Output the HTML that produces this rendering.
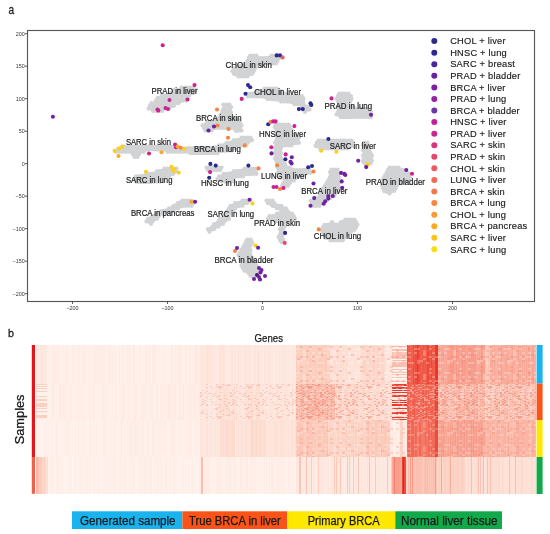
<!DOCTYPE html>
<html><head><meta charset="utf-8"><style>
html,body{margin:0;padding:0;background:#fff;width:550px;height:534px;overflow:hidden;font-family:"Liberation Sans", sans-serif;}
</style></head><body>
<div style="position:relative;width:550px;height:534px;">
<svg width="550" height="534" viewBox="0 0 550 534" style="position:absolute;left:0;top:0;filter:blur(0.3px)"><rect width="550" height="534" fill="#fff"/><text x="8.5" y="13.6" textLength="5.6" lengthAdjust="spacingAndGlyphs" font-family='"Liberation Sans", sans-serif' font-size="12.3" fill="#222" stroke="#222" stroke-width="0.3">a</text><text x="8" y="336.9" textLength="6" lengthAdjust="spacingAndGlyphs" font-family='"Liberation Sans", sans-serif' font-size="11.5" fill="#222" stroke="#222" stroke-width="0.3">b</text><polygon points="248,55 257,54 260,58 268,56 276,54 280,57 279,62 275,65 268,64 258,64 256,70 254,75 245,77 234,76 232,71 236,66 246,63 247,59" fill="#d1d3d5"/><polygon points="246,93 256,91 262,90 267,87 278,87 282,92 290,95 300,94 305,97 305,104 310,106 311,111 305,112 301,106 292,104 283,102 272,101 262,98 248,98" fill="#d1d3d5"/><polygon points="186,86 196,86 197,92 190,96 186,101 178,104 172,108 164,111 156,112 148,110 148,104 155,102 158,96 166,94 172,90 180,88" fill="#d1d3d5"/><polygon points="224,103 230,103 232,108 231,116 238,118 242,122 242,131 236,133 232,128 224,128 216,129 212,131 204,131 202,126 206,121 214,120 220,117 221,110" fill="#d1d3d5"/><polygon points="187,148 205,147 220,145 232,140 242,137 250,136 253,140 248,145 238,148 228,152 212,154 198,155 188,154" fill="#d1d3d5"/><polygon points="116,148 125,146 140,145 160,145 175,146 188,148 195,149 195,153 185,153 170,152 150,151 140,153 138,157 133,157 130,153 120,153 116,152" fill="#d1d3d5"/><polygon points="136,175 150,173 158,170 168,167 176,167 178,172 172,176 165,178 160,182 150,184 138,184 134,180" fill="#d1d3d5"/><polygon points="274,123 290,123 292,128 293,134 299,137 300,144 290,146 282,146 282,158 287,163 287,170 280,169 275,163 274,150 275,140 276,131 273,127" fill="#d1d3d5"/><polygon points="217,176 228,172 240,169 250,167 257,168 258,175 248,176 236,177 234,183 227,183 222,182 217,181" fill="#d1d3d5"/><polygon points="206,167 222,166 222,171 207,171" fill="#d1d3d5"/><polygon points="277,167 290,166 296,170 305,168 311,168 312,173 305,175 297,177 293,182 287,187 281,188 281,183 285,180 279,178 277,173" fill="#d1d3d5"/><polygon points="315,141 330,139 345,139 354,141 354,148 340,149 325,149 315,148" fill="#d1d3d5"/><polygon points="362,141 368,141 369,150 373,155 372,163 366,166 361,162 363,152" fill="#d1d3d5"/><polygon points="337,93 346,92 353,95 352,103 346,106 358,107 366,108 372,112 372,119 362,118 350,119 340,119 336,114 338,106 336,100" fill="#d1d3d5"/><polygon points="331,168 337,168 340,175 340,185 338,192 333,198 326,202 320,206 311,206 310,200 318,196 321,188 326,182 329,175" fill="#d1d3d5"/><polygon points="387,168 395,166 402,168 404,172 410,172 411,180 405,183 398,184 397,190 390,194 383,193 380,186 382,178 386,174" fill="#d1d3d5"/><polygon points="178,201 186,199 193,199 196,203 192,206 184,207 177,210 170,212 163,214 158,219 151,224 146,223 147,218 154,214 160,210 168,208 173,205" fill="#d1d3d5"/><polygon points="239,201 247,199 250,202 245,205 236,209 231,213 230,219 224,224 216,229 209,233 206,230 212,225 219,219 224,214 226,209 232,204" fill="#d1d3d5"/><polygon points="266,200 271,199 278,204 286,208 291,212 296,216 295,221 289,221 285,225 284,232 284,240 281,244 278,240 279,231 280,224 272,221 267,219 268,215 276,214 280,211 272,207 267,204" fill="#d1d3d5"/><polygon points="323,224 332,222 338,223 344,219 352,218 357,221 358,228 352,233 346,236 345,241 336,242 328,240 322,235 321,229" fill="#d1d3d5"/><polygon points="245,239 252,238 254,243 251,248 252,255 255,260 257,266 260,271 259,277 252,278 246,273 242,268 240,262 238,255 240,249 243,245" fill="#d1d3d5"/><g fill="#d1d3d5"><circle cx="250.5" cy="55.6" r="2.1"/><circle cx="253.5" cy="55.6" r="2.1"/><circle cx="256.5" cy="55.6" r="2.1"/><circle cx="271.5" cy="55.6" r="2.1"/><circle cx="274.5" cy="55.6" r="2.1"/><circle cx="277.5" cy="55.6" r="2.1"/><circle cx="249.0" cy="58.2" r="2.1"/><circle cx="252.0" cy="58.2" r="2.1"/><circle cx="255.0" cy="58.2" r="2.1"/><circle cx="258.0" cy="58.2" r="2.1"/><circle cx="261.0" cy="58.2" r="2.1"/><circle cx="264.0" cy="58.2" r="2.1"/><circle cx="267.0" cy="58.2" r="2.1"/><circle cx="270.0" cy="58.2" r="2.1"/><circle cx="273.0" cy="58.2" r="2.1"/><circle cx="276.0" cy="58.2" r="2.1"/><circle cx="279.0" cy="58.2" r="2.1"/><circle cx="247.5" cy="60.8" r="2.1"/><circle cx="250.5" cy="60.8" r="2.1"/><circle cx="253.5" cy="60.8" r="2.1"/><circle cx="256.5" cy="60.8" r="2.1"/><circle cx="259.5" cy="60.8" r="2.1"/><circle cx="262.5" cy="60.8" r="2.1"/><circle cx="265.5" cy="60.8" r="2.1"/><circle cx="268.5" cy="60.8" r="2.1"/><circle cx="271.5" cy="60.8" r="2.1"/><circle cx="274.5" cy="60.8" r="2.1"/><circle cx="277.5" cy="60.8" r="2.1"/><circle cx="246.0" cy="63.4" r="2.1"/><circle cx="249.0" cy="63.4" r="2.1"/><circle cx="252.0" cy="63.4" r="2.1"/><circle cx="255.0" cy="63.4" r="2.1"/><circle cx="258.0" cy="63.4" r="2.1"/><circle cx="261.0" cy="63.4" r="2.1"/><circle cx="264.0" cy="63.4" r="2.1"/><circle cx="267.0" cy="63.4" r="2.1"/><circle cx="270.0" cy="63.4" r="2.1"/><circle cx="273.0" cy="63.4" r="2.1"/><circle cx="276.0" cy="63.4" r="2.1"/><circle cx="238.5" cy="66.0" r="2.1"/><circle cx="241.5" cy="66.0" r="2.1"/><circle cx="244.5" cy="66.0" r="2.1"/><circle cx="247.5" cy="66.0" r="2.1"/><circle cx="250.5" cy="66.0" r="2.1"/><circle cx="253.5" cy="66.0" r="2.1"/><circle cx="256.5" cy="66.0" r="2.1"/><circle cx="234.0" cy="68.6" r="2.1"/><circle cx="237.0" cy="68.6" r="2.1"/><circle cx="240.0" cy="68.6" r="2.1"/><circle cx="243.0" cy="68.6" r="2.1"/><circle cx="246.0" cy="68.6" r="2.1"/><circle cx="249.0" cy="68.6" r="2.1"/><circle cx="252.0" cy="68.6" r="2.1"/><circle cx="255.0" cy="68.6" r="2.1"/><circle cx="232.5" cy="71.2" r="2.1"/><circle cx="235.5" cy="71.2" r="2.1"/><circle cx="238.5" cy="71.2" r="2.1"/><circle cx="241.5" cy="71.2" r="2.1"/><circle cx="244.5" cy="71.2" r="2.1"/><circle cx="247.5" cy="71.2" r="2.1"/><circle cx="250.5" cy="71.2" r="2.1"/><circle cx="253.5" cy="71.2" r="2.1"/><circle cx="234.0" cy="73.8" r="2.1"/><circle cx="237.0" cy="73.8" r="2.1"/><circle cx="240.0" cy="73.8" r="2.1"/><circle cx="243.0" cy="73.8" r="2.1"/><circle cx="246.0" cy="73.8" r="2.1"/><circle cx="249.0" cy="73.8" r="2.1"/><circle cx="252.0" cy="73.8" r="2.1"/><circle cx="238.5" cy="76.4" r="2.1"/><circle cx="241.5" cy="76.4" r="2.1"/><circle cx="244.5" cy="76.4" r="2.1"/><circle cx="247.5" cy="76.4" r="2.1"/><circle cx="264.5" cy="88.6" r="2.1"/><circle cx="267.5" cy="88.6" r="2.1"/><circle cx="270.5" cy="88.6" r="2.1"/><circle cx="273.5" cy="88.6" r="2.1"/><circle cx="276.5" cy="88.6" r="2.1"/><circle cx="257.0" cy="91.2" r="2.1"/><circle cx="260.0" cy="91.2" r="2.1"/><circle cx="263.0" cy="91.2" r="2.1"/><circle cx="266.0" cy="91.2" r="2.1"/><circle cx="269.0" cy="91.2" r="2.1"/><circle cx="272.0" cy="91.2" r="2.1"/><circle cx="275.0" cy="91.2" r="2.1"/><circle cx="278.0" cy="91.2" r="2.1"/><circle cx="281.0" cy="91.2" r="2.1"/><circle cx="246.5" cy="93.8" r="2.1"/><circle cx="249.5" cy="93.8" r="2.1"/><circle cx="252.5" cy="93.8" r="2.1"/><circle cx="255.5" cy="93.8" r="2.1"/><circle cx="258.5" cy="93.8" r="2.1"/><circle cx="261.5" cy="93.8" r="2.1"/><circle cx="264.5" cy="93.8" r="2.1"/><circle cx="267.5" cy="93.8" r="2.1"/><circle cx="270.5" cy="93.8" r="2.1"/><circle cx="273.5" cy="93.8" r="2.1"/><circle cx="276.5" cy="93.8" r="2.1"/><circle cx="279.5" cy="93.8" r="2.1"/><circle cx="282.5" cy="93.8" r="2.1"/><circle cx="285.5" cy="93.8" r="2.1"/><circle cx="248.0" cy="96.4" r="2.1"/><circle cx="251.0" cy="96.4" r="2.1"/><circle cx="254.0" cy="96.4" r="2.1"/><circle cx="257.0" cy="96.4" r="2.1"/><circle cx="260.0" cy="96.4" r="2.1"/><circle cx="263.0" cy="96.4" r="2.1"/><circle cx="266.0" cy="96.4" r="2.1"/><circle cx="269.0" cy="96.4" r="2.1"/><circle cx="272.0" cy="96.4" r="2.1"/><circle cx="275.0" cy="96.4" r="2.1"/><circle cx="278.0" cy="96.4" r="2.1"/><circle cx="281.0" cy="96.4" r="2.1"/><circle cx="284.0" cy="96.4" r="2.1"/><circle cx="287.0" cy="96.4" r="2.1"/><circle cx="290.0" cy="96.4" r="2.1"/><circle cx="293.0" cy="96.4" r="2.1"/><circle cx="296.0" cy="96.4" r="2.1"/><circle cx="299.0" cy="96.4" r="2.1"/><circle cx="302.0" cy="96.4" r="2.1"/><circle cx="267.5" cy="99.0" r="2.1"/><circle cx="270.5" cy="99.0" r="2.1"/><circle cx="273.5" cy="99.0" r="2.1"/><circle cx="276.5" cy="99.0" r="2.1"/><circle cx="279.5" cy="99.0" r="2.1"/><circle cx="282.5" cy="99.0" r="2.1"/><circle cx="285.5" cy="99.0" r="2.1"/><circle cx="288.5" cy="99.0" r="2.1"/><circle cx="291.5" cy="99.0" r="2.1"/><circle cx="294.5" cy="99.0" r="2.1"/><circle cx="297.5" cy="99.0" r="2.1"/><circle cx="300.5" cy="99.0" r="2.1"/><circle cx="303.5" cy="99.0" r="2.1"/><circle cx="281.0" cy="101.6" r="2.1"/><circle cx="284.0" cy="101.6" r="2.1"/><circle cx="287.0" cy="101.6" r="2.1"/><circle cx="290.0" cy="101.6" r="2.1"/><circle cx="293.0" cy="101.6" r="2.1"/><circle cx="296.0" cy="101.6" r="2.1"/><circle cx="299.0" cy="101.6" r="2.1"/><circle cx="302.0" cy="101.6" r="2.1"/><circle cx="294.5" cy="104.2" r="2.1"/><circle cx="297.5" cy="104.2" r="2.1"/><circle cx="300.5" cy="104.2" r="2.1"/><circle cx="303.5" cy="104.2" r="2.1"/><circle cx="302.0" cy="106.8" r="2.1"/><circle cx="305.0" cy="106.8" r="2.1"/><circle cx="308.0" cy="106.8" r="2.1"/><circle cx="303.5" cy="109.4" r="2.1"/><circle cx="306.5" cy="109.4" r="2.1"/><circle cx="309.5" cy="109.4" r="2.1"/><circle cx="305.0" cy="112.0" r="2.1"/><circle cx="181.5" cy="87.6" r="2.1"/><circle cx="184.5" cy="87.6" r="2.1"/><circle cx="187.5" cy="87.6" r="2.1"/><circle cx="190.5" cy="87.6" r="2.1"/><circle cx="193.5" cy="87.6" r="2.1"/><circle cx="174.0" cy="90.2" r="2.1"/><circle cx="177.0" cy="90.2" r="2.1"/><circle cx="180.0" cy="90.2" r="2.1"/><circle cx="183.0" cy="90.2" r="2.1"/><circle cx="186.0" cy="90.2" r="2.1"/><circle cx="189.0" cy="90.2" r="2.1"/><circle cx="192.0" cy="90.2" r="2.1"/><circle cx="195.0" cy="90.2" r="2.1"/><circle cx="169.5" cy="92.8" r="2.1"/><circle cx="172.5" cy="92.8" r="2.1"/><circle cx="175.5" cy="92.8" r="2.1"/><circle cx="178.5" cy="92.8" r="2.1"/><circle cx="181.5" cy="92.8" r="2.1"/><circle cx="184.5" cy="92.8" r="2.1"/><circle cx="187.5" cy="92.8" r="2.1"/><circle cx="190.5" cy="92.8" r="2.1"/><circle cx="193.5" cy="92.8" r="2.1"/><circle cx="162.0" cy="95.4" r="2.1"/><circle cx="165.0" cy="95.4" r="2.1"/><circle cx="168.0" cy="95.4" r="2.1"/><circle cx="171.0" cy="95.4" r="2.1"/><circle cx="174.0" cy="95.4" r="2.1"/><circle cx="177.0" cy="95.4" r="2.1"/><circle cx="180.0" cy="95.4" r="2.1"/><circle cx="183.0" cy="95.4" r="2.1"/><circle cx="186.0" cy="95.4" r="2.1"/><circle cx="189.0" cy="95.4" r="2.1"/><circle cx="157.5" cy="98.0" r="2.1"/><circle cx="160.5" cy="98.0" r="2.1"/><circle cx="163.5" cy="98.0" r="2.1"/><circle cx="166.5" cy="98.0" r="2.1"/><circle cx="169.5" cy="98.0" r="2.1"/><circle cx="172.5" cy="98.0" r="2.1"/><circle cx="175.5" cy="98.0" r="2.1"/><circle cx="178.5" cy="98.0" r="2.1"/><circle cx="181.5" cy="98.0" r="2.1"/><circle cx="184.5" cy="98.0" r="2.1"/><circle cx="187.5" cy="98.0" r="2.1"/><circle cx="156.0" cy="100.6" r="2.1"/><circle cx="159.0" cy="100.6" r="2.1"/><circle cx="162.0" cy="100.6" r="2.1"/><circle cx="165.0" cy="100.6" r="2.1"/><circle cx="168.0" cy="100.6" r="2.1"/><circle cx="171.0" cy="100.6" r="2.1"/><circle cx="174.0" cy="100.6" r="2.1"/><circle cx="177.0" cy="100.6" r="2.1"/><circle cx="180.0" cy="100.6" r="2.1"/><circle cx="183.0" cy="100.6" r="2.1"/><circle cx="186.0" cy="100.6" r="2.1"/><circle cx="151.5" cy="103.2" r="2.1"/><circle cx="154.5" cy="103.2" r="2.1"/><circle cx="157.5" cy="103.2" r="2.1"/><circle cx="160.5" cy="103.2" r="2.1"/><circle cx="163.5" cy="103.2" r="2.1"/><circle cx="166.5" cy="103.2" r="2.1"/><circle cx="169.5" cy="103.2" r="2.1"/><circle cx="172.5" cy="103.2" r="2.1"/><circle cx="175.5" cy="103.2" r="2.1"/><circle cx="178.5" cy="103.2" r="2.1"/><circle cx="150.0" cy="105.8" r="2.1"/><circle cx="153.0" cy="105.8" r="2.1"/><circle cx="156.0" cy="105.8" r="2.1"/><circle cx="159.0" cy="105.8" r="2.1"/><circle cx="162.0" cy="105.8" r="2.1"/><circle cx="165.0" cy="105.8" r="2.1"/><circle cx="168.0" cy="105.8" r="2.1"/><circle cx="171.0" cy="105.8" r="2.1"/><circle cx="174.0" cy="105.8" r="2.1"/><circle cx="148.5" cy="108.4" r="2.1"/><circle cx="151.5" cy="108.4" r="2.1"/><circle cx="154.5" cy="108.4" r="2.1"/><circle cx="157.5" cy="108.4" r="2.1"/><circle cx="160.5" cy="108.4" r="2.1"/><circle cx="163.5" cy="108.4" r="2.1"/><circle cx="166.5" cy="108.4" r="2.1"/><circle cx="169.5" cy="108.4" r="2.1"/><circle cx="153.0" cy="111.0" r="2.1"/><circle cx="156.0" cy="111.0" r="2.1"/><circle cx="159.0" cy="111.0" r="2.1"/><circle cx="162.0" cy="111.0" r="2.1"/><circle cx="223.5" cy="104.6" r="2.1"/><circle cx="226.5" cy="104.6" r="2.1"/><circle cx="229.5" cy="104.6" r="2.1"/><circle cx="225.0" cy="107.2" r="2.1"/><circle cx="228.0" cy="107.2" r="2.1"/><circle cx="231.0" cy="107.2" r="2.1"/><circle cx="223.5" cy="109.8" r="2.1"/><circle cx="226.5" cy="109.8" r="2.1"/><circle cx="229.5" cy="109.8" r="2.1"/><circle cx="222.0" cy="112.4" r="2.1"/><circle cx="225.0" cy="112.4" r="2.1"/><circle cx="228.0" cy="112.4" r="2.1"/><circle cx="231.0" cy="112.4" r="2.1"/><circle cx="220.5" cy="115.0" r="2.1"/><circle cx="223.5" cy="115.0" r="2.1"/><circle cx="226.5" cy="115.0" r="2.1"/><circle cx="229.5" cy="115.0" r="2.1"/><circle cx="219.0" cy="117.6" r="2.1"/><circle cx="222.0" cy="117.6" r="2.1"/><circle cx="225.0" cy="117.6" r="2.1"/><circle cx="228.0" cy="117.6" r="2.1"/><circle cx="231.0" cy="117.6" r="2.1"/><circle cx="234.0" cy="117.6" r="2.1"/><circle cx="214.5" cy="120.2" r="2.1"/><circle cx="217.5" cy="120.2" r="2.1"/><circle cx="220.5" cy="120.2" r="2.1"/><circle cx="223.5" cy="120.2" r="2.1"/><circle cx="226.5" cy="120.2" r="2.1"/><circle cx="229.5" cy="120.2" r="2.1"/><circle cx="232.5" cy="120.2" r="2.1"/><circle cx="235.5" cy="120.2" r="2.1"/><circle cx="238.5" cy="120.2" r="2.1"/><circle cx="207.0" cy="122.8" r="2.1"/><circle cx="210.0" cy="122.8" r="2.1"/><circle cx="213.0" cy="122.8" r="2.1"/><circle cx="216.0" cy="122.8" r="2.1"/><circle cx="219.0" cy="122.8" r="2.1"/><circle cx="222.0" cy="122.8" r="2.1"/><circle cx="225.0" cy="122.8" r="2.1"/><circle cx="228.0" cy="122.8" r="2.1"/><circle cx="231.0" cy="122.8" r="2.1"/><circle cx="234.0" cy="122.8" r="2.1"/><circle cx="237.0" cy="122.8" r="2.1"/><circle cx="240.0" cy="122.8" r="2.1"/><circle cx="202.5" cy="125.4" r="2.1"/><circle cx="205.5" cy="125.4" r="2.1"/><circle cx="208.5" cy="125.4" r="2.1"/><circle cx="211.5" cy="125.4" r="2.1"/><circle cx="214.5" cy="125.4" r="2.1"/><circle cx="217.5" cy="125.4" r="2.1"/><circle cx="220.5" cy="125.4" r="2.1"/><circle cx="223.5" cy="125.4" r="2.1"/><circle cx="226.5" cy="125.4" r="2.1"/><circle cx="229.5" cy="125.4" r="2.1"/><circle cx="232.5" cy="125.4" r="2.1"/><circle cx="235.5" cy="125.4" r="2.1"/><circle cx="238.5" cy="125.4" r="2.1"/><circle cx="241.5" cy="125.4" r="2.1"/><circle cx="204.0" cy="128.0" r="2.1"/><circle cx="207.0" cy="128.0" r="2.1"/><circle cx="210.0" cy="128.0" r="2.1"/><circle cx="213.0" cy="128.0" r="2.1"/><circle cx="216.0" cy="128.0" r="2.1"/><circle cx="219.0" cy="128.0" r="2.1"/><circle cx="222.0" cy="128.0" r="2.1"/><circle cx="225.0" cy="128.0" r="2.1"/><circle cx="228.0" cy="128.0" r="2.1"/><circle cx="231.0" cy="128.0" r="2.1"/><circle cx="234.0" cy="128.0" r="2.1"/><circle cx="237.0" cy="128.0" r="2.1"/><circle cx="240.0" cy="128.0" r="2.1"/><circle cx="205.5" cy="130.6" r="2.1"/><circle cx="208.5" cy="130.6" r="2.1"/><circle cx="211.5" cy="130.6" r="2.1"/><circle cx="235.5" cy="130.6" r="2.1"/><circle cx="238.5" cy="130.6" r="2.1"/><circle cx="241.5" cy="130.6" r="2.1"/><circle cx="241.5" cy="137.6" r="2.1"/><circle cx="244.5" cy="137.6" r="2.1"/><circle cx="247.5" cy="137.6" r="2.1"/><circle cx="250.5" cy="137.6" r="2.1"/><circle cx="234.0" cy="140.2" r="2.1"/><circle cx="237.0" cy="140.2" r="2.1"/><circle cx="240.0" cy="140.2" r="2.1"/><circle cx="243.0" cy="140.2" r="2.1"/><circle cx="246.0" cy="140.2" r="2.1"/><circle cx="249.0" cy="140.2" r="2.1"/><circle cx="252.0" cy="140.2" r="2.1"/><circle cx="226.5" cy="142.8" r="2.1"/><circle cx="229.5" cy="142.8" r="2.1"/><circle cx="232.5" cy="142.8" r="2.1"/><circle cx="235.5" cy="142.8" r="2.1"/><circle cx="238.5" cy="142.8" r="2.1"/><circle cx="241.5" cy="142.8" r="2.1"/><circle cx="244.5" cy="142.8" r="2.1"/><circle cx="247.5" cy="142.8" r="2.1"/><circle cx="219.0" cy="145.4" r="2.1"/><circle cx="222.0" cy="145.4" r="2.1"/><circle cx="225.0" cy="145.4" r="2.1"/><circle cx="228.0" cy="145.4" r="2.1"/><circle cx="231.0" cy="145.4" r="2.1"/><circle cx="234.0" cy="145.4" r="2.1"/><circle cx="237.0" cy="145.4" r="2.1"/><circle cx="240.0" cy="145.4" r="2.1"/><circle cx="243.0" cy="145.4" r="2.1"/><circle cx="246.0" cy="145.4" r="2.1"/><circle cx="187.5" cy="148.0" r="2.1"/><circle cx="190.5" cy="148.0" r="2.1"/><circle cx="193.5" cy="148.0" r="2.1"/><circle cx="196.5" cy="148.0" r="2.1"/><circle cx="199.5" cy="148.0" r="2.1"/><circle cx="202.5" cy="148.0" r="2.1"/><circle cx="205.5" cy="148.0" r="2.1"/><circle cx="208.5" cy="148.0" r="2.1"/><circle cx="211.5" cy="148.0" r="2.1"/><circle cx="214.5" cy="148.0" r="2.1"/><circle cx="217.5" cy="148.0" r="2.1"/><circle cx="220.5" cy="148.0" r="2.1"/><circle cx="223.5" cy="148.0" r="2.1"/><circle cx="226.5" cy="148.0" r="2.1"/><circle cx="229.5" cy="148.0" r="2.1"/><circle cx="232.5" cy="148.0" r="2.1"/><circle cx="235.5" cy="148.0" r="2.1"/><circle cx="189.0" cy="150.6" r="2.1"/><circle cx="192.0" cy="150.6" r="2.1"/><circle cx="195.0" cy="150.6" r="2.1"/><circle cx="198.0" cy="150.6" r="2.1"/><circle cx="201.0" cy="150.6" r="2.1"/><circle cx="204.0" cy="150.6" r="2.1"/><circle cx="207.0" cy="150.6" r="2.1"/><circle cx="210.0" cy="150.6" r="2.1"/><circle cx="213.0" cy="150.6" r="2.1"/><circle cx="216.0" cy="150.6" r="2.1"/><circle cx="219.0" cy="150.6" r="2.1"/><circle cx="222.0" cy="150.6" r="2.1"/><circle cx="225.0" cy="150.6" r="2.1"/><circle cx="228.0" cy="150.6" r="2.1"/><circle cx="231.0" cy="150.6" r="2.1"/><circle cx="190.5" cy="153.2" r="2.1"/><circle cx="193.5" cy="153.2" r="2.1"/><circle cx="196.5" cy="153.2" r="2.1"/><circle cx="199.5" cy="153.2" r="2.1"/><circle cx="202.5" cy="153.2" r="2.1"/><circle cx="205.5" cy="153.2" r="2.1"/><circle cx="208.5" cy="153.2" r="2.1"/><circle cx="211.5" cy="153.2" r="2.1"/><circle cx="214.5" cy="153.2" r="2.1"/><circle cx="217.5" cy="153.2" r="2.1"/><circle cx="122.5" cy="146.6" r="2.1"/><circle cx="125.5" cy="146.6" r="2.1"/><circle cx="128.5" cy="146.6" r="2.1"/><circle cx="131.5" cy="146.6" r="2.1"/><circle cx="134.5" cy="146.6" r="2.1"/><circle cx="137.5" cy="146.6" r="2.1"/><circle cx="140.5" cy="146.6" r="2.1"/><circle cx="143.5" cy="146.6" r="2.1"/><circle cx="146.5" cy="146.6" r="2.1"/><circle cx="149.5" cy="146.6" r="2.1"/><circle cx="152.5" cy="146.6" r="2.1"/><circle cx="155.5" cy="146.6" r="2.1"/><circle cx="158.5" cy="146.6" r="2.1"/><circle cx="161.5" cy="146.6" r="2.1"/><circle cx="164.5" cy="146.6" r="2.1"/><circle cx="167.5" cy="146.6" r="2.1"/><circle cx="170.5" cy="146.6" r="2.1"/><circle cx="173.5" cy="146.6" r="2.1"/><circle cx="176.5" cy="146.6" r="2.1"/><circle cx="118.0" cy="149.2" r="2.1"/><circle cx="121.0" cy="149.2" r="2.1"/><circle cx="124.0" cy="149.2" r="2.1"/><circle cx="127.0" cy="149.2" r="2.1"/><circle cx="130.0" cy="149.2" r="2.1"/><circle cx="133.0" cy="149.2" r="2.1"/><circle cx="136.0" cy="149.2" r="2.1"/><circle cx="139.0" cy="149.2" r="2.1"/><circle cx="142.0" cy="149.2" r="2.1"/><circle cx="145.0" cy="149.2" r="2.1"/><circle cx="148.0" cy="149.2" r="2.1"/><circle cx="151.0" cy="149.2" r="2.1"/><circle cx="154.0" cy="149.2" r="2.1"/><circle cx="157.0" cy="149.2" r="2.1"/><circle cx="160.0" cy="149.2" r="2.1"/><circle cx="163.0" cy="149.2" r="2.1"/><circle cx="166.0" cy="149.2" r="2.1"/><circle cx="169.0" cy="149.2" r="2.1"/><circle cx="172.0" cy="149.2" r="2.1"/><circle cx="175.0" cy="149.2" r="2.1"/><circle cx="178.0" cy="149.2" r="2.1"/><circle cx="181.0" cy="149.2" r="2.1"/><circle cx="184.0" cy="149.2" r="2.1"/><circle cx="187.0" cy="149.2" r="2.1"/><circle cx="190.0" cy="149.2" r="2.1"/><circle cx="193.0" cy="149.2" r="2.1"/><circle cx="116.5" cy="151.8" r="2.1"/><circle cx="119.5" cy="151.8" r="2.1"/><circle cx="122.5" cy="151.8" r="2.1"/><circle cx="125.5" cy="151.8" r="2.1"/><circle cx="128.5" cy="151.8" r="2.1"/><circle cx="131.5" cy="151.8" r="2.1"/><circle cx="134.5" cy="151.8" r="2.1"/><circle cx="137.5" cy="151.8" r="2.1"/><circle cx="140.5" cy="151.8" r="2.1"/><circle cx="143.5" cy="151.8" r="2.1"/><circle cx="167.5" cy="151.8" r="2.1"/><circle cx="170.5" cy="151.8" r="2.1"/><circle cx="173.5" cy="151.8" r="2.1"/><circle cx="176.5" cy="151.8" r="2.1"/><circle cx="179.5" cy="151.8" r="2.1"/><circle cx="182.5" cy="151.8" r="2.1"/><circle cx="185.5" cy="151.8" r="2.1"/><circle cx="188.5" cy="151.8" r="2.1"/><circle cx="191.5" cy="151.8" r="2.1"/><circle cx="194.5" cy="151.8" r="2.1"/><circle cx="133.0" cy="154.4" r="2.1"/><circle cx="136.0" cy="154.4" r="2.1"/><circle cx="139.0" cy="154.4" r="2.1"/><circle cx="134.5" cy="157.0" r="2.1"/><circle cx="137.5" cy="157.0" r="2.1"/><circle cx="164.5" cy="168.6" r="2.1"/><circle cx="167.5" cy="168.6" r="2.1"/><circle cx="170.5" cy="168.6" r="2.1"/><circle cx="173.5" cy="168.6" r="2.1"/><circle cx="176.5" cy="168.6" r="2.1"/><circle cx="157.0" cy="171.2" r="2.1"/><circle cx="160.0" cy="171.2" r="2.1"/><circle cx="163.0" cy="171.2" r="2.1"/><circle cx="166.0" cy="171.2" r="2.1"/><circle cx="169.0" cy="171.2" r="2.1"/><circle cx="172.0" cy="171.2" r="2.1"/><circle cx="175.0" cy="171.2" r="2.1"/><circle cx="146.5" cy="173.8" r="2.1"/><circle cx="149.5" cy="173.8" r="2.1"/><circle cx="152.5" cy="173.8" r="2.1"/><circle cx="155.5" cy="173.8" r="2.1"/><circle cx="158.5" cy="173.8" r="2.1"/><circle cx="161.5" cy="173.8" r="2.1"/><circle cx="164.5" cy="173.8" r="2.1"/><circle cx="167.5" cy="173.8" r="2.1"/><circle cx="170.5" cy="173.8" r="2.1"/><circle cx="173.5" cy="173.8" r="2.1"/><circle cx="136.0" cy="176.4" r="2.1"/><circle cx="139.0" cy="176.4" r="2.1"/><circle cx="142.0" cy="176.4" r="2.1"/><circle cx="145.0" cy="176.4" r="2.1"/><circle cx="148.0" cy="176.4" r="2.1"/><circle cx="151.0" cy="176.4" r="2.1"/><circle cx="154.0" cy="176.4" r="2.1"/><circle cx="157.0" cy="176.4" r="2.1"/><circle cx="160.0" cy="176.4" r="2.1"/><circle cx="163.0" cy="176.4" r="2.1"/><circle cx="166.0" cy="176.4" r="2.1"/><circle cx="169.0" cy="176.4" r="2.1"/><circle cx="134.5" cy="179.0" r="2.1"/><circle cx="137.5" cy="179.0" r="2.1"/><circle cx="140.5" cy="179.0" r="2.1"/><circle cx="143.5" cy="179.0" r="2.1"/><circle cx="146.5" cy="179.0" r="2.1"/><circle cx="149.5" cy="179.0" r="2.1"/><circle cx="152.5" cy="179.0" r="2.1"/><circle cx="155.5" cy="179.0" r="2.1"/><circle cx="158.5" cy="179.0" r="2.1"/><circle cx="161.5" cy="179.0" r="2.1"/><circle cx="136.0" cy="181.6" r="2.1"/><circle cx="139.0" cy="181.6" r="2.1"/><circle cx="142.0" cy="181.6" r="2.1"/><circle cx="145.0" cy="181.6" r="2.1"/><circle cx="148.0" cy="181.6" r="2.1"/><circle cx="151.0" cy="181.6" r="2.1"/><circle cx="154.0" cy="181.6" r="2.1"/><circle cx="157.0" cy="181.6" r="2.1"/><circle cx="160.0" cy="181.6" r="2.1"/><circle cx="276.5" cy="124.6" r="2.1"/><circle cx="279.5" cy="124.6" r="2.1"/><circle cx="282.5" cy="124.6" r="2.1"/><circle cx="285.5" cy="124.6" r="2.1"/><circle cx="288.5" cy="124.6" r="2.1"/><circle cx="275.0" cy="127.2" r="2.1"/><circle cx="278.0" cy="127.2" r="2.1"/><circle cx="281.0" cy="127.2" r="2.1"/><circle cx="284.0" cy="127.2" r="2.1"/><circle cx="287.0" cy="127.2" r="2.1"/><circle cx="290.0" cy="127.2" r="2.1"/><circle cx="276.5" cy="129.8" r="2.1"/><circle cx="279.5" cy="129.8" r="2.1"/><circle cx="282.5" cy="129.8" r="2.1"/><circle cx="285.5" cy="129.8" r="2.1"/><circle cx="288.5" cy="129.8" r="2.1"/><circle cx="291.5" cy="129.8" r="2.1"/><circle cx="278.0" cy="132.4" r="2.1"/><circle cx="281.0" cy="132.4" r="2.1"/><circle cx="284.0" cy="132.4" r="2.1"/><circle cx="287.0" cy="132.4" r="2.1"/><circle cx="290.0" cy="132.4" r="2.1"/><circle cx="276.5" cy="135.0" r="2.1"/><circle cx="279.5" cy="135.0" r="2.1"/><circle cx="282.5" cy="135.0" r="2.1"/><circle cx="285.5" cy="135.0" r="2.1"/><circle cx="288.5" cy="135.0" r="2.1"/><circle cx="291.5" cy="135.0" r="2.1"/><circle cx="294.5" cy="135.0" r="2.1"/><circle cx="278.0" cy="137.6" r="2.1"/><circle cx="281.0" cy="137.6" r="2.1"/><circle cx="284.0" cy="137.6" r="2.1"/><circle cx="287.0" cy="137.6" r="2.1"/><circle cx="290.0" cy="137.6" r="2.1"/><circle cx="293.0" cy="137.6" r="2.1"/><circle cx="296.0" cy="137.6" r="2.1"/><circle cx="299.0" cy="137.6" r="2.1"/><circle cx="276.5" cy="140.2" r="2.1"/><circle cx="279.5" cy="140.2" r="2.1"/><circle cx="282.5" cy="140.2" r="2.1"/><circle cx="285.5" cy="140.2" r="2.1"/><circle cx="288.5" cy="140.2" r="2.1"/><circle cx="291.5" cy="140.2" r="2.1"/><circle cx="294.5" cy="140.2" r="2.1"/><circle cx="297.5" cy="140.2" r="2.1"/><circle cx="275.0" cy="142.8" r="2.1"/><circle cx="278.0" cy="142.8" r="2.1"/><circle cx="281.0" cy="142.8" r="2.1"/><circle cx="284.0" cy="142.8" r="2.1"/><circle cx="287.0" cy="142.8" r="2.1"/><circle cx="290.0" cy="142.8" r="2.1"/><circle cx="293.0" cy="142.8" r="2.1"/><circle cx="296.0" cy="142.8" r="2.1"/><circle cx="299.0" cy="142.8" r="2.1"/><circle cx="276.5" cy="145.4" r="2.1"/><circle cx="279.5" cy="145.4" r="2.1"/><circle cx="282.5" cy="145.4" r="2.1"/><circle cx="285.5" cy="145.4" r="2.1"/><circle cx="288.5" cy="145.4" r="2.1"/><circle cx="291.5" cy="145.4" r="2.1"/><circle cx="275.0" cy="148.0" r="2.1"/><circle cx="278.0" cy="148.0" r="2.1"/><circle cx="281.0" cy="148.0" r="2.1"/><circle cx="276.5" cy="150.6" r="2.1"/><circle cx="279.5" cy="150.6" r="2.1"/><circle cx="275.0" cy="153.2" r="2.1"/><circle cx="278.0" cy="153.2" r="2.1"/><circle cx="281.0" cy="153.2" r="2.1"/><circle cx="276.5" cy="155.8" r="2.1"/><circle cx="279.5" cy="155.8" r="2.1"/><circle cx="275.0" cy="158.4" r="2.1"/><circle cx="278.0" cy="158.4" r="2.1"/><circle cx="281.0" cy="158.4" r="2.1"/><circle cx="276.5" cy="161.0" r="2.1"/><circle cx="279.5" cy="161.0" r="2.1"/><circle cx="282.5" cy="161.0" r="2.1"/><circle cx="278.0" cy="163.6" r="2.1"/><circle cx="281.0" cy="163.6" r="2.1"/><circle cx="284.0" cy="163.6" r="2.1"/><circle cx="279.5" cy="166.2" r="2.1"/><circle cx="282.5" cy="166.2" r="2.1"/><circle cx="285.5" cy="166.2" r="2.1"/><circle cx="281.0" cy="168.8" r="2.1"/><circle cx="284.0" cy="168.8" r="2.1"/><circle cx="244.5" cy="168.6" r="2.1"/><circle cx="247.5" cy="168.6" r="2.1"/><circle cx="250.5" cy="168.6" r="2.1"/><circle cx="253.5" cy="168.6" r="2.1"/><circle cx="256.5" cy="168.6" r="2.1"/><circle cx="234.0" cy="171.2" r="2.1"/><circle cx="237.0" cy="171.2" r="2.1"/><circle cx="240.0" cy="171.2" r="2.1"/><circle cx="243.0" cy="171.2" r="2.1"/><circle cx="246.0" cy="171.2" r="2.1"/><circle cx="249.0" cy="171.2" r="2.1"/><circle cx="252.0" cy="171.2" r="2.1"/><circle cx="255.0" cy="171.2" r="2.1"/><circle cx="223.5" cy="173.8" r="2.1"/><circle cx="226.5" cy="173.8" r="2.1"/><circle cx="229.5" cy="173.8" r="2.1"/><circle cx="232.5" cy="173.8" r="2.1"/><circle cx="235.5" cy="173.8" r="2.1"/><circle cx="238.5" cy="173.8" r="2.1"/><circle cx="241.5" cy="173.8" r="2.1"/><circle cx="244.5" cy="173.8" r="2.1"/><circle cx="247.5" cy="173.8" r="2.1"/><circle cx="250.5" cy="173.8" r="2.1"/><circle cx="253.5" cy="173.8" r="2.1"/><circle cx="256.5" cy="173.8" r="2.1"/><circle cx="219.0" cy="176.4" r="2.1"/><circle cx="222.0" cy="176.4" r="2.1"/><circle cx="225.0" cy="176.4" r="2.1"/><circle cx="228.0" cy="176.4" r="2.1"/><circle cx="231.0" cy="176.4" r="2.1"/><circle cx="234.0" cy="176.4" r="2.1"/><circle cx="237.0" cy="176.4" r="2.1"/><circle cx="240.0" cy="176.4" r="2.1"/><circle cx="243.0" cy="176.4" r="2.1"/><circle cx="217.5" cy="179.0" r="2.1"/><circle cx="220.5" cy="179.0" r="2.1"/><circle cx="223.5" cy="179.0" r="2.1"/><circle cx="226.5" cy="179.0" r="2.1"/><circle cx="229.5" cy="179.0" r="2.1"/><circle cx="232.5" cy="179.0" r="2.1"/><circle cx="222.0" cy="181.6" r="2.1"/><circle cx="225.0" cy="181.6" r="2.1"/><circle cx="228.0" cy="181.6" r="2.1"/><circle cx="231.0" cy="181.6" r="2.1"/><circle cx="234.0" cy="181.6" r="2.1"/><circle cx="206.5" cy="167.6" r="2.1"/><circle cx="209.5" cy="167.6" r="2.1"/><circle cx="212.5" cy="167.6" r="2.1"/><circle cx="215.5" cy="167.6" r="2.1"/><circle cx="218.5" cy="167.6" r="2.1"/><circle cx="221.5" cy="167.6" r="2.1"/><circle cx="208.0" cy="170.2" r="2.1"/><circle cx="211.0" cy="170.2" r="2.1"/><circle cx="214.0" cy="170.2" r="2.1"/><circle cx="217.0" cy="170.2" r="2.1"/><circle cx="220.0" cy="170.2" r="2.1"/><circle cx="277.5" cy="167.6" r="2.1"/><circle cx="280.5" cy="167.6" r="2.1"/><circle cx="283.5" cy="167.6" r="2.1"/><circle cx="286.5" cy="167.6" r="2.1"/><circle cx="289.5" cy="167.6" r="2.1"/><circle cx="279.0" cy="170.2" r="2.1"/><circle cx="282.0" cy="170.2" r="2.1"/><circle cx="285.0" cy="170.2" r="2.1"/><circle cx="288.0" cy="170.2" r="2.1"/><circle cx="291.0" cy="170.2" r="2.1"/><circle cx="294.0" cy="170.2" r="2.1"/><circle cx="297.0" cy="170.2" r="2.1"/><circle cx="300.0" cy="170.2" r="2.1"/><circle cx="303.0" cy="170.2" r="2.1"/><circle cx="306.0" cy="170.2" r="2.1"/><circle cx="309.0" cy="170.2" r="2.1"/><circle cx="277.5" cy="172.8" r="2.1"/><circle cx="280.5" cy="172.8" r="2.1"/><circle cx="283.5" cy="172.8" r="2.1"/><circle cx="286.5" cy="172.8" r="2.1"/><circle cx="289.5" cy="172.8" r="2.1"/><circle cx="292.5" cy="172.8" r="2.1"/><circle cx="295.5" cy="172.8" r="2.1"/><circle cx="298.5" cy="172.8" r="2.1"/><circle cx="301.5" cy="172.8" r="2.1"/><circle cx="304.5" cy="172.8" r="2.1"/><circle cx="307.5" cy="172.8" r="2.1"/><circle cx="310.5" cy="172.8" r="2.1"/><circle cx="279.0" cy="175.4" r="2.1"/><circle cx="282.0" cy="175.4" r="2.1"/><circle cx="285.0" cy="175.4" r="2.1"/><circle cx="288.0" cy="175.4" r="2.1"/><circle cx="291.0" cy="175.4" r="2.1"/><circle cx="294.0" cy="175.4" r="2.1"/><circle cx="297.0" cy="175.4" r="2.1"/><circle cx="300.0" cy="175.4" r="2.1"/><circle cx="303.0" cy="175.4" r="2.1"/><circle cx="280.5" cy="178.0" r="2.1"/><circle cx="283.5" cy="178.0" r="2.1"/><circle cx="286.5" cy="178.0" r="2.1"/><circle cx="289.5" cy="178.0" r="2.1"/><circle cx="292.5" cy="178.0" r="2.1"/><circle cx="295.5" cy="178.0" r="2.1"/><circle cx="285.0" cy="180.6" r="2.1"/><circle cx="288.0" cy="180.6" r="2.1"/><circle cx="291.0" cy="180.6" r="2.1"/><circle cx="294.0" cy="180.6" r="2.1"/><circle cx="283.5" cy="183.2" r="2.1"/><circle cx="286.5" cy="183.2" r="2.1"/><circle cx="289.5" cy="183.2" r="2.1"/><circle cx="282.0" cy="185.8" r="2.1"/><circle cx="285.0" cy="185.8" r="2.1"/><circle cx="288.0" cy="185.8" r="2.1"/><circle cx="318.5" cy="140.6" r="2.1"/><circle cx="321.5" cy="140.6" r="2.1"/><circle cx="324.5" cy="140.6" r="2.1"/><circle cx="327.5" cy="140.6" r="2.1"/><circle cx="330.5" cy="140.6" r="2.1"/><circle cx="333.5" cy="140.6" r="2.1"/><circle cx="336.5" cy="140.6" r="2.1"/><circle cx="339.5" cy="140.6" r="2.1"/><circle cx="342.5" cy="140.6" r="2.1"/><circle cx="345.5" cy="140.6" r="2.1"/><circle cx="348.5" cy="140.6" r="2.1"/><circle cx="351.5" cy="140.6" r="2.1"/><circle cx="317.0" cy="143.2" r="2.1"/><circle cx="320.0" cy="143.2" r="2.1"/><circle cx="323.0" cy="143.2" r="2.1"/><circle cx="326.0" cy="143.2" r="2.1"/><circle cx="329.0" cy="143.2" r="2.1"/><circle cx="332.0" cy="143.2" r="2.1"/><circle cx="335.0" cy="143.2" r="2.1"/><circle cx="338.0" cy="143.2" r="2.1"/><circle cx="341.0" cy="143.2" r="2.1"/><circle cx="344.0" cy="143.2" r="2.1"/><circle cx="347.0" cy="143.2" r="2.1"/><circle cx="350.0" cy="143.2" r="2.1"/><circle cx="353.0" cy="143.2" r="2.1"/><circle cx="315.5" cy="145.8" r="2.1"/><circle cx="318.5" cy="145.8" r="2.1"/><circle cx="321.5" cy="145.8" r="2.1"/><circle cx="324.5" cy="145.8" r="2.1"/><circle cx="327.5" cy="145.8" r="2.1"/><circle cx="330.5" cy="145.8" r="2.1"/><circle cx="333.5" cy="145.8" r="2.1"/><circle cx="336.5" cy="145.8" r="2.1"/><circle cx="339.5" cy="145.8" r="2.1"/><circle cx="342.5" cy="145.8" r="2.1"/><circle cx="345.5" cy="145.8" r="2.1"/><circle cx="348.5" cy="145.8" r="2.1"/><circle cx="351.5" cy="145.8" r="2.1"/><circle cx="320.0" cy="148.4" r="2.1"/><circle cx="323.0" cy="148.4" r="2.1"/><circle cx="326.0" cy="148.4" r="2.1"/><circle cx="329.0" cy="148.4" r="2.1"/><circle cx="332.0" cy="148.4" r="2.1"/><circle cx="335.0" cy="148.4" r="2.1"/><circle cx="338.0" cy="148.4" r="2.1"/><circle cx="341.0" cy="148.4" r="2.1"/><circle cx="344.0" cy="148.4" r="2.1"/><circle cx="347.0" cy="148.4" r="2.1"/><circle cx="364.5" cy="142.6" r="2.1"/><circle cx="367.5" cy="142.6" r="2.1"/><circle cx="363.0" cy="145.2" r="2.1"/><circle cx="366.0" cy="145.2" r="2.1"/><circle cx="364.5" cy="147.8" r="2.1"/><circle cx="367.5" cy="147.8" r="2.1"/><circle cx="363.0" cy="150.4" r="2.1"/><circle cx="366.0" cy="150.4" r="2.1"/><circle cx="369.0" cy="150.4" r="2.1"/><circle cx="364.5" cy="153.0" r="2.1"/><circle cx="367.5" cy="153.0" r="2.1"/><circle cx="370.5" cy="153.0" r="2.1"/><circle cx="363.0" cy="155.6" r="2.1"/><circle cx="366.0" cy="155.6" r="2.1"/><circle cx="369.0" cy="155.6" r="2.1"/><circle cx="372.0" cy="155.6" r="2.1"/><circle cx="364.5" cy="158.2" r="2.1"/><circle cx="367.5" cy="158.2" r="2.1"/><circle cx="370.5" cy="158.2" r="2.1"/><circle cx="363.0" cy="160.8" r="2.1"/><circle cx="366.0" cy="160.8" r="2.1"/><circle cx="369.0" cy="160.8" r="2.1"/><circle cx="372.0" cy="160.8" r="2.1"/><circle cx="364.5" cy="163.4" r="2.1"/><circle cx="367.5" cy="163.4" r="2.1"/><circle cx="370.5" cy="163.4" r="2.1"/><circle cx="366.0" cy="166.0" r="2.1"/><circle cx="339.5" cy="93.6" r="2.1"/><circle cx="342.5" cy="93.6" r="2.1"/><circle cx="345.5" cy="93.6" r="2.1"/><circle cx="348.5" cy="93.6" r="2.1"/><circle cx="338.0" cy="96.2" r="2.1"/><circle cx="341.0" cy="96.2" r="2.1"/><circle cx="344.0" cy="96.2" r="2.1"/><circle cx="347.0" cy="96.2" r="2.1"/><circle cx="350.0" cy="96.2" r="2.1"/><circle cx="336.5" cy="98.8" r="2.1"/><circle cx="339.5" cy="98.8" r="2.1"/><circle cx="342.5" cy="98.8" r="2.1"/><circle cx="345.5" cy="98.8" r="2.1"/><circle cx="348.5" cy="98.8" r="2.1"/><circle cx="351.5" cy="98.8" r="2.1"/><circle cx="338.0" cy="101.4" r="2.1"/><circle cx="341.0" cy="101.4" r="2.1"/><circle cx="344.0" cy="101.4" r="2.1"/><circle cx="347.0" cy="101.4" r="2.1"/><circle cx="350.0" cy="101.4" r="2.1"/><circle cx="339.5" cy="104.0" r="2.1"/><circle cx="342.5" cy="104.0" r="2.1"/><circle cx="345.5" cy="104.0" r="2.1"/><circle cx="348.5" cy="104.0" r="2.1"/><circle cx="338.0" cy="106.6" r="2.1"/><circle cx="341.0" cy="106.6" r="2.1"/><circle cx="344.0" cy="106.6" r="2.1"/><circle cx="347.0" cy="106.6" r="2.1"/><circle cx="350.0" cy="106.6" r="2.1"/><circle cx="353.0" cy="106.6" r="2.1"/><circle cx="339.5" cy="109.2" r="2.1"/><circle cx="342.5" cy="109.2" r="2.1"/><circle cx="345.5" cy="109.2" r="2.1"/><circle cx="348.5" cy="109.2" r="2.1"/><circle cx="351.5" cy="109.2" r="2.1"/><circle cx="354.5" cy="109.2" r="2.1"/><circle cx="357.5" cy="109.2" r="2.1"/><circle cx="360.5" cy="109.2" r="2.1"/><circle cx="363.5" cy="109.2" r="2.1"/><circle cx="366.5" cy="109.2" r="2.1"/><circle cx="338.0" cy="111.8" r="2.1"/><circle cx="341.0" cy="111.8" r="2.1"/><circle cx="344.0" cy="111.8" r="2.1"/><circle cx="347.0" cy="111.8" r="2.1"/><circle cx="350.0" cy="111.8" r="2.1"/><circle cx="353.0" cy="111.8" r="2.1"/><circle cx="356.0" cy="111.8" r="2.1"/><circle cx="359.0" cy="111.8" r="2.1"/><circle cx="362.0" cy="111.8" r="2.1"/><circle cx="365.0" cy="111.8" r="2.1"/><circle cx="368.0" cy="111.8" r="2.1"/><circle cx="371.0" cy="111.8" r="2.1"/><circle cx="336.5" cy="114.4" r="2.1"/><circle cx="339.5" cy="114.4" r="2.1"/><circle cx="342.5" cy="114.4" r="2.1"/><circle cx="345.5" cy="114.4" r="2.1"/><circle cx="348.5" cy="114.4" r="2.1"/><circle cx="351.5" cy="114.4" r="2.1"/><circle cx="354.5" cy="114.4" r="2.1"/><circle cx="357.5" cy="114.4" r="2.1"/><circle cx="360.5" cy="114.4" r="2.1"/><circle cx="363.5" cy="114.4" r="2.1"/><circle cx="366.5" cy="114.4" r="2.1"/><circle cx="369.5" cy="114.4" r="2.1"/><circle cx="341.0" cy="117.0" r="2.1"/><circle cx="344.0" cy="117.0" r="2.1"/><circle cx="347.0" cy="117.0" r="2.1"/><circle cx="350.0" cy="117.0" r="2.1"/><circle cx="353.0" cy="117.0" r="2.1"/><circle cx="356.0" cy="117.0" r="2.1"/><circle cx="359.0" cy="117.0" r="2.1"/><circle cx="362.0" cy="117.0" r="2.1"/><circle cx="365.0" cy="117.0" r="2.1"/><circle cx="368.0" cy="117.0" r="2.1"/><circle cx="371.0" cy="117.0" r="2.1"/><circle cx="331.5" cy="169.6" r="2.1"/><circle cx="334.5" cy="169.6" r="2.1"/><circle cx="337.5" cy="169.6" r="2.1"/><circle cx="330.0" cy="172.2" r="2.1"/><circle cx="333.0" cy="172.2" r="2.1"/><circle cx="336.0" cy="172.2" r="2.1"/><circle cx="331.5" cy="174.8" r="2.1"/><circle cx="334.5" cy="174.8" r="2.1"/><circle cx="337.5" cy="174.8" r="2.1"/><circle cx="330.0" cy="177.4" r="2.1"/><circle cx="333.0" cy="177.4" r="2.1"/><circle cx="336.0" cy="177.4" r="2.1"/><circle cx="339.0" cy="177.4" r="2.1"/><circle cx="328.5" cy="180.0" r="2.1"/><circle cx="331.5" cy="180.0" r="2.1"/><circle cx="334.5" cy="180.0" r="2.1"/><circle cx="337.5" cy="180.0" r="2.1"/><circle cx="327.0" cy="182.6" r="2.1"/><circle cx="330.0" cy="182.6" r="2.1"/><circle cx="333.0" cy="182.6" r="2.1"/><circle cx="336.0" cy="182.6" r="2.1"/><circle cx="339.0" cy="182.6" r="2.1"/><circle cx="325.5" cy="185.2" r="2.1"/><circle cx="328.5" cy="185.2" r="2.1"/><circle cx="331.5" cy="185.2" r="2.1"/><circle cx="334.5" cy="185.2" r="2.1"/><circle cx="337.5" cy="185.2" r="2.1"/><circle cx="324.0" cy="187.8" r="2.1"/><circle cx="327.0" cy="187.8" r="2.1"/><circle cx="330.0" cy="187.8" r="2.1"/><circle cx="333.0" cy="187.8" r="2.1"/><circle cx="336.0" cy="187.8" r="2.1"/><circle cx="339.0" cy="187.8" r="2.1"/><circle cx="322.5" cy="190.4" r="2.1"/><circle cx="325.5" cy="190.4" r="2.1"/><circle cx="328.5" cy="190.4" r="2.1"/><circle cx="331.5" cy="190.4" r="2.1"/><circle cx="334.5" cy="190.4" r="2.1"/><circle cx="337.5" cy="190.4" r="2.1"/><circle cx="321.0" cy="193.0" r="2.1"/><circle cx="324.0" cy="193.0" r="2.1"/><circle cx="327.0" cy="193.0" r="2.1"/><circle cx="330.0" cy="193.0" r="2.1"/><circle cx="333.0" cy="193.0" r="2.1"/><circle cx="336.0" cy="193.0" r="2.1"/><circle cx="319.5" cy="195.6" r="2.1"/><circle cx="322.5" cy="195.6" r="2.1"/><circle cx="325.5" cy="195.6" r="2.1"/><circle cx="328.5" cy="195.6" r="2.1"/><circle cx="331.5" cy="195.6" r="2.1"/><circle cx="334.5" cy="195.6" r="2.1"/><circle cx="315.0" cy="198.2" r="2.1"/><circle cx="318.0" cy="198.2" r="2.1"/><circle cx="321.0" cy="198.2" r="2.1"/><circle cx="324.0" cy="198.2" r="2.1"/><circle cx="327.0" cy="198.2" r="2.1"/><circle cx="330.0" cy="198.2" r="2.1"/><circle cx="310.5" cy="200.8" r="2.1"/><circle cx="313.5" cy="200.8" r="2.1"/><circle cx="316.5" cy="200.8" r="2.1"/><circle cx="319.5" cy="200.8" r="2.1"/><circle cx="322.5" cy="200.8" r="2.1"/><circle cx="325.5" cy="200.8" r="2.1"/><circle cx="312.0" cy="203.4" r="2.1"/><circle cx="315.0" cy="203.4" r="2.1"/><circle cx="318.0" cy="203.4" r="2.1"/><circle cx="321.0" cy="203.4" r="2.1"/><circle cx="313.5" cy="206.0" r="2.1"/><circle cx="316.5" cy="206.0" r="2.1"/><circle cx="319.5" cy="206.0" r="2.1"/><circle cx="389.5" cy="167.6" r="2.1"/><circle cx="392.5" cy="167.6" r="2.1"/><circle cx="395.5" cy="167.6" r="2.1"/><circle cx="398.5" cy="167.6" r="2.1"/><circle cx="388.0" cy="170.2" r="2.1"/><circle cx="391.0" cy="170.2" r="2.1"/><circle cx="394.0" cy="170.2" r="2.1"/><circle cx="397.0" cy="170.2" r="2.1"/><circle cx="400.0" cy="170.2" r="2.1"/><circle cx="403.0" cy="170.2" r="2.1"/><circle cx="386.5" cy="172.8" r="2.1"/><circle cx="389.5" cy="172.8" r="2.1"/><circle cx="392.5" cy="172.8" r="2.1"/><circle cx="395.5" cy="172.8" r="2.1"/><circle cx="398.5" cy="172.8" r="2.1"/><circle cx="401.5" cy="172.8" r="2.1"/><circle cx="404.5" cy="172.8" r="2.1"/><circle cx="407.5" cy="172.8" r="2.1"/><circle cx="385.0" cy="175.4" r="2.1"/><circle cx="388.0" cy="175.4" r="2.1"/><circle cx="391.0" cy="175.4" r="2.1"/><circle cx="394.0" cy="175.4" r="2.1"/><circle cx="397.0" cy="175.4" r="2.1"/><circle cx="400.0" cy="175.4" r="2.1"/><circle cx="403.0" cy="175.4" r="2.1"/><circle cx="406.0" cy="175.4" r="2.1"/><circle cx="409.0" cy="175.4" r="2.1"/><circle cx="383.5" cy="178.0" r="2.1"/><circle cx="386.5" cy="178.0" r="2.1"/><circle cx="389.5" cy="178.0" r="2.1"/><circle cx="392.5" cy="178.0" r="2.1"/><circle cx="395.5" cy="178.0" r="2.1"/><circle cx="398.5" cy="178.0" r="2.1"/><circle cx="401.5" cy="178.0" r="2.1"/><circle cx="404.5" cy="178.0" r="2.1"/><circle cx="407.5" cy="178.0" r="2.1"/><circle cx="410.5" cy="178.0" r="2.1"/><circle cx="382.0" cy="180.6" r="2.1"/><circle cx="385.0" cy="180.6" r="2.1"/><circle cx="388.0" cy="180.6" r="2.1"/><circle cx="391.0" cy="180.6" r="2.1"/><circle cx="394.0" cy="180.6" r="2.1"/><circle cx="397.0" cy="180.6" r="2.1"/><circle cx="400.0" cy="180.6" r="2.1"/><circle cx="403.0" cy="180.6" r="2.1"/><circle cx="406.0" cy="180.6" r="2.1"/><circle cx="409.0" cy="180.6" r="2.1"/><circle cx="383.5" cy="183.2" r="2.1"/><circle cx="386.5" cy="183.2" r="2.1"/><circle cx="389.5" cy="183.2" r="2.1"/><circle cx="392.5" cy="183.2" r="2.1"/><circle cx="395.5" cy="183.2" r="2.1"/><circle cx="398.5" cy="183.2" r="2.1"/><circle cx="401.5" cy="183.2" r="2.1"/><circle cx="382.0" cy="185.8" r="2.1"/><circle cx="385.0" cy="185.8" r="2.1"/><circle cx="388.0" cy="185.8" r="2.1"/><circle cx="391.0" cy="185.8" r="2.1"/><circle cx="394.0" cy="185.8" r="2.1"/><circle cx="397.0" cy="185.8" r="2.1"/><circle cx="383.5" cy="188.4" r="2.1"/><circle cx="386.5" cy="188.4" r="2.1"/><circle cx="389.5" cy="188.4" r="2.1"/><circle cx="392.5" cy="188.4" r="2.1"/><circle cx="395.5" cy="188.4" r="2.1"/><circle cx="385.0" cy="191.0" r="2.1"/><circle cx="388.0" cy="191.0" r="2.1"/><circle cx="391.0" cy="191.0" r="2.1"/><circle cx="394.0" cy="191.0" r="2.1"/><circle cx="389.5" cy="193.6" r="2.1"/><circle cx="182.5" cy="200.6" r="2.1"/><circle cx="185.5" cy="200.6" r="2.1"/><circle cx="188.5" cy="200.6" r="2.1"/><circle cx="191.5" cy="200.6" r="2.1"/><circle cx="178.0" cy="203.2" r="2.1"/><circle cx="181.0" cy="203.2" r="2.1"/><circle cx="184.0" cy="203.2" r="2.1"/><circle cx="187.0" cy="203.2" r="2.1"/><circle cx="190.0" cy="203.2" r="2.1"/><circle cx="193.0" cy="203.2" r="2.1"/><circle cx="173.5" cy="205.8" r="2.1"/><circle cx="176.5" cy="205.8" r="2.1"/><circle cx="179.5" cy="205.8" r="2.1"/><circle cx="182.5" cy="205.8" r="2.1"/><circle cx="185.5" cy="205.8" r="2.1"/><circle cx="188.5" cy="205.8" r="2.1"/><circle cx="191.5" cy="205.8" r="2.1"/><circle cx="169.0" cy="208.4" r="2.1"/><circle cx="172.0" cy="208.4" r="2.1"/><circle cx="175.0" cy="208.4" r="2.1"/><circle cx="178.0" cy="208.4" r="2.1"/><circle cx="161.5" cy="211.0" r="2.1"/><circle cx="164.5" cy="211.0" r="2.1"/><circle cx="167.5" cy="211.0" r="2.1"/><circle cx="170.5" cy="211.0" r="2.1"/><circle cx="173.5" cy="211.0" r="2.1"/><circle cx="157.0" cy="213.6" r="2.1"/><circle cx="160.0" cy="213.6" r="2.1"/><circle cx="163.0" cy="213.6" r="2.1"/><circle cx="152.5" cy="216.2" r="2.1"/><circle cx="155.5" cy="216.2" r="2.1"/><circle cx="158.5" cy="216.2" r="2.1"/><circle cx="148.0" cy="218.8" r="2.1"/><circle cx="151.0" cy="218.8" r="2.1"/><circle cx="154.0" cy="218.8" r="2.1"/><circle cx="157.0" cy="218.8" r="2.1"/><circle cx="146.5" cy="221.4" r="2.1"/><circle cx="149.5" cy="221.4" r="2.1"/><circle cx="152.5" cy="221.4" r="2.1"/><circle cx="151.0" cy="224.0" r="2.1"/><circle cx="242.5" cy="200.6" r="2.1"/><circle cx="245.5" cy="200.6" r="2.1"/><circle cx="248.5" cy="200.6" r="2.1"/><circle cx="235.0" cy="203.2" r="2.1"/><circle cx="238.0" cy="203.2" r="2.1"/><circle cx="241.0" cy="203.2" r="2.1"/><circle cx="244.0" cy="203.2" r="2.1"/><circle cx="247.0" cy="203.2" r="2.1"/><circle cx="230.5" cy="205.8" r="2.1"/><circle cx="233.5" cy="205.8" r="2.1"/><circle cx="236.5" cy="205.8" r="2.1"/><circle cx="239.5" cy="205.8" r="2.1"/><circle cx="242.5" cy="205.8" r="2.1"/><circle cx="229.0" cy="208.4" r="2.1"/><circle cx="232.0" cy="208.4" r="2.1"/><circle cx="235.0" cy="208.4" r="2.1"/><circle cx="227.5" cy="211.0" r="2.1"/><circle cx="230.5" cy="211.0" r="2.1"/><circle cx="233.5" cy="211.0" r="2.1"/><circle cx="226.0" cy="213.6" r="2.1"/><circle cx="229.0" cy="213.6" r="2.1"/><circle cx="224.5" cy="216.2" r="2.1"/><circle cx="227.5" cy="216.2" r="2.1"/><circle cx="220.0" cy="218.8" r="2.1"/><circle cx="223.0" cy="218.8" r="2.1"/><circle cx="226.0" cy="218.8" r="2.1"/><circle cx="229.0" cy="218.8" r="2.1"/><circle cx="218.5" cy="221.4" r="2.1"/><circle cx="221.5" cy="221.4" r="2.1"/><circle cx="224.5" cy="221.4" r="2.1"/><circle cx="214.0" cy="224.0" r="2.1"/><circle cx="217.0" cy="224.0" r="2.1"/><circle cx="220.0" cy="224.0" r="2.1"/><circle cx="223.0" cy="224.0" r="2.1"/><circle cx="212.5" cy="226.6" r="2.1"/><circle cx="215.5" cy="226.6" r="2.1"/><circle cx="218.5" cy="226.6" r="2.1"/><circle cx="208.0" cy="229.2" r="2.1"/><circle cx="211.0" cy="229.2" r="2.1"/><circle cx="214.0" cy="229.2" r="2.1"/><circle cx="209.5" cy="231.8" r="2.1"/><circle cx="266.5" cy="200.6" r="2.1"/><circle cx="269.5" cy="200.6" r="2.1"/><circle cx="272.5" cy="200.6" r="2.1"/><circle cx="268.0" cy="203.2" r="2.1"/><circle cx="271.0" cy="203.2" r="2.1"/><circle cx="274.0" cy="203.2" r="2.1"/><circle cx="272.5" cy="205.8" r="2.1"/><circle cx="275.5" cy="205.8" r="2.1"/><circle cx="278.5" cy="205.8" r="2.1"/><circle cx="281.5" cy="205.8" r="2.1"/><circle cx="277.0" cy="208.4" r="2.1"/><circle cx="280.0" cy="208.4" r="2.1"/><circle cx="283.0" cy="208.4" r="2.1"/><circle cx="286.0" cy="208.4" r="2.1"/><circle cx="281.5" cy="211.0" r="2.1"/><circle cx="284.5" cy="211.0" r="2.1"/><circle cx="287.5" cy="211.0" r="2.1"/><circle cx="277.0" cy="213.6" r="2.1"/><circle cx="280.0" cy="213.6" r="2.1"/><circle cx="283.0" cy="213.6" r="2.1"/><circle cx="286.0" cy="213.6" r="2.1"/><circle cx="289.0" cy="213.6" r="2.1"/><circle cx="292.0" cy="213.6" r="2.1"/><circle cx="269.5" cy="216.2" r="2.1"/><circle cx="272.5" cy="216.2" r="2.1"/><circle cx="275.5" cy="216.2" r="2.1"/><circle cx="278.5" cy="216.2" r="2.1"/><circle cx="281.5" cy="216.2" r="2.1"/><circle cx="284.5" cy="216.2" r="2.1"/><circle cx="287.5" cy="216.2" r="2.1"/><circle cx="290.5" cy="216.2" r="2.1"/><circle cx="293.5" cy="216.2" r="2.1"/><circle cx="268.0" cy="218.8" r="2.1"/><circle cx="271.0" cy="218.8" r="2.1"/><circle cx="274.0" cy="218.8" r="2.1"/><circle cx="277.0" cy="218.8" r="2.1"/><circle cx="280.0" cy="218.8" r="2.1"/><circle cx="283.0" cy="218.8" r="2.1"/><circle cx="286.0" cy="218.8" r="2.1"/><circle cx="289.0" cy="218.8" r="2.1"/><circle cx="292.0" cy="218.8" r="2.1"/><circle cx="295.0" cy="218.8" r="2.1"/><circle cx="275.5" cy="221.4" r="2.1"/><circle cx="278.5" cy="221.4" r="2.1"/><circle cx="281.5" cy="221.4" r="2.1"/><circle cx="284.5" cy="221.4" r="2.1"/><circle cx="287.5" cy="221.4" r="2.1"/><circle cx="280.0" cy="224.0" r="2.1"/><circle cx="283.0" cy="224.0" r="2.1"/><circle cx="286.0" cy="224.0" r="2.1"/><circle cx="281.5" cy="226.6" r="2.1"/><circle cx="284.5" cy="226.6" r="2.1"/><circle cx="280.0" cy="229.2" r="2.1"/><circle cx="283.0" cy="229.2" r="2.1"/><circle cx="281.5" cy="231.8" r="2.1"/><circle cx="280.0" cy="234.4" r="2.1"/><circle cx="283.0" cy="234.4" r="2.1"/><circle cx="278.5" cy="237.0" r="2.1"/><circle cx="281.5" cy="237.0" r="2.1"/><circle cx="280.0" cy="239.6" r="2.1"/><circle cx="283.0" cy="239.6" r="2.1"/><circle cx="281.5" cy="242.2" r="2.1"/><circle cx="345.5" cy="219.6" r="2.1"/><circle cx="348.5" cy="219.6" r="2.1"/><circle cx="351.5" cy="219.6" r="2.1"/><circle cx="354.5" cy="219.6" r="2.1"/><circle cx="332.0" cy="222.2" r="2.1"/><circle cx="341.0" cy="222.2" r="2.1"/><circle cx="344.0" cy="222.2" r="2.1"/><circle cx="347.0" cy="222.2" r="2.1"/><circle cx="350.0" cy="222.2" r="2.1"/><circle cx="353.0" cy="222.2" r="2.1"/><circle cx="356.0" cy="222.2" r="2.1"/><circle cx="324.5" cy="224.8" r="2.1"/><circle cx="327.5" cy="224.8" r="2.1"/><circle cx="330.5" cy="224.8" r="2.1"/><circle cx="333.5" cy="224.8" r="2.1"/><circle cx="336.5" cy="224.8" r="2.1"/><circle cx="339.5" cy="224.8" r="2.1"/><circle cx="342.5" cy="224.8" r="2.1"/><circle cx="345.5" cy="224.8" r="2.1"/><circle cx="348.5" cy="224.8" r="2.1"/><circle cx="351.5" cy="224.8" r="2.1"/><circle cx="354.5" cy="224.8" r="2.1"/><circle cx="357.5" cy="224.8" r="2.1"/><circle cx="323.0" cy="227.4" r="2.1"/><circle cx="326.0" cy="227.4" r="2.1"/><circle cx="329.0" cy="227.4" r="2.1"/><circle cx="332.0" cy="227.4" r="2.1"/><circle cx="335.0" cy="227.4" r="2.1"/><circle cx="338.0" cy="227.4" r="2.1"/><circle cx="341.0" cy="227.4" r="2.1"/><circle cx="344.0" cy="227.4" r="2.1"/><circle cx="347.0" cy="227.4" r="2.1"/><circle cx="350.0" cy="227.4" r="2.1"/><circle cx="353.0" cy="227.4" r="2.1"/><circle cx="356.0" cy="227.4" r="2.1"/><circle cx="321.5" cy="230.0" r="2.1"/><circle cx="324.5" cy="230.0" r="2.1"/><circle cx="327.5" cy="230.0" r="2.1"/><circle cx="330.5" cy="230.0" r="2.1"/><circle cx="333.5" cy="230.0" r="2.1"/><circle cx="336.5" cy="230.0" r="2.1"/><circle cx="339.5" cy="230.0" r="2.1"/><circle cx="342.5" cy="230.0" r="2.1"/><circle cx="345.5" cy="230.0" r="2.1"/><circle cx="348.5" cy="230.0" r="2.1"/><circle cx="351.5" cy="230.0" r="2.1"/><circle cx="354.5" cy="230.0" r="2.1"/><circle cx="323.0" cy="232.6" r="2.1"/><circle cx="326.0" cy="232.6" r="2.1"/><circle cx="329.0" cy="232.6" r="2.1"/><circle cx="332.0" cy="232.6" r="2.1"/><circle cx="335.0" cy="232.6" r="2.1"/><circle cx="338.0" cy="232.6" r="2.1"/><circle cx="341.0" cy="232.6" r="2.1"/><circle cx="344.0" cy="232.6" r="2.1"/><circle cx="347.0" cy="232.6" r="2.1"/><circle cx="350.0" cy="232.6" r="2.1"/><circle cx="324.5" cy="235.2" r="2.1"/><circle cx="327.5" cy="235.2" r="2.1"/><circle cx="330.5" cy="235.2" r="2.1"/><circle cx="333.5" cy="235.2" r="2.1"/><circle cx="336.5" cy="235.2" r="2.1"/><circle cx="339.5" cy="235.2" r="2.1"/><circle cx="342.5" cy="235.2" r="2.1"/><circle cx="345.5" cy="235.2" r="2.1"/><circle cx="326.0" cy="237.8" r="2.1"/><circle cx="329.0" cy="237.8" r="2.1"/><circle cx="332.0" cy="237.8" r="2.1"/><circle cx="335.0" cy="237.8" r="2.1"/><circle cx="338.0" cy="237.8" r="2.1"/><circle cx="341.0" cy="237.8" r="2.1"/><circle cx="344.0" cy="237.8" r="2.1"/><circle cx="330.5" cy="240.4" r="2.1"/><circle cx="333.5" cy="240.4" r="2.1"/><circle cx="336.5" cy="240.4" r="2.1"/><circle cx="339.5" cy="240.4" r="2.1"/><circle cx="342.5" cy="240.4" r="2.1"/><circle cx="247.5" cy="239.6" r="2.1"/><circle cx="250.5" cy="239.6" r="2.1"/><circle cx="246.0" cy="242.2" r="2.1"/><circle cx="249.0" cy="242.2" r="2.1"/><circle cx="252.0" cy="242.2" r="2.1"/><circle cx="244.5" cy="244.8" r="2.1"/><circle cx="247.5" cy="244.8" r="2.1"/><circle cx="250.5" cy="244.8" r="2.1"/><circle cx="243.0" cy="247.4" r="2.1"/><circle cx="246.0" cy="247.4" r="2.1"/><circle cx="249.0" cy="247.4" r="2.1"/><circle cx="241.5" cy="250.0" r="2.1"/><circle cx="244.5" cy="250.0" r="2.1"/><circle cx="247.5" cy="250.0" r="2.1"/><circle cx="250.5" cy="250.0" r="2.1"/><circle cx="240.0" cy="252.6" r="2.1"/><circle cx="243.0" cy="252.6" r="2.1"/><circle cx="246.0" cy="252.6" r="2.1"/><circle cx="249.0" cy="252.6" r="2.1"/><circle cx="238.5" cy="255.2" r="2.1"/><circle cx="241.5" cy="255.2" r="2.1"/><circle cx="244.5" cy="255.2" r="2.1"/><circle cx="247.5" cy="255.2" r="2.1"/><circle cx="250.5" cy="255.2" r="2.1"/><circle cx="240.0" cy="257.8" r="2.1"/><circle cx="243.0" cy="257.8" r="2.1"/><circle cx="246.0" cy="257.8" r="2.1"/><circle cx="249.0" cy="257.8" r="2.1"/><circle cx="252.0" cy="257.8" r="2.1"/><circle cx="241.5" cy="260.4" r="2.1"/><circle cx="244.5" cy="260.4" r="2.1"/><circle cx="247.5" cy="260.4" r="2.1"/><circle cx="250.5" cy="260.4" r="2.1"/><circle cx="253.5" cy="260.4" r="2.1"/><circle cx="243.0" cy="263.0" r="2.1"/><circle cx="246.0" cy="263.0" r="2.1"/><circle cx="249.0" cy="263.0" r="2.1"/><circle cx="252.0" cy="263.0" r="2.1"/><circle cx="255.0" cy="263.0" r="2.1"/><circle cx="241.5" cy="265.6" r="2.1"/><circle cx="244.5" cy="265.6" r="2.1"/><circle cx="247.5" cy="265.6" r="2.1"/><circle cx="250.5" cy="265.6" r="2.1"/><circle cx="253.5" cy="265.6" r="2.1"/><circle cx="256.5" cy="265.6" r="2.1"/><circle cx="243.0" cy="268.2" r="2.1"/><circle cx="246.0" cy="268.2" r="2.1"/><circle cx="249.0" cy="268.2" r="2.1"/><circle cx="252.0" cy="268.2" r="2.1"/><circle cx="255.0" cy="268.2" r="2.1"/><circle cx="258.0" cy="268.2" r="2.1"/><circle cx="244.5" cy="270.8" r="2.1"/><circle cx="247.5" cy="270.8" r="2.1"/><circle cx="250.5" cy="270.8" r="2.1"/><circle cx="253.5" cy="270.8" r="2.1"/><circle cx="256.5" cy="270.8" r="2.1"/><circle cx="259.5" cy="270.8" r="2.1"/><circle cx="249.0" cy="273.4" r="2.1"/><circle cx="252.0" cy="273.4" r="2.1"/><circle cx="255.0" cy="273.4" r="2.1"/><circle cx="258.0" cy="273.4" r="2.1"/><circle cx="250.5" cy="276.0" r="2.1"/><circle cx="253.5" cy="276.0" r="2.1"/><circle cx="256.5" cy="276.0" r="2.1"/></g><circle cx="162.7" cy="45.3" r="2.05" fill="#cc2390"/><circle cx="52.9" cy="116.7" r="2.05" fill="#6f23a2"/><circle cx="276.7" cy="55.4" r="2.05" fill="#2b2a8e"/><circle cx="280" cy="55.4" r="2.05" fill="#2b2a8e"/><circle cx="282.6" cy="57.4" r="2.05" fill="#ee5c62"/><circle cx="248" cy="85.1" r="2.05" fill="#2b2a8e"/><circle cx="250.2" cy="87.3" r="2.05" fill="#2b2a8e"/><circle cx="245.5" cy="93.8" r="2.05" fill="#2b2a8e"/><circle cx="241.7" cy="98.9" r="2.05" fill="#cc2390"/><circle cx="310.5" cy="103.3" r="2.05" fill="#2b2a8e"/><circle cx="311.3" cy="105" r="2.05" fill="#2b2a8e"/><circle cx="298.9" cy="109.1" r="2.05" fill="#2b2a8e"/><circle cx="302.8" cy="109.1" r="2.05" fill="#2b2a8e"/><circle cx="194.5" cy="85" r="2.05" fill="#cc2390"/><circle cx="169.5" cy="100" r="2.05" fill="#cc2390"/><circle cx="187.5" cy="99.5" r="2.05" fill="#cc2390"/><circle cx="157.5" cy="109.5" r="2.05" fill="#cc2390"/><circle cx="158.3" cy="110.6" r="2.05" fill="#cc2390"/><circle cx="165.5" cy="108" r="2.05" fill="#cc2390"/><circle cx="168" cy="109" r="2.05" fill="#cc2390"/><circle cx="217" cy="109.5" r="2.05" fill="#f6843f"/><circle cx="217.5" cy="125.5" r="2.05" fill="#f6843f"/><circle cx="228.5" cy="129" r="2.05" fill="#f6843f"/><circle cx="214" cy="126.5" r="2.05" fill="#6f23a2"/><circle cx="208.5" cy="130.5" r="2.05" fill="#6f23a2"/><circle cx="228" cy="137.8" r="2.05" fill="#f6843f"/><circle cx="244.7" cy="145.4" r="2.05" fill="#f6843f"/><circle cx="114.6" cy="150.9" r="2.05" fill="#fbd018"/><circle cx="119" cy="148.4" r="2.05" fill="#fbd018"/><circle cx="122.3" cy="146.5" r="2.05" fill="#fbd018"/><circle cx="118.5" cy="156" r="2.05" fill="#fba924"/><circle cx="149" cy="153.5" r="2.05" fill="#cc2390"/><circle cx="161.5" cy="152.2" r="2.05" fill="#fba924"/><circle cx="175.1" cy="144.5" r="2.05" fill="#cc2390"/><circle cx="176" cy="147.3" r="2.05" fill="#cc2390"/><circle cx="177.6" cy="146.5" r="2.05" fill="#fba924"/><circle cx="180.7" cy="147.8" r="2.05" fill="#f6843f"/><circle cx="184.5" cy="148.9" r="2.05" fill="#fbd018"/><circle cx="146" cy="171.8" r="2.05" fill="#fbd018"/><circle cx="171.4" cy="166.9" r="2.05" fill="#fbd018"/><circle cx="174.3" cy="169.4" r="2.05" fill="#fbd018"/><circle cx="173" cy="171" r="2.05" fill="#fbd018"/><circle cx="178.7" cy="172.6" r="2.05" fill="#fbd018"/><circle cx="268.2" cy="124.3" r="2.05" fill="#2b2a8e"/><circle cx="270.7" cy="121.9" r="2.05" fill="#f6843f"/><circle cx="273.3" cy="121.4" r="2.05" fill="#cc2390"/><circle cx="275.6" cy="121.4" r="2.05" fill="#cc2390"/><circle cx="294.4" cy="126.1" r="2.05" fill="#cc2390"/><circle cx="271.3" cy="147.2" r="2.05" fill="#cc2390"/><circle cx="271.5" cy="153.4" r="2.05" fill="#6f23a2"/><circle cx="285.7" cy="154.4" r="2.05" fill="#cc2390"/><circle cx="285.4" cy="159.3" r="2.05" fill="#2b2a8e"/><circle cx="291.8" cy="157.2" r="2.05" fill="#6f23a2"/><circle cx="290.5" cy="161.9" r="2.05" fill="#6f23a2"/><circle cx="291.6" cy="163.4" r="2.05" fill="#6f23a2"/><circle cx="277.1" cy="165.3" r="2.05" fill="#f6843f"/><circle cx="308.2" cy="167.2" r="2.05" fill="#2b2a8e"/><circle cx="312" cy="166" r="2.05" fill="#2b2a8e"/><circle cx="313.5" cy="171.5" r="2.05" fill="#f6843f"/><circle cx="258.6" cy="168.4" r="2.05" fill="#f6843f"/><circle cx="248.4" cy="165.6" r="2.05" fill="#2b2a8e"/><circle cx="210.4" cy="163.9" r="2.05" fill="#2b2a8e"/><circle cx="215.7" cy="165.6" r="2.05" fill="#2b2a8e"/><circle cx="210.1" cy="172.1" r="2.05" fill="#cc2390"/><circle cx="209.2" cy="177.7" r="2.05" fill="#2b2a8e"/><circle cx="273.5" cy="187" r="2.05" fill="#cc2390"/><circle cx="276.5" cy="187" r="2.05" fill="#cc2390"/><circle cx="280" cy="189" r="2.05" fill="#f6843f"/><circle cx="283.5" cy="188" r="2.05" fill="#cc2390"/><circle cx="313.5" cy="183.5" r="2.05" fill="#6f23a2"/><circle cx="328.4" cy="139" r="2.05" fill="#2b2a8e"/><circle cx="321.1" cy="150.7" r="2.05" fill="#fbd018"/><circle cx="336.4" cy="151.8" r="2.05" fill="#fbd018"/><circle cx="358.2" cy="160.8" r="2.05" fill="#6f23a2"/><circle cx="367.6" cy="164.2" r="2.05" fill="#fbd018"/><circle cx="366.9" cy="165.6" r="2.05" fill="#fbd018"/><circle cx="366.2" cy="167.1" r="2.05" fill="#6f23a2"/><circle cx="331.5" cy="98.4" r="2.05" fill="#cc2390"/><circle cx="371" cy="114.7" r="2.05" fill="#6f23a2"/><circle cx="341" cy="172.9" r="2.05" fill="#6f23a2"/><circle cx="344.3" cy="173.9" r="2.05" fill="#6f23a2"/><circle cx="345.3" cy="175" r="2.05" fill="#6f23a2"/><circle cx="341.7" cy="181.4" r="2.05" fill="#6f23a2"/><circle cx="342.2" cy="187.8" r="2.05" fill="#6f23a2"/><circle cx="332.8" cy="196" r="2.05" fill="#6f23a2"/><circle cx="328.3" cy="196" r="2.05" fill="#6f23a2"/><circle cx="328.3" cy="198.6" r="2.05" fill="#6f23a2"/><circle cx="325.2" cy="201.2" r="2.05" fill="#6f23a2"/><circle cx="323.7" cy="203.8" r="2.05" fill="#6f23a2"/><circle cx="314.2" cy="198.1" r="2.05" fill="#6f23a2"/><circle cx="310.5" cy="205.8" r="2.05" fill="#6f23a2"/><circle cx="406.3" cy="170" r="2.05" fill="#6f23a2"/><circle cx="412" cy="173.7" r="2.05" fill="#cc2390"/><circle cx="191.3" cy="201.8" r="2.05" fill="#fba924"/><circle cx="195.1" cy="201.8" r="2.05" fill="#6f23a2"/><circle cx="249.6" cy="199.7" r="2.05" fill="#6f23a2"/><circle cx="252.4" cy="203.4" r="2.05" fill="#fbd018"/><circle cx="285.1" cy="232.9" r="2.05" fill="#2b2a8e"/><circle cx="284.7" cy="242.9" r="2.05" fill="#e8486e"/><circle cx="255.5" cy="245.5" r="2.05" fill="#fbd018"/><circle cx="258.1" cy="247.8" r="2.05" fill="#6f23a2"/><circle cx="235" cy="251" r="2.05" fill="#f6843f"/><circle cx="237" cy="248" r="2.05" fill="#6f23a2"/><circle cx="259" cy="268" r="2.05" fill="#6f23a2"/><circle cx="261.5" cy="270" r="2.05" fill="#6f23a2"/><circle cx="260.5" cy="272.5" r="2.05" fill="#6f23a2"/><circle cx="257" cy="275" r="2.05" fill="#4a1878"/><circle cx="265" cy="276" r="2.05" fill="#6f23a2"/><circle cx="259" cy="277" r="2.05" fill="#6f23a2"/><circle cx="254" cy="279" r="2.05" fill="#6f23a2"/><circle cx="260" cy="279.5" r="2.05" fill="#6f23a2"/><circle cx="318.7" cy="229.4" r="2.05" fill="#f6843f"/><text x="225.6" y="67.5" textLength="46.4" lengthAdjust="spacingAndGlyphs" font-family='"Liberation Sans", sans-serif' font-size="8.2" fill="#1c1c1c" stroke="#1c1c1c" stroke-width="0.2">CHOL in skin</text><text x="254.3" y="94.5" textLength="46.8" lengthAdjust="spacingAndGlyphs" font-family='"Liberation Sans", sans-serif' font-size="8.2" fill="#1c1c1c" stroke="#1c1c1c" stroke-width="0.2">CHOL in liver</text><text x="151.5" y="93.5" textLength="46" lengthAdjust="spacingAndGlyphs" font-family='"Liberation Sans", sans-serif' font-size="8.2" fill="#1c1c1c" stroke="#1c1c1c" stroke-width="0.2">PRAD in liver</text><text x="196" y="121" textLength="45.5" lengthAdjust="spacingAndGlyphs" font-family='"Liberation Sans", sans-serif' font-size="8.2" fill="#1c1c1c" stroke="#1c1c1c" stroke-width="0.2">BRCA in skin</text><text x="193.9" y="151.8" textLength="47" lengthAdjust="spacingAndGlyphs" font-family='"Liberation Sans", sans-serif' font-size="8.2" fill="#1c1c1c" stroke="#1c1c1c" stroke-width="0.2">BRCA in lung</text><text x="125.9" y="144.5" textLength="45" lengthAdjust="spacingAndGlyphs" font-family='"Liberation Sans", sans-serif' font-size="8.2" fill="#1c1c1c" stroke="#1c1c1c" stroke-width="0.2">SARC in skin</text><text x="125.9" y="182.5" textLength="46.6" lengthAdjust="spacingAndGlyphs" font-family='"Liberation Sans", sans-serif' font-size="8.2" fill="#1c1c1c" stroke="#1c1c1c" stroke-width="0.2">SARC in lung</text><text x="259.1" y="136.8" textLength="46.9" lengthAdjust="spacingAndGlyphs" font-family='"Liberation Sans", sans-serif' font-size="8.2" fill="#1c1c1c" stroke="#1c1c1c" stroke-width="0.2">HNSC in liver</text><text x="200.9" y="186.3" textLength="47.9" lengthAdjust="spacingAndGlyphs" font-family='"Liberation Sans", sans-serif' font-size="8.2" fill="#1c1c1c" stroke="#1c1c1c" stroke-width="0.2">HNSC in lung</text><text x="261" y="179" textLength="46" lengthAdjust="spacingAndGlyphs" font-family='"Liberation Sans", sans-serif' font-size="8.2" fill="#1c1c1c" stroke="#1c1c1c" stroke-width="0.2">LUNG in liver</text><text x="329.8" y="148.6" textLength="46.1" lengthAdjust="spacingAndGlyphs" font-family='"Liberation Sans", sans-serif' font-size="8.2" fill="#1c1c1c" stroke="#1c1c1c" stroke-width="0.2">SARC in liver</text><text x="324.6" y="109" textLength="47.5" lengthAdjust="spacingAndGlyphs" font-family='"Liberation Sans", sans-serif' font-size="8.2" fill="#1c1c1c" stroke="#1c1c1c" stroke-width="0.2">PRAD in lung</text><text x="301.2" y="194" textLength="46.2" lengthAdjust="spacingAndGlyphs" font-family='"Liberation Sans", sans-serif' font-size="8.2" fill="#1c1c1c" stroke="#1c1c1c" stroke-width="0.2">BRCA in liver</text><text x="365.8" y="184.5" textLength="59.2" lengthAdjust="spacingAndGlyphs" font-family='"Liberation Sans", sans-serif' font-size="8.2" fill="#1c1c1c" stroke="#1c1c1c" stroke-width="0.2">PRAD in bladder</text><text x="130.9" y="216" textLength="63.6" lengthAdjust="spacingAndGlyphs" font-family='"Liberation Sans", sans-serif' font-size="8.2" fill="#1c1c1c" stroke="#1c1c1c" stroke-width="0.2">BRCA in pancreas</text><text x="207.6" y="216.6" textLength="46.4" lengthAdjust="spacingAndGlyphs" font-family='"Liberation Sans", sans-serif' font-size="8.2" fill="#1c1c1c" stroke="#1c1c1c" stroke-width="0.2">SARC in lung</text><text x="254" y="225.9" textLength="46" lengthAdjust="spacingAndGlyphs" font-family='"Liberation Sans", sans-serif' font-size="8.2" fill="#1c1c1c" stroke="#1c1c1c" stroke-width="0.2">PRAD in skin</text><text x="313.8" y="238.9" textLength="47.5" lengthAdjust="spacingAndGlyphs" font-family='"Liberation Sans", sans-serif' font-size="8.2" fill="#1c1c1c" stroke="#1c1c1c" stroke-width="0.2">CHOL in lung</text><text x="214.5" y="262.5" textLength="59" lengthAdjust="spacingAndGlyphs" font-family='"Liberation Sans", sans-serif' font-size="8.2" fill="#1c1c1c" stroke="#1c1c1c" stroke-width="0.2">BRCA in bladder</text><rect x="27.5" y="30.5" width="507.0" height="271.0" fill="none" stroke="#585858" stroke-width="1.15"/><line x1="25.0" y1="33.7" x2="27.5" y2="33.7" stroke="#333" stroke-width="0.8"/><text x="24.7" y="35.6" text-anchor="end" font-family='"Liberation Sans", sans-serif' font-size="5.4" fill="#333">200</text><line x1="25.0" y1="66.2" x2="27.5" y2="66.2" stroke="#333" stroke-width="0.8"/><text x="24.7" y="68.10000000000001" text-anchor="end" font-family='"Liberation Sans", sans-serif' font-size="5.4" fill="#333">150</text><line x1="25.0" y1="98.7" x2="27.5" y2="98.7" stroke="#333" stroke-width="0.8"/><text x="24.7" y="100.60000000000001" text-anchor="end" font-family='"Liberation Sans", sans-serif' font-size="5.4" fill="#333">100</text><line x1="25.0" y1="131.2" x2="27.5" y2="131.2" stroke="#333" stroke-width="0.8"/><text x="24.7" y="133.1" text-anchor="end" font-family='"Liberation Sans", sans-serif' font-size="5.4" fill="#333">50</text><line x1="25.0" y1="163.7" x2="27.5" y2="163.7" stroke="#333" stroke-width="0.8"/><text x="24.7" y="165.6" text-anchor="end" font-family='"Liberation Sans", sans-serif' font-size="5.4" fill="#333">0</text><line x1="25.0" y1="196.2" x2="27.5" y2="196.2" stroke="#333" stroke-width="0.8"/><text x="24.7" y="198.1" text-anchor="end" font-family='"Liberation Sans", sans-serif' font-size="5.4" fill="#333">−50</text><line x1="25.0" y1="228.7" x2="27.5" y2="228.7" stroke="#333" stroke-width="0.8"/><text x="24.7" y="230.6" text-anchor="end" font-family='"Liberation Sans", sans-serif' font-size="5.4" fill="#333">−100</text><line x1="25.0" y1="261.2" x2="27.5" y2="261.2" stroke="#333" stroke-width="0.8"/><text x="24.7" y="263.09999999999997" text-anchor="end" font-family='"Liberation Sans", sans-serif' font-size="5.4" fill="#333">−150</text><line x1="25.0" y1="293.7" x2="27.5" y2="293.7" stroke="#333" stroke-width="0.8"/><text x="24.7" y="295.59999999999997" text-anchor="end" font-family='"Liberation Sans", sans-serif' font-size="5.4" fill="#333">−200</text><line x1="72.5" y1="301.5" x2="72.5" y2="304.0" stroke="#333" stroke-width="0.8"/><text x="72.5" y="310.1" text-anchor="middle" font-family='"Liberation Sans", sans-serif' font-size="5.4" fill="#333">−200</text><line x1="167.5" y1="301.5" x2="167.5" y2="304.0" stroke="#333" stroke-width="0.8"/><text x="167.5" y="310.1" text-anchor="middle" font-family='"Liberation Sans", sans-serif' font-size="5.4" fill="#333">−100</text><line x1="262.5" y1="301.5" x2="262.5" y2="304.0" stroke="#333" stroke-width="0.8"/><text x="262.5" y="310.1" text-anchor="middle" font-family='"Liberation Sans", sans-serif' font-size="5.4" fill="#333">0</text><line x1="357.5" y1="301.5" x2="357.5" y2="304.0" stroke="#333" stroke-width="0.8"/><text x="357.5" y="310.1" text-anchor="middle" font-family='"Liberation Sans", sans-serif' font-size="5.4" fill="#333">100</text><line x1="452.5" y1="301.5" x2="452.5" y2="304.0" stroke="#333" stroke-width="0.8"/><text x="452.5" y="310.1" text-anchor="middle" font-family='"Liberation Sans", sans-serif' font-size="5.4" fill="#333">200</text><circle cx="434.3" cy="41.10" r="3" fill="#2b2a8c"/><text x="450.2" y="44.30" font-family='"Liberation Sans", sans-serif' font-size="9.3" letter-spacing="0.2" fill="#1a1a1a" stroke="#1a1a1a" stroke-width="0.15">CHOL + liver</text><circle cx="434.3" cy="52.67" r="3" fill="#302690"/><text x="450.2" y="55.87" font-family='"Liberation Sans", sans-serif' font-size="9.3" letter-spacing="0.2" fill="#1a1a1a" stroke="#1a1a1a" stroke-width="0.15">HNSC + lung</text><circle cx="434.3" cy="64.24" r="3" fill="#4a2599"/><text x="450.2" y="67.44" font-family='"Liberation Sans", sans-serif' font-size="9.3" letter-spacing="0.2" fill="#1a1a1a" stroke="#1a1a1a" stroke-width="0.15">SARC + breast</text><circle cx="434.3" cy="75.81" r="3" fill="#6724a1"/><text x="450.2" y="79.01" font-family='"Liberation Sans", sans-serif' font-size="9.3" letter-spacing="0.2" fill="#1a1a1a" stroke="#1a1a1a" stroke-width="0.15">PRAD + bladder</text><circle cx="434.3" cy="87.38" r="3" fill="#7a22a2"/><text x="450.2" y="90.58" font-family='"Liberation Sans", sans-serif' font-size="9.3" letter-spacing="0.2" fill="#1a1a1a" stroke="#1a1a1a" stroke-width="0.15">BRCA + liver</text><circle cx="434.3" cy="98.95" r="3" fill="#9224a0"/><text x="450.2" y="102.15" font-family='"Liberation Sans", sans-serif' font-size="9.3" letter-spacing="0.2" fill="#1a1a1a" stroke="#1a1a1a" stroke-width="0.15">PRAD + lung</text><circle cx="434.3" cy="110.52" r="3" fill="#6a36aa"/><text x="450.2" y="113.72" font-family='"Liberation Sans", sans-serif' font-size="9.3" letter-spacing="0.2" fill="#1a1a1a" stroke="#1a1a1a" stroke-width="0.15">BRCA + bladder</text><circle cx="434.3" cy="122.09" r="3" fill="#c0209a"/><text x="450.2" y="125.29" font-family='"Liberation Sans", sans-serif' font-size="9.3" letter-spacing="0.2" fill="#1a1a1a" stroke="#1a1a1a" stroke-width="0.15">HNSC + liver</text><circle cx="434.3" cy="133.66" r="3" fill="#cc2690"/><text x="450.2" y="136.86" font-family='"Liberation Sans", sans-serif' font-size="9.3" letter-spacing="0.2" fill="#1a1a1a" stroke="#1a1a1a" stroke-width="0.15">PRAD + liver</text><circle cx="434.3" cy="145.23" r="3" fill="#da337e"/><text x="450.2" y="148.43" font-family='"Liberation Sans", sans-serif' font-size="9.3" letter-spacing="0.2" fill="#1a1a1a" stroke="#1a1a1a" stroke-width="0.15">SARC + skin</text><circle cx="434.3" cy="156.80" r="3" fill="#e6476e"/><text x="450.2" y="160.00" font-family='"Liberation Sans", sans-serif' font-size="9.3" letter-spacing="0.2" fill="#1a1a1a" stroke="#1a1a1a" stroke-width="0.15">PRAD + skin</text><circle cx="434.3" cy="168.37" r="3" fill="#ee5a62"/><text x="450.2" y="171.57" font-family='"Liberation Sans", sans-serif' font-size="9.3" letter-spacing="0.2" fill="#1a1a1a" stroke="#1a1a1a" stroke-width="0.15">CHOL + skin</text><circle cx="434.3" cy="179.94" r="3" fill="#f26a54"/><text x="450.2" y="183.14" font-family='"Liberation Sans", sans-serif' font-size="9.3" letter-spacing="0.2" fill="#1a1a1a" stroke="#1a1a1a" stroke-width="0.15">LUNG + liver</text><circle cx="434.3" cy="191.51" r="3" fill="#f47948"/><text x="450.2" y="194.71" font-family='"Liberation Sans", sans-serif' font-size="9.3" letter-spacing="0.2" fill="#1a1a1a" stroke="#1a1a1a" stroke-width="0.15">BRCA + skin</text><circle cx="434.3" cy="203.08" r="3" fill="#f7883e"/><text x="450.2" y="206.28" font-family='"Liberation Sans", sans-serif' font-size="9.3" letter-spacing="0.2" fill="#1a1a1a" stroke="#1a1a1a" stroke-width="0.15">BRCA + lung</text><circle cx="434.3" cy="214.65" r="3" fill="#f89a33"/><text x="450.2" y="217.85" font-family='"Liberation Sans", sans-serif' font-size="9.3" letter-spacing="0.2" fill="#1a1a1a" stroke="#1a1a1a" stroke-width="0.15">CHOL + lung</text><circle cx="434.3" cy="226.22" r="3" fill="#fbab22"/><text x="450.2" y="229.42" font-family='"Liberation Sans", sans-serif' font-size="9.3" letter-spacing="0.2" fill="#1a1a1a" stroke="#1a1a1a" stroke-width="0.15">BRCA + pancreas</text><circle cx="434.3" cy="237.79" r="3" fill="#fbc41a"/><text x="450.2" y="240.99" font-family='"Liberation Sans", sans-serif' font-size="9.3" letter-spacing="0.2" fill="#1a1a1a" stroke="#1a1a1a" stroke-width="0.15">SARC + liver</text><circle cx="434.3" cy="249.36" r="3" fill="#fadc14"/><text x="450.2" y="252.56" font-family='"Liberation Sans", sans-serif' font-size="9.3" letter-spacing="0.2" fill="#1a1a1a" stroke="#1a1a1a" stroke-width="0.15">SARC + lung</text><text x="254.6" y="341.9" textLength="28.4" lengthAdjust="spacingAndGlyphs" font-family='"Liberation Sans", sans-serif' font-size="11" fill="#1c1c1c" stroke="#1c1c1c" stroke-width="0.25">Genes</text><text transform="translate(23.8,419.4) rotate(-90)" text-anchor="middle" font-family='"Liberation Sans", sans-serif' font-size="12.2" textLength="49.8" lengthAdjust="spacingAndGlyphs" fill="#1c1c1c" stroke="#1c1c1c" stroke-width="0.3">Samples</text><g shape-rendering="crispEdges"><rect x="36.3" y="345" width="1.02" height="38.5" fill="#feeae3"/><rect x="37.3" y="345" width="1.02" height="38.5" fill="#feece5"/><rect x="38.3" y="345" width="1.02" height="38.5" fill="#fee8e0"/><rect x="39.3" y="345" width="0.72" height="38.5" fill="#feece5"/><rect x="40" y="345" width="1.02" height="38.5" fill="#fee6dd"/><rect x="41.0" y="345" width="1.02" height="38.5" fill="#fee7df"/><rect x="42.0" y="345" width="1.02" height="38.5" fill="#fee9e2"/><rect x="43.0" y="345" width="1.02" height="38.5" fill="#fee6dd"/><rect x="44.0" y="345" width="1.02" height="38.5" fill="#feeae2"/><rect x="45.0" y="345" width="1.02" height="38.5" fill="#fee7de"/><rect x="46.0" y="345" width="1.02" height="38.5" fill="#fee9e1"/><rect x="47" y="345" width="1.02" height="38.5" fill="#fff1eb"/><rect x="48.0" y="345" width="1.02" height="38.5" fill="#feefe8"/><rect x="49.0" y="345" width="1.02" height="38.5" fill="#feece5"/><rect x="50.0" y="345" width="1.02" height="38.5" fill="#fff1eb"/><rect x="51.0" y="345" width="1.02" height="38.5" fill="#fff0ea"/><rect x="52.0" y="345" width="1.02" height="38.5" fill="#feede6"/><rect x="53.0" y="345" width="1.02" height="38.5" fill="#feebe4"/><rect x="54.0" y="345" width="1.02" height="38.5" fill="#feede7"/><rect x="55.0" y="345" width="1.02" height="38.5" fill="#feefe9"/><rect x="56.0" y="345" width="1.02" height="38.5" fill="#feebe3"/><rect x="57.0" y="345" width="1.02" height="38.5" fill="#fff1ec"/><rect x="58.0" y="345" width="1.02" height="38.5" fill="#feece4"/><rect x="59.0" y="345" width="1.02" height="38.5" fill="#ffefe9"/><rect x="60.0" y="345" width="1.02" height="38.5" fill="#fff0eb"/><rect x="61.0" y="345" width="1.02" height="38.5" fill="#fff1eb"/><rect x="62.0" y="345" width="1.02" height="38.5" fill="#feefe9"/><rect x="63.0" y="345" width="1.02" height="38.5" fill="#feece5"/><rect x="64.0" y="345" width="1.02" height="38.5" fill="#fff0ea"/><rect x="65.0" y="345" width="1.02" height="38.5" fill="#feede7"/><rect x="66.0" y="345" width="1.02" height="38.5" fill="#feede6"/><rect x="67.0" y="345" width="1.02" height="38.5" fill="#feefe9"/><rect x="68.0" y="345" width="1.02" height="38.5" fill="#feeee7"/><rect x="69.0" y="345" width="1.02" height="38.5" fill="#fff1eb"/><rect x="70.0" y="345" width="1.02" height="38.5" fill="#fff1eb"/><rect x="71.0" y="345" width="1.02" height="38.5" fill="#fff0ea"/><rect x="72.0" y="345" width="1.02" height="38.5" fill="#feede6"/><rect x="73.0" y="345" width="1.02" height="38.5" fill="#feeee8"/><rect x="74.0" y="345" width="1.02" height="38.5" fill="#feefe9"/><rect x="75.0" y="345" width="1.02" height="38.5" fill="#feede7"/><rect x="76.0" y="345" width="1.02" height="38.5" fill="#feeee8"/><rect x="77.0" y="345" width="1.02" height="38.5" fill="#ffefe9"/><rect x="78.0" y="345" width="1.02" height="38.5" fill="#feece5"/><rect x="79.0" y="345" width="1.02" height="38.5" fill="#feede6"/><rect x="80.0" y="345" width="1.02" height="38.5" fill="#fff0ea"/><rect x="81.0" y="345" width="1.02" height="38.5" fill="#feede7"/><rect x="82.0" y="345" width="1.02" height="38.5" fill="#feeee7"/><rect x="83.0" y="345" width="1.02" height="38.5" fill="#feebe4"/><rect x="84.0" y="345" width="1.02" height="38.5" fill="#feece6"/><rect x="85.0" y="345" width="1.02" height="38.5" fill="#ffefe9"/><rect x="86.0" y="345" width="1.02" height="38.5" fill="#feebe3"/><rect x="87.0" y="345" width="1.02" height="38.5" fill="#fff1eb"/><rect x="88.0" y="345" width="1.02" height="38.5" fill="#feefe8"/><rect x="89.0" y="345" width="1.02" height="38.5" fill="#feece5"/><rect x="90.0" y="345" width="1.02" height="38.5" fill="#fff0eb"/><rect x="91.0" y="345" width="1.02" height="38.5" fill="#feeee8"/><rect x="92.0" y="345" width="1.02" height="38.5" fill="#fff1ec"/><rect x="93.0" y="345" width="1.02" height="38.5" fill="#feede6"/><rect x="94.0" y="345" width="1.02" height="38.5" fill="#feece5"/><rect x="95.0" y="345" width="1.02" height="38.5" fill="#feeee7"/><rect x="96.0" y="345" width="1.02" height="38.5" fill="#feebe4"/><rect x="97.0" y="345" width="1.02" height="38.5" fill="#feefe9"/><rect x="98.0" y="345" width="1.02" height="38.5" fill="#feede6"/><rect x="99.0" y="345" width="1.02" height="38.5" fill="#feede7"/><rect x="100.0" y="345" width="1.02" height="38.5" fill="#feede7"/><rect x="101.0" y="345" width="1.02" height="38.5" fill="#feeee8"/><rect x="102.0" y="345" width="1.02" height="38.5" fill="#feece5"/><rect x="103.0" y="345" width="1.02" height="38.5" fill="#feebe4"/><rect x="104.0" y="345" width="1.02" height="38.5" fill="#feeee8"/><rect x="105.0" y="345" width="1.02" height="38.5" fill="#feede6"/><rect x="106.0" y="345" width="1.02" height="38.5" fill="#fff1eb"/><rect x="107.0" y="345" width="1.02" height="38.5" fill="#feede6"/><rect x="108.0" y="345" width="1.02" height="38.5" fill="#feede6"/><rect x="109.0" y="345" width="1.02" height="38.5" fill="#feebe3"/><rect x="110.0" y="345" width="1.02" height="38.5" fill="#feece5"/><rect x="111.0" y="345" width="1.02" height="38.5" fill="#ffefe9"/><rect x="112.0" y="345" width="1.02" height="38.5" fill="#feefe9"/><rect x="113.0" y="345" width="1.02" height="38.5" fill="#feede6"/><rect x="114.0" y="345" width="1.02" height="38.5" fill="#fff1ec"/><rect x="115.0" y="345" width="1.02" height="38.5" fill="#feeee8"/><rect x="116.0" y="345" width="1.02" height="38.5" fill="#fff0ea"/><rect x="117.0" y="345" width="1.02" height="38.5" fill="#fff1eb"/><rect x="118.0" y="345" width="1.02" height="38.5" fill="#fff1eb"/><rect x="119.0" y="345" width="1.02" height="38.5" fill="#feece5"/><rect x="120.0" y="345" width="1.02" height="38.5" fill="#fff0eb"/><rect x="121.0" y="345" width="1.02" height="38.5" fill="#fff0ea"/><rect x="122.0" y="345" width="1.02" height="38.5" fill="#feefe9"/><rect x="123.0" y="345" width="1.02" height="38.5" fill="#feece4"/><rect x="124.0" y="345" width="1.02" height="38.5" fill="#fff1eb"/><rect x="125.0" y="345" width="1.02" height="38.5" fill="#feeee8"/><rect x="126.0" y="345" width="1.02" height="38.5" fill="#feeee7"/><rect x="127.0" y="345" width="1.02" height="38.5" fill="#feebe4"/><rect x="128.0" y="345" width="1.02" height="38.5" fill="#feece5"/><rect x="129.0" y="345" width="1.02" height="38.5" fill="#feece4"/><rect x="130.0" y="345" width="1.02" height="38.5" fill="#ffefea"/><rect x="131.0" y="345" width="1.02" height="38.5" fill="#feefe8"/><rect x="132.0" y="345" width="1.02" height="38.5" fill="#feefe9"/><rect x="133.0" y="345" width="1.02" height="38.5" fill="#feebe4"/><rect x="134.0" y="345" width="1.02" height="38.5" fill="#feebe4"/><rect x="135.0" y="345" width="1.02" height="38.5" fill="#fff0eb"/><rect x="136.0" y="345" width="1.02" height="38.5" fill="#fff0ea"/><rect x="137.0" y="345" width="1.02" height="38.5" fill="#fff0ea"/><rect x="138.0" y="345" width="1.02" height="38.5" fill="#fff0ea"/><rect x="139.0" y="345" width="1.02" height="38.5" fill="#feeee8"/><rect x="140.0" y="345" width="1.02" height="38.5" fill="#feede7"/><rect x="141.0" y="345" width="1.02" height="38.5" fill="#fff0ea"/><rect x="142.0" y="345" width="1.02" height="38.5" fill="#fff1ec"/><rect x="143.0" y="345" width="1.02" height="38.5" fill="#feefe8"/><rect x="144.0" y="345" width="1.02" height="38.5" fill="#feefe9"/><rect x="145.0" y="345" width="1.02" height="38.5" fill="#feeee7"/><rect x="146.0" y="345" width="1.02" height="38.5" fill="#feebe4"/><rect x="147.0" y="345" width="1.02" height="38.5" fill="#feede6"/><rect x="148.0" y="345" width="1.02" height="38.5" fill="#feeee7"/><rect x="149.0" y="345" width="1.02" height="38.5" fill="#feede7"/><rect x="150.0" y="345" width="1.02" height="38.5" fill="#feede6"/><rect x="151.0" y="345" width="1.02" height="38.5" fill="#fff1eb"/><rect x="152.0" y="345" width="1.02" height="38.5" fill="#feebe4"/><rect x="153.0" y="345" width="1.02" height="38.5" fill="#feece5"/><rect x="154.0" y="345" width="1.02" height="38.5" fill="#feebe4"/><rect x="155.0" y="345" width="1.02" height="38.5" fill="#feece5"/><rect x="156.0" y="345" width="1.02" height="38.5" fill="#feefe9"/><rect x="157.0" y="345" width="1.02" height="38.5" fill="#feefe8"/><rect x="158.0" y="345" width="1.02" height="38.5" fill="#fff1eb"/><rect x="159.0" y="345" width="1.02" height="38.5" fill="#feede6"/><rect x="160.0" y="345" width="1.02" height="38.5" fill="#fff1eb"/><rect x="161.0" y="345" width="1.02" height="38.5" fill="#fff1eb"/><rect x="162.0" y="345" width="1.02" height="38.5" fill="#fff0ea"/><rect x="163.0" y="345" width="1.02" height="38.5" fill="#fff0eb"/><rect x="164.0" y="345" width="1.02" height="38.5" fill="#feefe9"/><rect x="165.0" y="345" width="1.02" height="38.5" fill="#fff1ec"/><rect x="166.0" y="345" width="1.02" height="38.5" fill="#fff1ec"/><rect x="167.0" y="345" width="1.02" height="38.5" fill="#fff0eb"/><rect x="168.0" y="345" width="1.02" height="38.5" fill="#fff1eb"/><rect x="169.0" y="345" width="1.02" height="38.5" fill="#feefe9"/><rect x="170.0" y="345" width="1.02" height="38.5" fill="#fff1ec"/><rect x="171.0" y="345" width="1.02" height="38.5" fill="#feebe4"/><rect x="172.0" y="345" width="1.02" height="38.5" fill="#feede7"/><rect x="173.0" y="345" width="1.02" height="38.5" fill="#fff0eb"/><rect x="174.0" y="345" width="1.02" height="38.5" fill="#fff0ea"/><rect x="175" y="345" width="1.02" height="38.5" fill="#feede7"/><rect x="176.0" y="345" width="1.02" height="38.5" fill="#feede7"/><rect x="177.0" y="345" width="1.02" height="38.5" fill="#feefe9"/><rect x="178.0" y="345" width="1.02" height="38.5" fill="#feeae2"/><rect x="179.0" y="345" width="1.02" height="38.5" fill="#fee9e1"/><rect x="180.0" y="345" width="1.02" height="38.5" fill="#feede6"/><rect x="181.0" y="345" width="1.02" height="38.5" fill="#feede6"/><rect x="182.0" y="345" width="1.02" height="38.5" fill="#feefe9"/><rect x="183.0" y="345" width="1.02" height="38.5" fill="#feefe9"/><rect x="184.0" y="345" width="1.02" height="38.5" fill="#feede7"/><rect x="185.0" y="345" width="1.02" height="38.5" fill="#feeee8"/><rect x="186.0" y="345" width="1.02" height="38.5" fill="#feeae3"/><rect x="187.0" y="345" width="1.02" height="38.5" fill="#feefe9"/><rect x="188.0" y="345" width="1.02" height="38.5" fill="#fff0ea"/><rect x="189.0" y="345" width="1.02" height="38.5" fill="#fee9e1"/><rect x="190.0" y="345" width="1.02" height="38.5" fill="#feece5"/><rect x="191.0" y="345" width="1.02" height="38.5" fill="#feefe9"/><rect x="192.0" y="345" width="1.02" height="38.5" fill="#feece5"/><rect x="193.0" y="345" width="1.02" height="38.5" fill="#fff0ea"/><rect x="194.0" y="345" width="1.02" height="38.5" fill="#feece5"/><rect x="195.0" y="345" width="1.02" height="38.5" fill="#fee9e1"/><rect x="196.0" y="345" width="1.02" height="38.5" fill="#feeae2"/><rect x="197.0" y="345" width="1.02" height="38.5" fill="#feebe4"/><rect x="198.0" y="345" width="1.02" height="38.5" fill="#feeee8"/><rect x="199.0" y="345" width="1.02" height="38.5" fill="#feede7"/><rect x="200" y="345" width="1.02" height="38.5" fill="#fee9e1"/><rect x="201.0" y="345" width="1.02" height="38.5" fill="#fee4da"/><rect x="202.0" y="345" width="1.02" height="38.5" fill="#fee6dd"/><rect x="203.0" y="345" width="1.02" height="38.5" fill="#fee4da"/><rect x="204.0" y="345" width="1.02" height="38.5" fill="#fee7df"/><rect x="205.0" y="345" width="1.02" height="38.5" fill="#fee8e0"/><rect x="206.0" y="345" width="1.02" height="38.5" fill="#fee4da"/><rect x="207.0" y="345" width="1.02" height="38.5" fill="#fee2d8"/><rect x="208.0" y="345" width="1.02" height="38.5" fill="#fee3da"/><rect x="209.0" y="345" width="1.02" height="38.5" fill="#fee4da"/><rect x="210.0" y="345" width="1.02" height="38.5" fill="#fee4da"/><rect x="211.0" y="345" width="1.02" height="38.5" fill="#fee4db"/><rect x="212.0" y="345" width="1.02" height="38.5" fill="#fee8e0"/><rect x="213.0" y="345" width="1.02" height="38.5" fill="#fee6dd"/><rect x="214.0" y="345" width="1.02" height="38.5" fill="#fee7df"/><rect x="215.0" y="345" width="1.02" height="38.5" fill="#feeae2"/><rect x="216.0" y="345" width="1.02" height="38.5" fill="#feeae2"/><rect x="217.0" y="345" width="1.02" height="38.5" fill="#fee8df"/><rect x="218.0" y="345" width="1.02" height="38.5" fill="#fee8e0"/><rect x="219.0" y="345" width="1.02" height="38.5" fill="#fee5db"/><rect x="220.0" y="345" width="1.02" height="38.5" fill="#fee2d9"/><rect x="221.0" y="345" width="1.02" height="38.5" fill="#fee6de"/><rect x="222.0" y="345" width="1.02" height="38.5" fill="#fee3d9"/><rect x="223.0" y="345" width="1.02" height="38.5" fill="#fee2d8"/><rect x="224.0" y="345" width="1.02" height="38.5" fill="#fee3d9"/><rect x="225" y="345" width="1.02" height="38.5" fill="#fee9e1"/><rect x="226.0" y="345" width="1.02" height="38.5" fill="#feeae2"/><rect x="227.0" y="345" width="1.02" height="38.5" fill="#feeae2"/><rect x="228.0" y="345" width="1.02" height="38.5" fill="#feeae2"/><rect x="229.0" y="345" width="1.02" height="38.5" fill="#feeae2"/><rect x="230.0" y="345" width="1.02" height="38.5" fill="#fee7de"/><rect x="231.0" y="345" width="1.02" height="38.5" fill="#fee5db"/><rect x="232.0" y="345" width="1.02" height="38.5" fill="#fee5dc"/><rect x="233.0" y="345" width="1.02" height="38.5" fill="#fee8df"/><rect x="234.0" y="345" width="1.02" height="38.5" fill="#fee6de"/><rect x="235.0" y="345" width="1.02" height="38.5" fill="#fee5dc"/><rect x="236.0" y="345" width="1.02" height="38.5" fill="#feebe3"/><rect x="237.0" y="345" width="1.02" height="38.5" fill="#fee6de"/><rect x="238.0" y="345" width="1.02" height="38.5" fill="#fee5db"/><rect x="239.0" y="345" width="1.02" height="38.5" fill="#fee5dd"/><rect x="240.0" y="345" width="1.02" height="38.5" fill="#fee6dd"/><rect x="241.0" y="345" width="1.02" height="38.5" fill="#fee8df"/><rect x="242.0" y="345" width="1.02" height="38.5" fill="#feeae2"/><rect x="243.0" y="345" width="1.02" height="38.5" fill="#fee5dc"/><rect x="244.0" y="345" width="1.02" height="38.5" fill="#fee9e1"/><rect x="245.0" y="345" width="1.02" height="38.5" fill="#fee5dc"/><rect x="246.0" y="345" width="1.02" height="38.5" fill="#fee4db"/><rect x="247.0" y="345" width="1.02" height="38.5" fill="#fee8e0"/><rect x="248.0" y="345" width="1.02" height="38.5" fill="#fee8e0"/><rect x="249.0" y="345" width="1.02" height="38.5" fill="#fee4db"/><rect x="250.0" y="345" width="1.02" height="38.5" fill="#fee6dd"/><rect x="251.0" y="345" width="1.02" height="38.5" fill="#feeae2"/><rect x="252.0" y="345" width="1.02" height="38.5" fill="#feeae3"/><rect x="253.0" y="345" width="1.02" height="38.5" fill="#feeae3"/><rect x="254.0" y="345" width="1.02" height="38.5" fill="#fee5db"/><rect x="255.0" y="345" width="1.02" height="38.5" fill="#fee5dc"/><rect x="256.0" y="345" width="1.02" height="38.5" fill="#feeae3"/><rect x="257.0" y="345" width="1.02" height="38.5" fill="#fee5dc"/><rect x="258.0" y="345" width="1.02" height="38.5" fill="#fee4db"/><rect x="259.0" y="345" width="1.02" height="38.5" fill="#fee6de"/><rect x="260.0" y="345" width="1.02" height="38.5" fill="#fee9e1"/><rect x="261.0" y="345" width="1.02" height="38.5" fill="#fee7df"/><rect x="262.0" y="345" width="1.02" height="38.5" fill="#feeae3"/><rect x="263.0" y="345" width="1.02" height="38.5" fill="#feebe4"/><rect x="264.0" y="345" width="1.02" height="38.5" fill="#fee4db"/><rect x="265.0" y="345" width="1.02" height="38.5" fill="#fee6de"/><rect x="266.0" y="345" width="1.02" height="38.5" fill="#fee7df"/><rect x="267.0" y="345" width="1.02" height="38.5" fill="#fee4db"/><rect x="268.0" y="345" width="1.02" height="38.5" fill="#fee8e0"/><rect x="269.0" y="345" width="1.02" height="38.5" fill="#fee5dc"/><rect x="270.0" y="345" width="1.02" height="38.5" fill="#fee5dc"/><rect x="271.0" y="345" width="1.02" height="38.5" fill="#feeae2"/><rect x="272.0" y="345" width="1.02" height="38.5" fill="#fee9e2"/><rect x="273.0" y="345" width="1.02" height="38.5" fill="#fee9e1"/><rect x="274.0" y="345" width="1.02" height="38.5" fill="#feeae2"/><rect x="275.0" y="345" width="1.02" height="38.5" fill="#fee7de"/><rect x="276.0" y="345" width="1.02" height="38.5" fill="#fee9e2"/><rect x="277.0" y="345" width="1.02" height="38.5" fill="#fee8e0"/><rect x="278.0" y="345" width="1.02" height="38.5" fill="#feeae3"/><rect x="279.0" y="345" width="1.02" height="38.5" fill="#fee5db"/><rect x="280.0" y="345" width="1.02" height="38.5" fill="#fee9e1"/><rect x="281.0" y="345" width="1.02" height="38.5" fill="#fee8e0"/><rect x="282.0" y="345" width="1.02" height="38.5" fill="#fee7de"/><rect x="283.0" y="345" width="1.02" height="38.5" fill="#fee5db"/><rect x="284.0" y="345" width="1.02" height="38.5" fill="#fee8e0"/><rect x="285.0" y="345" width="1.02" height="38.5" fill="#fee4db"/><rect x="286.0" y="345" width="1.02" height="38.5" fill="#fee8df"/><rect x="287.0" y="345" width="1.02" height="38.5" fill="#fee7df"/><rect x="288.0" y="345" width="1.02" height="38.5" fill="#fee7df"/><rect x="289.0" y="345" width="1.02" height="38.5" fill="#feebe4"/><rect x="290.0" y="345" width="1.02" height="38.5" fill="#fee8e0"/><rect x="291.0" y="345" width="1.02" height="38.5" fill="#feeae2"/><rect x="292.0" y="345" width="1.02" height="38.5" fill="#feebe4"/><rect x="293.0" y="345" width="1.02" height="38.5" fill="#fee5dc"/><rect x="294.0" y="345" width="1.02" height="38.5" fill="#feeae2"/><rect x="295.0" y="345" width="1.02" height="38.5" fill="#fee8e0"/><rect x="296" y="345" width="1.02" height="38.5" fill="#fccdbd"/><rect x="297.0" y="345" width="1.02" height="38.5" fill="#fccfbf"/><rect x="298.0" y="345" width="1.02" height="38.5" fill="#fcd1c2"/><rect x="299.0" y="345" width="1.02" height="38.5" fill="#fccfc0"/><rect x="300.0" y="345" width="1.02" height="38.5" fill="#fccfbf"/><rect x="301.0" y="345" width="1.02" height="38.5" fill="#fcccbc"/><rect x="302.0" y="345" width="1.02" height="38.5" fill="#fcd4c5"/><rect x="303.0" y="345" width="1.02" height="38.5" fill="#fccfbf"/><rect x="304.0" y="345" width="1.02" height="38.5" fill="#fcd2c3"/><rect x="305.0" y="345" width="1.02" height="38.5" fill="#fcd2c3"/><rect x="306.0" y="345" width="1.02" height="38.5" fill="#fcccbc"/><rect x="307.0" y="345" width="1.02" height="38.5" fill="#fcd0c0"/><rect x="308.0" y="345" width="1.02" height="38.5" fill="#fccfbf"/><rect x="309.0" y="345" width="1.02" height="38.5" fill="#fcccbc"/><rect x="310.0" y="345" width="1.02" height="38.5" fill="#fccaba"/><rect x="311.0" y="345" width="1.02" height="38.5" fill="#fcd0c1"/><rect x="312.0" y="345" width="1.02" height="38.5" fill="#fccebf"/><rect x="313.0" y="345" width="1.02" height="38.5" fill="#fcd0c0"/><rect x="314.0" y="345" width="1.02" height="38.5" fill="#fccfc0"/><rect x="315.0" y="345" width="1.02" height="38.5" fill="#fccdbd"/><rect x="316.0" y="345" width="1.02" height="38.5" fill="#fcd0c1"/><rect x="317.0" y="345" width="1.02" height="38.5" fill="#fccfc0"/><rect x="318.0" y="345" width="1.02" height="38.5" fill="#fcd0c0"/><rect x="319.0" y="345" width="1.02" height="38.5" fill="#fccaba"/><rect x="320.0" y="345" width="1.02" height="38.5" fill="#fccdbd"/><rect x="321.0" y="345" width="1.02" height="38.5" fill="#fccbbb"/><rect x="322.0" y="345" width="1.02" height="38.5" fill="#fccaba"/><rect x="323.0" y="345" width="1.02" height="38.5" fill="#fcd2c3"/><rect x="324.0" y="345" width="1.02" height="38.5" fill="#fccfbf"/><rect x="325.0" y="345" width="1.02" height="38.5" fill="#fccaba"/><rect x="326.0" y="345" width="1.02" height="38.5" fill="#fccbbb"/><rect x="327.0" y="345" width="1.02" height="38.5" fill="#fcd3c5"/><rect x="328.0" y="345" width="1.02" height="38.5" fill="#fcd4c5"/><rect x="329.0" y="345" width="1.02" height="38.5" fill="#fcd0c1"/><rect x="330" y="345" width="1.02" height="38.5" fill="#fde2d8"/><rect x="331.0" y="345" width="1.02" height="38.5" fill="#fde0d6"/><rect x="332.0" y="345" width="1.02" height="38.5" fill="#fde2d8"/><rect x="333.0" y="345" width="1.02" height="38.5" fill="#fdddd1"/><rect x="334.0" y="345" width="1.02" height="38.5" fill="#fddcd0"/><rect x="335.0" y="345" width="1.02" height="38.5" fill="#fddbce"/><rect x="336.0" y="345" width="1.02" height="38.5" fill="#fde1d7"/><rect x="337.0" y="345" width="1.02" height="38.5" fill="#fddcd0"/><rect x="338.0" y="345" width="1.02" height="38.5" fill="#fdddd1"/><rect x="339.0" y="345" width="1.02" height="38.5" fill="#fde1d7"/><rect x="340.0" y="345" width="1.02" height="38.5" fill="#fddbcf"/><rect x="341.0" y="345" width="1.02" height="38.5" fill="#fddace"/><rect x="342.0" y="345" width="1.02" height="38.5" fill="#fde0d6"/><rect x="343.0" y="345" width="1.02" height="38.5" fill="#fddace"/><rect x="344.0" y="345" width="1.02" height="38.5" fill="#fddfd4"/><rect x="345" y="345" width="1.02" height="38.5" fill="#fde1d7"/><rect x="346.0" y="345" width="1.02" height="38.5" fill="#fdddd2"/><rect x="347.0" y="345" width="1.02" height="38.5" fill="#fdded3"/><rect x="348.0" y="345" width="1.02" height="38.5" fill="#fee4db"/><rect x="349.0" y="345" width="1.02" height="38.5" fill="#fde2d8"/><rect x="350.0" y="345" width="1.02" height="38.5" fill="#fde1d7"/><rect x="351.0" y="345" width="1.02" height="38.5" fill="#fee3d9"/><rect x="352.0" y="345" width="1.02" height="38.5" fill="#fee4da"/><rect x="353.0" y="345" width="1.02" height="38.5" fill="#fee3d9"/><rect x="354.0" y="345" width="1.02" height="38.5" fill="#fddfd5"/><rect x="355.0" y="345" width="1.02" height="38.5" fill="#fee5dc"/><rect x="356.0" y="345" width="1.02" height="38.5" fill="#fde1d6"/><rect x="357.0" y="345" width="1.02" height="38.5" fill="#fde2d8"/><rect x="358.0" y="345" width="1.02" height="38.5" fill="#fee5dc"/><rect x="359.0" y="345" width="1.02" height="38.5" fill="#fee3d9"/><rect x="360.0" y="345" width="1.02" height="38.5" fill="#fde0d6"/><rect x="361.0" y="345" width="1.02" height="38.5" fill="#fde1d7"/><rect x="362" y="345" width="1.02" height="38.5" fill="#fddace"/><rect x="363.0" y="345" width="1.02" height="38.5" fill="#fcd1c2"/><rect x="364.0" y="345" width="1.02" height="38.5" fill="#fcd3c5"/><rect x="365.0" y="345" width="1.02" height="38.5" fill="#fcd1c3"/><rect x="366.0" y="345" width="1.02" height="38.5" fill="#fddacd"/><rect x="367.0" y="345" width="1.02" height="38.5" fill="#fdd8cb"/><rect x="368.0" y="345" width="1.02" height="38.5" fill="#fddace"/><rect x="369.0" y="345" width="1.02" height="38.5" fill="#fcd3c5"/><rect x="370.0" y="345" width="1.02" height="38.5" fill="#fdd8cb"/><rect x="371.0" y="345" width="1.02" height="38.5" fill="#fddacd"/><rect x="372.0" y="345" width="1.02" height="38.5" fill="#fdd7c9"/><rect x="373.0" y="345" width="1.02" height="38.5" fill="#fcd2c3"/><rect x="374.0" y="345" width="1.02" height="38.5" fill="#fcd3c4"/><rect x="375.0" y="345" width="1.02" height="38.5" fill="#fdd8cb"/><rect x="376.0" y="345" width="1.02" height="38.5" fill="#fdd9cd"/><rect x="377.0" y="345" width="1.02" height="38.5" fill="#fcd2c3"/><rect x="378.0" y="345" width="1.02" height="38.5" fill="#fdd5c8"/><rect x="379.0" y="345" width="1.02" height="38.5" fill="#fcd4c6"/><rect x="380.0" y="345" width="1.02" height="38.5" fill="#fddace"/><rect x="381.0" y="345" width="1.02" height="38.5" fill="#fddace"/><rect x="382.0" y="345" width="1.02" height="38.5" fill="#fcd4c6"/><rect x="383.0" y="345" width="1.02" height="38.5" fill="#fdd7c9"/><rect x="384.0" y="345" width="1.02" height="38.5" fill="#fddace"/><rect x="385" y="345" width="1.02" height="38.5" fill="#fee3d9"/><rect x="386.0" y="345" width="1.02" height="38.5" fill="#fee5dc"/><rect x="387.0" y="345" width="1.02" height="38.5" fill="#fee4da"/><rect x="388.0" y="345" width="1.02" height="38.5" fill="#fee9e1"/><rect x="389.0" y="345" width="1.02" height="38.5" fill="#fee3da"/><rect x="390.0" y="345" width="1.02" height="38.5" fill="#fee9e2"/><rect x="391.0" y="345" width="1.02" height="38.5" fill="#fee3da"/><rect x="392" y="345" width="15" height="1.02" fill="#fff0ea"/><rect x="392" y="346.0" width="15" height="1.02" fill="#fbbeae"/><rect x="392" y="347.0" width="15" height="1.02" fill="#fff0ea"/><rect x="392" y="348.0" width="15" height="1.02" fill="#fff0ea"/><rect x="392" y="349.0" width="15" height="1.02" fill="#fbbeae"/><rect x="392" y="350.0" width="15" height="1.02" fill="#fbbeae"/><rect x="392" y="351.0" width="15" height="1.02" fill="#fff0ea"/><rect x="392" y="352.0" width="15" height="1.02" fill="#fbbeae"/><rect x="392" y="353.0" width="15" height="1.02" fill="#fbbeae"/><rect x="392" y="354.0" width="15" height="1.02" fill="#fbbeae"/><rect x="392" y="355.0" width="15" height="1.02" fill="#fbbeae"/><rect x="392" y="356.0" width="15" height="1.02" fill="#fbbeae"/><rect x="392" y="357.0" width="15" height="1.02" fill="#fbbeae"/><rect x="392" y="358.0" width="15" height="1.02" fill="#fbbeae"/><rect x="392" y="359.0" width="15" height="1.02" fill="#fff0ea"/><rect x="392" y="360.0" width="15" height="1.02" fill="#fbbeae"/><rect x="392" y="361.0" width="15" height="1.02" fill="#fff0ea"/><rect x="392" y="362.0" width="15" height="1.02" fill="#fbbeae"/><rect x="392" y="363.0" width="15" height="1.02" fill="#fbbeae"/><rect x="392" y="364.0" width="15" height="1.02" fill="#fbbeae"/><rect x="392" y="365.0" width="15" height="1.02" fill="#fbbeae"/><rect x="392" y="366.0" width="15" height="1.02" fill="#fbbeae"/><rect x="392" y="367.0" width="15" height="1.02" fill="#fff0ea"/><rect x="392" y="368.0" width="15" height="1.02" fill="#fff0ea"/><rect x="392" y="369.0" width="15" height="1.02" fill="#fbbeae"/><rect x="392" y="370.0" width="15" height="1.02" fill="#fff0ea"/><rect x="392" y="371.0" width="15" height="1.02" fill="#fff0ea"/><rect x="392" y="372.0" width="15" height="1.02" fill="#fbbeae"/><rect x="392" y="373.0" width="15" height="1.02" fill="#fff0ea"/><rect x="392" y="374.0" width="15" height="1.02" fill="#fbbeae"/><rect x="392" y="375.0" width="15" height="1.02" fill="#fff0ea"/><rect x="392" y="376.0" width="15" height="1.02" fill="#fff0ea"/><rect x="392" y="377.0" width="15" height="1.02" fill="#fbbeae"/><rect x="392" y="378.0" width="15" height="1.02" fill="#fff0ea"/><rect x="392" y="379.0" width="15" height="1.02" fill="#fff0ea"/><rect x="392" y="380.0" width="15" height="1.02" fill="#fff0ea"/><rect x="392" y="381.0" width="15" height="1.02" fill="#fbbeae"/><rect x="392" y="382.0" width="15" height="1.02" fill="#fff0ea"/><rect x="392" y="383.0" width="15" height="0.52" fill="#fff0ea"/><rect x="407" y="345" width="1.02" height="38.5" fill="#ef4f40"/><rect x="408.0" y="345" width="1.02" height="38.5" fill="#f05645"/><rect x="409.0" y="345" width="1.02" height="38.5" fill="#f15846"/><rect x="410.0" y="345" width="1.02" height="38.5" fill="#f2614f"/><rect x="411.0" y="345" width="1.02" height="38.5" fill="#f15e4c"/><rect x="412.0" y="345" width="1.02" height="38.5" fill="#f2604e"/><rect x="413.0" y="345" width="1.02" height="38.5" fill="#ee4c3d"/><rect x="414.0" y="345" width="1.02" height="38.5" fill="#f15a48"/><rect x="415" y="345" width="1.02" height="38.5" fill="#ee4c3d"/><rect x="416.0" y="345" width="1.02" height="38.5" fill="#ef4e3f"/><rect x="417.0" y="345" width="1.02" height="38.5" fill="#ea372c"/><rect x="418" y="345" width="1.02" height="38.5" fill="#ee493a"/><rect x="419.0" y="345" width="1.02" height="38.5" fill="#ef4e3f"/><rect x="420.0" y="345" width="1.02" height="38.5" fill="#f15a48"/><rect x="421.0" y="345" width="1.02" height="38.5" fill="#f15b49"/><rect x="422.0" y="345" width="1.02" height="38.5" fill="#f15947"/><rect x="423.0" y="345" width="1.02" height="38.5" fill="#f05444"/><rect x="424.0" y="345" width="1.02" height="38.5" fill="#f15d4c"/><rect x="425.0" y="345" width="1.02" height="38.5" fill="#f05544"/><rect x="426.0" y="345" width="1.02" height="38.5" fill="#f15a48"/><rect x="427.0" y="345" width="1.02" height="38.5" fill="#ed4638"/><rect x="428.0" y="345" width="1.02" height="38.5" fill="#ed4638"/><rect x="429.0" y="345" width="1.02" height="38.5" fill="#ef5242"/><rect x="430.0" y="345" width="1.02" height="38.5" fill="#f15b49"/><rect x="431.0" y="345" width="1.02" height="38.5" fill="#ed4638"/><rect x="432.0" y="345" width="1.02" height="38.5" fill="#f15947"/><rect x="433.0" y="345" width="1.02" height="38.5" fill="#f05746"/><rect x="434.0" y="345" width="1.02" height="38.5" fill="#f26250"/><rect x="435" y="345" width="1.02" height="38.5" fill="#ea382d"/><rect x="436.0" y="345" width="1.02" height="38.5" fill="#ea352b"/><rect x="437.0" y="345" width="1.02" height="38.5" fill="#ea342a"/><rect x="438" y="345" width="1.02" height="38.5" fill="#f9a797"/><rect x="439.0" y="345" width="1.02" height="38.5" fill="#f8a190"/><rect x="440.0" y="345" width="1.02" height="38.5" fill="#f9ab9b"/><rect x="441.0" y="345" width="1.02" height="38.5" fill="#f8a695"/><rect x="442.0" y="345" width="1.02" height="38.5" fill="#f9a999"/><rect x="443.0" y="345" width="1.02" height="38.5" fill="#f8a392"/><rect x="444.0" y="345" width="1.02" height="38.5" fill="#f9aa9a"/><rect x="445.0" y="345" width="1.02" height="38.5" fill="#f9ab9a"/><rect x="446.0" y="345" width="1.02" height="38.5" fill="#f8a594"/><rect x="447.0" y="345" width="1.02" height="38.5" fill="#f8a796"/><rect x="448.0" y="345" width="1.02" height="38.5" fill="#f89f8f"/><rect x="449.0" y="345" width="1.02" height="38.5" fill="#f8a190"/><rect x="450.0" y="345" width="1.02" height="38.5" fill="#f89c8b"/><rect x="451.0" y="345" width="1.02" height="38.5" fill="#f89e8d"/><rect x="452.0" y="345" width="1.02" height="38.5" fill="#f89d8c"/><rect x="453.0" y="345" width="1.02" height="38.5" fill="#f79a89"/><rect x="454.0" y="345" width="1.02" height="38.5" fill="#f8a393"/><rect x="455.0" y="345" width="1.02" height="38.5" fill="#f8a594"/><rect x="456.0" y="345" width="1.02" height="38.5" fill="#f79786"/><rect x="457.0" y="345" width="1.02" height="38.5" fill="#f9a898"/><rect x="458.0" y="345" width="1.02" height="38.5" fill="#f89d8c"/><rect x="459.0" y="345" width="1.02" height="38.5" fill="#f89e8d"/><rect x="460.0" y="345" width="1.02" height="38.5" fill="#f9aa9a"/><rect x="461.0" y="345" width="1.02" height="38.5" fill="#f79a8a"/><rect x="462.0" y="345" width="1.02" height="38.5" fill="#f79988"/><rect x="463.0" y="345" width="1.02" height="38.5" fill="#f89f8e"/><rect x="464.0" y="345" width="1.02" height="38.5" fill="#f89c8c"/><rect x="465.0" y="345" width="1.02" height="38.5" fill="#f79b8a"/><rect x="466.0" y="345" width="1.02" height="38.5" fill="#f9a898"/><rect x="467.0" y="345" width="1.02" height="38.5" fill="#f8a190"/><rect x="468.0" y="345" width="1.02" height="38.5" fill="#f8a190"/><rect x="469.0" y="345" width="1.02" height="38.5" fill="#f79a8a"/><rect x="470.0" y="345" width="1.02" height="38.5" fill="#f79b8a"/><rect x="471.0" y="345" width="1.02" height="38.5" fill="#f79b8a"/><rect x="472.0" y="345" width="1.02" height="38.5" fill="#f8a08f"/><rect x="473.0" y="345" width="1.02" height="38.5" fill="#f79988"/><rect x="474.0" y="345" width="1.02" height="38.5" fill="#f89e8d"/><rect x="475.0" y="345" width="1.02" height="38.5" fill="#f89d8c"/><rect x="476.0" y="345" width="1.02" height="38.5" fill="#f8a796"/><rect x="477.0" y="345" width="1.02" height="38.5" fill="#f9ab9a"/><rect x="478.0" y="345" width="1.02" height="38.5" fill="#f9a998"/><rect x="479.0" y="345" width="1.02" height="38.5" fill="#f8a493"/><rect x="480.0" y="345" width="1.02" height="38.5" fill="#f9a999"/><rect x="481.0" y="345" width="1.02" height="38.5" fill="#f79a8a"/><rect x="482.0" y="345" width="1.02" height="38.5" fill="#f8a08f"/><rect x="483.0" y="345" width="1.02" height="38.5" fill="#f89f8e"/><rect x="484.0" y="345" width="1.02" height="38.5" fill="#f89f8e"/><rect x="485" y="345" width="1.02" height="38.5" fill="#fbc4b4"/><rect x="486.0" y="345" width="1.02" height="38.5" fill="#fbc7b7"/><rect x="487.0" y="345" width="1.02" height="38.5" fill="#fccfbf"/><rect x="488.0" y="345" width="1.02" height="38.5" fill="#fbc3b2"/><rect x="489.0" y="345" width="1.02" height="38.5" fill="#fbc3b3"/><rect x="490" y="345" width="1.02" height="38.5" fill="#f9ac9c"/><rect x="491.0" y="345" width="1.02" height="38.5" fill="#f9ac9b"/><rect x="492.0" y="345" width="1.02" height="38.5" fill="#f9a999"/><rect x="493.0" y="345" width="1.02" height="38.5" fill="#fab5a4"/><rect x="494.0" y="345" width="1.02" height="38.5" fill="#f9a897"/><rect x="495.0" y="345" width="1.02" height="38.5" fill="#f9b1a1"/><rect x="496.0" y="345" width="1.02" height="38.5" fill="#fab4a4"/><rect x="497.0" y="345" width="1.02" height="38.5" fill="#f9b1a0"/><rect x="498.0" y="345" width="1.02" height="38.5" fill="#f9a897"/><rect x="499.0" y="345" width="1.02" height="38.5" fill="#f9b2a1"/><rect x="500.0" y="345" width="1.02" height="38.5" fill="#f9a897"/><rect x="501.0" y="345" width="1.02" height="38.5" fill="#f8a393"/><rect x="502.0" y="345" width="1.02" height="38.5" fill="#f9ad9c"/><rect x="503.0" y="345" width="1.02" height="38.5" fill="#f9af9e"/><rect x="504.0" y="345" width="1.02" height="38.5" fill="#f9ad9c"/><rect x="505.0" y="345" width="1.02" height="38.5" fill="#f9a998"/><rect x="506.0" y="345" width="1.02" height="38.5" fill="#f9a797"/><rect x="507.0" y="345" width="1.02" height="38.5" fill="#f9aa9a"/><rect x="508.0" y="345" width="1.02" height="38.5" fill="#f9aa99"/><rect x="509.0" y="345" width="1.02" height="38.5" fill="#fab4a4"/><rect x="510.0" y="345" width="1.02" height="38.5" fill="#fab3a3"/><rect x="511.0" y="345" width="1.02" height="38.5" fill="#f9b1a1"/><rect x="512.0" y="345" width="1.02" height="38.5" fill="#f9a897"/><rect x="513.0" y="345" width="1.02" height="38.5" fill="#f9b0a0"/><rect x="514.0" y="345" width="1.02" height="38.5" fill="#f9ab9b"/><rect x="515.0" y="345" width="1.02" height="38.5" fill="#fab6a5"/><rect x="516.0" y="345" width="1.02" height="38.5" fill="#fab5a4"/><rect x="517.0" y="345" width="1.02" height="38.5" fill="#f9b1a0"/><rect x="518.0" y="345" width="1.02" height="38.5" fill="#f9a999"/><rect x="519.0" y="345" width="1.02" height="38.5" fill="#f9a998"/><rect x="520.0" y="345" width="1.02" height="38.5" fill="#f9a998"/><rect x="521.0" y="345" width="1.02" height="38.5" fill="#f9b0a0"/><rect x="522.0" y="345" width="1.02" height="38.5" fill="#f9ac9b"/><rect x="523.0" y="345" width="1.02" height="38.5" fill="#f9ad9c"/><rect x="524.0" y="345" width="1.02" height="38.5" fill="#f9ad9c"/><rect x="525.0" y="345" width="1.02" height="38.5" fill="#fab4a3"/><rect x="526.0" y="345" width="1.02" height="38.5" fill="#f8a594"/><rect x="527.0" y="345" width="1.02" height="38.5" fill="#fab2a2"/><rect x="528.0" y="345" width="1.02" height="38.5" fill="#f8a393"/><rect x="529.0" y="345" width="1.02" height="38.5" fill="#f8a493"/><rect x="530.0" y="345" width="1.02" height="38.5" fill="#fab5a5"/><rect x="531.0" y="345" width="1.02" height="38.5" fill="#f9ad9d"/><rect x="532.0" y="345" width="1.02" height="38.5" fill="#f8a696"/><rect x="533.0" y="345" width="1.02" height="38.5" fill="#f8a493"/><rect x="534.0" y="345" width="1.02" height="38.5" fill="#f9ad9d"/><rect x="535.0" y="345" width="1.02" height="38.5" fill="#f9b1a0"/><rect x="36.3" y="383.5" width="10.700000000000003" height="1.02" fill="#fcd0c0"/><rect x="36.3" y="384.5" width="10.700000000000003" height="1.02" fill="#fff1ec"/><rect x="36.3" y="385.5" width="10.700000000000003" height="1.02" fill="#fcd0c0"/><rect x="36.3" y="386.5" width="10.700000000000003" height="1.02" fill="#fff1ec"/><rect x="36.3" y="387.5" width="10.700000000000003" height="1.02" fill="#fcd0c0"/><rect x="36.3" y="388.5" width="10.700000000000003" height="1.02" fill="#fff1ec"/><rect x="36.3" y="389.5" width="10.700000000000003" height="1.02" fill="#fff1ec"/><rect x="36.3" y="390.5" width="10.700000000000003" height="1.02" fill="#fcd0c0"/><rect x="36.3" y="391.5" width="10.700000000000003" height="1.02" fill="#fff1ec"/><rect x="36.3" y="392.5" width="10.700000000000003" height="1.02" fill="#fff1ec"/><rect x="36.3" y="393.5" width="10.700000000000003" height="1.02" fill="#fff1ec"/><rect x="36.3" y="394.5" width="10.700000000000003" height="1.02" fill="#fff1ec"/><rect x="36.3" y="395.5" width="10.700000000000003" height="1.02" fill="#fcd0c0"/><rect x="36.3" y="396.5" width="10.700000000000003" height="1.02" fill="#fff1ec"/><rect x="36.3" y="397.5" width="10.700000000000003" height="1.02" fill="#fff1ec"/><rect x="36.3" y="398.5" width="10.700000000000003" height="1.02" fill="#fcd0c0"/><rect x="36.3" y="399.5" width="10.700000000000003" height="1.02" fill="#fcd0c0"/><rect x="36.3" y="400.5" width="10.700000000000003" height="1.02" fill="#fff1ec"/><rect x="36.3" y="401.5" width="10.700000000000003" height="1.02" fill="#fff1ec"/><rect x="36.3" y="402.5" width="10.700000000000003" height="1.02" fill="#fcd0c0"/><rect x="36.3" y="403.5" width="10.700000000000003" height="1.02" fill="#fcd0c0"/><rect x="36.3" y="404.5" width="10.700000000000003" height="1.02" fill="#fcd0c0"/><rect x="36.3" y="405.5" width="10.700000000000003" height="1.02" fill="#fcd0c0"/><rect x="36.3" y="406.5" width="10.700000000000003" height="1.02" fill="#fff1ec"/><rect x="36.3" y="407.5" width="10.700000000000003" height="1.02" fill="#fcd0c0"/><rect x="36.3" y="408.5" width="10.700000000000003" height="1.02" fill="#fff1ec"/><rect x="36.3" y="409.5" width="10.700000000000003" height="1.02" fill="#fff1ec"/><rect x="36.3" y="410.5" width="10.700000000000003" height="1.02" fill="#fcd0c0"/><rect x="36.3" y="411.5" width="10.700000000000003" height="1.02" fill="#fff1ec"/><rect x="36.3" y="412.5" width="10.700000000000003" height="1.02" fill="#fff1ec"/><rect x="36.3" y="413.5" width="10.700000000000003" height="1.02" fill="#fff1ec"/><rect x="36.3" y="414.5" width="10.700000000000003" height="1.02" fill="#fcd0c0"/><rect x="36.3" y="415.5" width="10.700000000000003" height="1.02" fill="#fcd0c0"/><rect x="36.3" y="416.5" width="10.700000000000003" height="1.02" fill="#fcd0c0"/><rect x="36.3" y="417.5" width="10.700000000000003" height="1.02" fill="#fff1ec"/><rect x="36.3" y="418.5" width="10.700000000000003" height="1.02" fill="#fff1ec"/><rect x="36.3" y="419.5" width="10.700000000000003" height="0.52" fill="#fcd0c0"/><rect x="47" y="383.5" width="1.02" height="36.5" fill="#feeee8"/><rect x="48.0" y="383.5" width="1.02" height="36.5" fill="#fff0ea"/><rect x="49.0" y="383.5" width="1.02" height="36.5" fill="#fff1ec"/><rect x="50.0" y="383.5" width="1.02" height="36.5" fill="#fff1eb"/><rect x="51.0" y="383.5" width="1.02" height="36.5" fill="#feece5"/><rect x="52.0" y="383.5" width="1.02" height="36.5" fill="#ffefe9"/><rect x="53.0" y="383.5" width="1.02" height="36.5" fill="#feebe4"/><rect x="54.0" y="383.5" width="1.02" height="36.5" fill="#fff0ea"/><rect x="55.0" y="383.5" width="1.02" height="36.5" fill="#fff0ea"/><rect x="56.0" y="383.5" width="1.02" height="36.5" fill="#feeee8"/><rect x="57.0" y="383.5" width="1.02" height="36.5" fill="#fff0ea"/><rect x="58.0" y="383.5" width="1.02" height="36.5" fill="#feefe9"/><rect x="59.0" y="383.5" width="1.02" height="36.5" fill="#feebe4"/><rect x="60.0" y="383.5" width="1.02" height="36.5" fill="#feebe4"/><rect x="61.0" y="383.5" width="1.02" height="36.5" fill="#feece5"/><rect x="62.0" y="383.5" width="1.02" height="36.5" fill="#feede6"/><rect x="63.0" y="383.5" width="1.02" height="36.5" fill="#feebe4"/><rect x="64.0" y="383.5" width="1.02" height="36.5" fill="#feebe4"/><rect x="65.0" y="383.5" width="1.02" height="36.5" fill="#feeee7"/><rect x="66.0" y="383.5" width="1.02" height="36.5" fill="#feede6"/><rect x="67.0" y="383.5" width="1.02" height="36.5" fill="#fff1ec"/><rect x="68.0" y="383.5" width="1.02" height="36.5" fill="#feece6"/><rect x="69.0" y="383.5" width="1.02" height="36.5" fill="#feeee8"/><rect x="70.0" y="383.5" width="1.02" height="36.5" fill="#feece5"/><rect x="71.0" y="383.5" width="1.02" height="36.5" fill="#feede6"/><rect x="72.0" y="383.5" width="1.02" height="36.5" fill="#ffefe9"/><rect x="73.0" y="383.5" width="1.02" height="36.5" fill="#fff1ec"/><rect x="74.0" y="383.5" width="1.02" height="36.5" fill="#feebe4"/><rect x="75.0" y="383.5" width="1.02" height="36.5" fill="#fff1eb"/><rect x="76.0" y="383.5" width="1.02" height="36.5" fill="#feeee8"/><rect x="77.0" y="383.5" width="1.02" height="36.5" fill="#feefe9"/><rect x="78.0" y="383.5" width="1.02" height="36.5" fill="#ffefe9"/><rect x="79.0" y="383.5" width="1.02" height="36.5" fill="#feece6"/><rect x="80.0" y="383.5" width="1.02" height="36.5" fill="#feebe3"/><rect x="81.0" y="383.5" width="1.02" height="36.5" fill="#fff0ea"/><rect x="82.0" y="383.5" width="1.02" height="36.5" fill="#feede6"/><rect x="83.0" y="383.5" width="1.02" height="36.5" fill="#ffefe9"/><rect x="84.0" y="383.5" width="1.02" height="36.5" fill="#feeee7"/><rect x="85.0" y="383.5" width="1.02" height="36.5" fill="#feefe9"/><rect x="86.0" y="383.5" width="1.02" height="36.5" fill="#fff0eb"/><rect x="87.0" y="383.5" width="1.02" height="36.5" fill="#fff0eb"/><rect x="88.0" y="383.5" width="1.02" height="36.5" fill="#fff0ea"/><rect x="89.0" y="383.5" width="1.02" height="36.5" fill="#feebe4"/><rect x="90.0" y="383.5" width="1.02" height="36.5" fill="#feeee8"/><rect x="91.0" y="383.5" width="1.02" height="36.5" fill="#fff0ea"/><rect x="92.0" y="383.5" width="1.02" height="36.5" fill="#feebe4"/><rect x="93.0" y="383.5" width="1.02" height="36.5" fill="#feebe3"/><rect x="94.0" y="383.5" width="1.02" height="36.5" fill="#feeee8"/><rect x="95.0" y="383.5" width="1.02" height="36.5" fill="#fff0eb"/><rect x="96.0" y="383.5" width="1.02" height="36.5" fill="#fff0ea"/><rect x="97.0" y="383.5" width="1.02" height="36.5" fill="#fff1eb"/><rect x="98.0" y="383.5" width="1.02" height="36.5" fill="#feefe9"/><rect x="99.0" y="383.5" width="1.02" height="36.5" fill="#fff1eb"/><rect x="100.0" y="383.5" width="1.02" height="36.5" fill="#fff0ea"/><rect x="101.0" y="383.5" width="1.02" height="36.5" fill="#fff0ea"/><rect x="102.0" y="383.5" width="1.02" height="36.5" fill="#feeee7"/><rect x="103.0" y="383.5" width="1.02" height="36.5" fill="#feebe4"/><rect x="104.0" y="383.5" width="1.02" height="36.5" fill="#feece5"/><rect x="105.0" y="383.5" width="1.02" height="36.5" fill="#feefe8"/><rect x="106.0" y="383.5" width="1.02" height="36.5" fill="#feefe8"/><rect x="107.0" y="383.5" width="1.02" height="36.5" fill="#feeee7"/><rect x="108.0" y="383.5" width="1.02" height="36.5" fill="#feefe9"/><rect x="109.0" y="383.5" width="1.02" height="36.5" fill="#feefe9"/><rect x="110.0" y="383.5" width="1.02" height="36.5" fill="#fff1eb"/><rect x="111.0" y="383.5" width="1.02" height="36.5" fill="#ffefea"/><rect x="112.0" y="383.5" width="1.02" height="36.5" fill="#feebe4"/><rect x="113.0" y="383.5" width="1.02" height="36.5" fill="#fff1eb"/><rect x="114.0" y="383.5" width="1.02" height="36.5" fill="#feeee8"/><rect x="115.0" y="383.5" width="1.02" height="36.5" fill="#feede6"/><rect x="116.0" y="383.5" width="1.02" height="36.5" fill="#feece4"/><rect x="117.0" y="383.5" width="1.02" height="36.5" fill="#fff0ea"/><rect x="118.0" y="383.5" width="1.02" height="36.5" fill="#fff0ea"/><rect x="119.0" y="383.5" width="1.02" height="36.5" fill="#fff0ea"/><rect x="120.0" y="383.5" width="1.02" height="36.5" fill="#feefe8"/><rect x="121.0" y="383.5" width="1.02" height="36.5" fill="#feeee8"/><rect x="122.0" y="383.5" width="1.02" height="36.5" fill="#feebe4"/><rect x="123.0" y="383.5" width="1.02" height="36.5" fill="#feece5"/><rect x="124.0" y="383.5" width="1.02" height="36.5" fill="#feebe4"/><rect x="125.0" y="383.5" width="1.02" height="36.5" fill="#fff1ec"/><rect x="126.0" y="383.5" width="1.02" height="36.5" fill="#fff1ec"/><rect x="127.0" y="383.5" width="1.02" height="36.5" fill="#feede6"/><rect x="128.0" y="383.5" width="1.02" height="36.5" fill="#feebe4"/><rect x="129.0" y="383.5" width="1.02" height="36.5" fill="#feeee8"/><rect x="130.0" y="383.5" width="1.02" height="36.5" fill="#feede7"/><rect x="131.0" y="383.5" width="1.02" height="36.5" fill="#fff1ec"/><rect x="132.0" y="383.5" width="1.02" height="36.5" fill="#feefe9"/><rect x="133.0" y="383.5" width="1.02" height="36.5" fill="#feebe4"/><rect x="134.0" y="383.5" width="1.02" height="36.5" fill="#feece5"/><rect x="135.0" y="383.5" width="1.02" height="36.5" fill="#feece4"/><rect x="136.0" y="383.5" width="1.02" height="36.5" fill="#feebe3"/><rect x="137.0" y="383.5" width="1.02" height="36.5" fill="#fff0ea"/><rect x="138.0" y="383.5" width="1.02" height="36.5" fill="#fff1eb"/><rect x="139.0" y="383.5" width="1.02" height="36.5" fill="#fff0eb"/><rect x="140.0" y="383.5" width="1.02" height="36.5" fill="#feeee7"/><rect x="141.0" y="383.5" width="1.02" height="36.5" fill="#feede6"/><rect x="142.0" y="383.5" width="1.02" height="36.5" fill="#feebe4"/><rect x="143.0" y="383.5" width="1.02" height="36.5" fill="#feede6"/><rect x="144.0" y="383.5" width="1.02" height="36.5" fill="#feede6"/><rect x="145.0" y="383.5" width="1.02" height="36.5" fill="#feece5"/><rect x="146.0" y="383.5" width="1.02" height="36.5" fill="#feeee8"/><rect x="147.0" y="383.5" width="1.02" height="36.5" fill="#feeee7"/><rect x="148.0" y="383.5" width="1.02" height="36.5" fill="#fff1ec"/><rect x="149.0" y="383.5" width="1.02" height="36.5" fill="#feece5"/><rect x="150.0" y="383.5" width="1.02" height="36.5" fill="#fff0ea"/><rect x="151.0" y="383.5" width="1.02" height="36.5" fill="#feebe4"/><rect x="152.0" y="383.5" width="1.02" height="36.5" fill="#feede6"/><rect x="153.0" y="383.5" width="1.02" height="36.5" fill="#feefe9"/><rect x="154.0" y="383.5" width="1.02" height="36.5" fill="#fff1eb"/><rect x="155.0" y="383.5" width="1.02" height="36.5" fill="#fff0ea"/><rect x="156.0" y="383.5" width="1.02" height="36.5" fill="#feede6"/><rect x="157.0" y="383.5" width="1.02" height="36.5" fill="#feede6"/><rect x="158.0" y="383.5" width="1.02" height="36.5" fill="#fff1eb"/><rect x="159.0" y="383.5" width="1.02" height="36.5" fill="#fff1eb"/><rect x="160" y="383.5" width="1.02" height="36.5" fill="#feece5"/><rect x="161.0" y="383.5" width="1.02" height="36.5" fill="#feece5"/><rect x="162.0" y="383.5" width="1.02" height="36.5" fill="#feede7"/><rect x="163.0" y="383.5" width="1.02" height="36.5" fill="#feeee8"/><rect x="164.0" y="383.5" width="1.02" height="36.5" fill="#feece5"/><rect x="165.0" y="383.5" width="1.02" height="36.5" fill="#fff0ea"/><rect x="166.0" y="383.5" width="1.02" height="36.5" fill="#feeee7"/><rect x="167.0" y="383.5" width="1.02" height="36.5" fill="#feede6"/><rect x="168.0" y="383.5" width="1.02" height="36.5" fill="#fee9e1"/><rect x="169.0" y="383.5" width="1.02" height="36.5" fill="#feebe4"/><rect x="170.0" y="383.5" width="1.02" height="36.5" fill="#feeae2"/><rect x="171.0" y="383.5" width="1.02" height="36.5" fill="#feede6"/><rect x="172.0" y="383.5" width="1.02" height="36.5" fill="#feeee8"/><rect x="173.0" y="383.5" width="1.02" height="36.5" fill="#feeee8"/><rect x="174.0" y="383.5" width="1.02" height="36.5" fill="#fee9e1"/><rect x="175.0" y="383.5" width="1.02" height="36.5" fill="#feebe4"/><rect x="176.0" y="383.5" width="1.02" height="36.5" fill="#feeee7"/><rect x="177.0" y="383.5" width="1.02" height="36.5" fill="#fff0ea"/><rect x="178.0" y="383.5" width="1.02" height="36.5" fill="#feece6"/><rect x="179.0" y="383.5" width="1.02" height="36.5" fill="#feebe4"/><rect x="180.0" y="383.5" width="1.02" height="36.5" fill="#feede6"/><rect x="181.0" y="383.5" width="1.02" height="36.5" fill="#feeee8"/><rect x="182.0" y="383.5" width="1.02" height="36.5" fill="#feebe4"/><rect x="183.0" y="383.5" width="1.02" height="36.5" fill="#fee9e2"/><rect x="184.0" y="383.5" width="1.02" height="36.5" fill="#feeee8"/><rect x="185.0" y="383.5" width="1.02" height="36.5" fill="#fff0ea"/><rect x="186.0" y="383.5" width="1.02" height="36.5" fill="#feeee7"/><rect x="187.0" y="383.5" width="1.02" height="36.5" fill="#feede6"/><rect x="188.0" y="383.5" width="1.02" height="36.5" fill="#feebe4"/><rect x="189.0" y="383.5" width="1.02" height="36.5" fill="#feeee8"/><rect x="190.0" y="383.5" width="1.02" height="36.5" fill="#feeae3"/><rect x="191.0" y="383.5" width="1.02" height="36.5" fill="#feebe3"/><rect x="192.0" y="383.5" width="1.02" height="36.5" fill="#feece5"/><rect x="193.0" y="383.5" width="1.02" height="36.5" fill="#feeee8"/><rect x="194.0" y="383.5" width="1.02" height="36.5" fill="#fee9e1"/><rect x="195.0" y="383.5" width="1.02" height="36.5" fill="#feeee7"/><rect x="196.0" y="383.5" width="1.02" height="36.5" fill="#feeae3"/><rect x="197.0" y="383.5" width="1.02" height="36.5" fill="#feeee8"/><rect x="198.0" y="383.5" width="1.02" height="36.5" fill="#feeee8"/><rect x="199.0" y="383.5" width="1.02" height="36.5" fill="#feebe3"/><rect x="200" y="383.5" width="1.02" height="36.5" fill="#fee6dd"/><rect x="201.0" y="383.5" width="1.02" height="36.5" fill="#fde1d6"/><rect x="202.0" y="383.5" width="1.02" height="36.5" fill="#fee4db"/><rect x="203.0" y="383.5" width="1.02" height="36.5" fill="#fee7de"/><rect x="204.0" y="383.5" width="1.02" height="36.5" fill="#fee7de"/><rect x="205.0" y="383.5" width="1.02" height="36.5" fill="#fee5dc"/><rect x="206.0" y="383.5" width="1.02" height="36.5" fill="#fee3d9"/><rect x="207.0" y="383.5" width="1.02" height="36.5" fill="#fde1d7"/><rect x="208.0" y="383.5" width="1.02" height="36.5" fill="#fee7df"/><rect x="209.0" y="383.5" width="1.02" height="36.5" fill="#fee5dc"/><rect x="210.0" y="383.5" width="1.02" height="36.5" fill="#fee7de"/><rect x="211.0" y="383.5" width="1.02" height="36.5" fill="#fde1d6"/><rect x="212.0" y="383.5" width="1.02" height="36.5" fill="#fee7df"/><rect x="213.0" y="383.5" width="1.02" height="36.5" fill="#fee8e0"/><rect x="214.0" y="383.5" width="1.02" height="36.5" fill="#fee8e0"/><rect x="215.0" y="383.5" width="1.02" height="36.5" fill="#fee5dc"/><rect x="216.0" y="383.5" width="1.02" height="36.5" fill="#fde1d7"/><rect x="217.0" y="383.5" width="1.02" height="36.5" fill="#fde1d7"/><rect x="218.0" y="383.5" width="1.02" height="36.5" fill="#fee3d9"/><rect x="219.0" y="383.5" width="1.02" height="36.5" fill="#fde0d6"/><rect x="220" y="383.5" width="1.02" height="36.5" fill="#fddace"/><rect x="221.0" y="383.5" width="1.02" height="36.5" fill="#fddfd5"/><rect x="222.0" y="383.5" width="1.02" height="36.5" fill="#fde1d6"/><rect x="223.0" y="383.5" width="1.02" height="36.5" fill="#fddace"/><rect x="224.0" y="383.5" width="1.02" height="36.5" fill="#fddcd0"/><rect x="225.0" y="383.5" width="1.02" height="36.5" fill="#fee2d8"/><rect x="226.0" y="383.5" width="1.02" height="36.5" fill="#fdddd1"/><rect x="227.0" y="383.5" width="1.02" height="36.5" fill="#fddfd4"/><rect x="228.0" y="383.5" width="1.02" height="36.5" fill="#fddfd4"/><rect x="229.0" y="383.5" width="1.02" height="36.5" fill="#fddfd5"/><rect x="230.0" y="383.5" width="1.02" height="36.5" fill="#fde1d7"/><rect x="231.0" y="383.5" width="1.02" height="36.5" fill="#fee2d8"/><rect x="232.0" y="383.5" width="1.02" height="36.5" fill="#fde0d5"/><rect x="233.0" y="383.5" width="1.02" height="36.5" fill="#fddfd4"/><rect x="234.0" y="383.5" width="1.02" height="36.5" fill="#fddace"/><rect x="235" y="383.5" width="1.02" height="36.5" fill="#fee7df"/><rect x="236.0" y="383.5" width="1.02" height="36.5" fill="#fde1d6"/><rect x="237.0" y="383.5" width="1.02" height="36.5" fill="#fee7de"/><rect x="238.0" y="383.5" width="1.02" height="36.5" fill="#fee6dd"/><rect x="239.0" y="383.5" width="1.02" height="36.5" fill="#fde2d8"/><rect x="240.0" y="383.5" width="1.02" height="36.5" fill="#fde2d8"/><rect x="241.0" y="383.5" width="1.02" height="36.5" fill="#fee5dc"/><rect x="242.0" y="383.5" width="1.02" height="36.5" fill="#fee8e0"/><rect x="243.0" y="383.5" width="1.02" height="36.5" fill="#fee5db"/><rect x="244.0" y="383.5" width="1.02" height="36.5" fill="#fee5dc"/><rect x="245" y="383.5" width="1.02" height="36.5" fill="#fddace"/><rect x="246.0" y="383.5" width="1.02" height="36.5" fill="#fde1d6"/><rect x="247.0" y="383.5" width="1.02" height="36.5" fill="#fddfd4"/><rect x="248.0" y="383.5" width="1.02" height="36.5" fill="#fddbce"/><rect x="249.0" y="383.5" width="1.02" height="36.5" fill="#fee2d8"/><rect x="250.0" y="383.5" width="1.02" height="36.5" fill="#fddfd4"/><rect x="251.0" y="383.5" width="1.02" height="36.5" fill="#fddbcf"/><rect x="252.0" y="383.5" width="1.02" height="36.5" fill="#fddcd0"/><rect x="253.0" y="383.5" width="1.02" height="36.5" fill="#fde2d8"/><rect x="254.0" y="383.5" width="1.02" height="36.5" fill="#fee2d8"/><rect x="255.0" y="383.5" width="1.02" height="36.5" fill="#fde2d8"/><rect x="256.0" y="383.5" width="1.02" height="36.5" fill="#fddace"/><rect x="257.0" y="383.5" width="1.02" height="36.5" fill="#fde0d6"/><rect x="258.0" y="383.5" width="1.02" height="36.5" fill="#fddcd0"/><rect x="259.0" y="383.5" width="1.02" height="36.5" fill="#fddbce"/><rect x="260" y="383.5" width="1.02" height="36.5" fill="#fee6dd"/><rect x="261.0" y="383.5" width="1.02" height="36.5" fill="#fee6dd"/><rect x="262.0" y="383.5" width="1.02" height="36.5" fill="#fde1d6"/><rect x="263.0" y="383.5" width="1.02" height="36.5" fill="#fee3da"/><rect x="264.0" y="383.5" width="1.02" height="36.5" fill="#fee6de"/><rect x="265.0" y="383.5" width="1.02" height="36.5" fill="#fee3d9"/><rect x="266.0" y="383.5" width="1.02" height="36.5" fill="#fee6dd"/><rect x="267.0" y="383.5" width="1.02" height="36.5" fill="#fee6dd"/><rect x="268.0" y="383.5" width="1.02" height="36.5" fill="#fee8e0"/><rect x="269.0" y="383.5" width="1.02" height="36.5" fill="#fee2d9"/><rect x="270.0" y="383.5" width="1.02" height="36.5" fill="#fde1d7"/><rect x="271.0" y="383.5" width="1.02" height="36.5" fill="#fee3da"/><rect x="272.0" y="383.5" width="1.02" height="36.5" fill="#fde1d7"/><rect x="273.0" y="383.5" width="1.02" height="36.5" fill="#fee8e0"/><rect x="274.0" y="383.5" width="1.02" height="36.5" fill="#fee6de"/><rect x="275.0" y="383.5" width="1.02" height="36.5" fill="#fee5db"/><rect x="276.0" y="383.5" width="1.02" height="36.5" fill="#fde1d6"/><rect x="277.0" y="383.5" width="1.02" height="36.5" fill="#fde1d6"/><rect x="278.0" y="383.5" width="1.02" height="36.5" fill="#fee5dc"/><rect x="279.0" y="383.5" width="1.02" height="36.5" fill="#fee6de"/><rect x="280.0" y="383.5" width="1.02" height="36.5" fill="#fee5dc"/><rect x="281.0" y="383.5" width="1.02" height="36.5" fill="#fee4db"/><rect x="282.0" y="383.5" width="1.02" height="36.5" fill="#fde1d7"/><rect x="283.0" y="383.5" width="1.02" height="36.5" fill="#fee7de"/><rect x="284.0" y="383.5" width="1.02" height="36.5" fill="#fee2d8"/><rect x="285.0" y="383.5" width="1.02" height="36.5" fill="#fee3d9"/><rect x="286.0" y="383.5" width="1.02" height="36.5" fill="#fde2d8"/><rect x="287.0" y="383.5" width="1.02" height="36.5" fill="#fee2d8"/><rect x="288.0" y="383.5" width="1.02" height="36.5" fill="#fee4da"/><rect x="289.0" y="383.5" width="1.02" height="36.5" fill="#fee6dd"/><rect x="290.0" y="383.5" width="1.02" height="36.5" fill="#fee6dd"/><rect x="291.0" y="383.5" width="1.02" height="36.5" fill="#fee5dd"/><rect x="292.0" y="383.5" width="1.02" height="36.5" fill="#fee2d8"/><rect x="293.0" y="383.5" width="1.02" height="36.5" fill="#fee8df"/><rect x="294.0" y="383.5" width="1.02" height="36.5" fill="#fee7de"/><rect x="295.0" y="383.5" width="1.02" height="36.5" fill="#fee2d9"/><rect x="296" y="383.5" width="1.02" height="36.5" fill="#fabaa9"/><rect x="297.0" y="383.5" width="1.02" height="36.5" fill="#fabdad"/><rect x="298.0" y="383.5" width="1.02" height="36.5" fill="#fbbead"/><rect x="299.0" y="383.5" width="1.02" height="36.5" fill="#fab4a4"/><rect x="300.0" y="383.5" width="1.02" height="36.5" fill="#fab8a8"/><rect x="301.0" y="383.5" width="1.02" height="36.5" fill="#f9ad9c"/><rect x="302.0" y="383.5" width="1.02" height="36.5" fill="#f9af9e"/><rect x="303.0" y="383.5" width="1.02" height="36.5" fill="#f9ad9c"/><rect x="304.0" y="383.5" width="1.02" height="36.5" fill="#fabaa9"/><rect x="305.0" y="383.5" width="1.02" height="36.5" fill="#fabdac"/><rect x="306.0" y="383.5" width="1.02" height="36.5" fill="#fabdac"/><rect x="307.0" y="383.5" width="1.02" height="36.5" fill="#fab5a5"/><rect x="308.0" y="383.5" width="1.02" height="36.5" fill="#f9b2a1"/><rect x="309.0" y="383.5" width="1.02" height="36.5" fill="#fab6a6"/><rect x="310.0" y="383.5" width="1.02" height="36.5" fill="#fabaaa"/><rect x="311.0" y="383.5" width="1.02" height="36.5" fill="#fab7a6"/><rect x="312.0" y="383.5" width="1.02" height="36.5" fill="#fab3a3"/><rect x="313.0" y="383.5" width="1.02" height="36.5" fill="#fab2a2"/><rect x="314.0" y="383.5" width="1.02" height="36.5" fill="#f9b1a0"/><rect x="315.0" y="383.5" width="1.02" height="36.5" fill="#f9af9f"/><rect x="316.0" y="383.5" width="1.02" height="36.5" fill="#fab2a2"/><rect x="317.0" y="383.5" width="1.02" height="36.5" fill="#fabcac"/><rect x="318.0" y="383.5" width="1.02" height="36.5" fill="#f9af9f"/><rect x="319.0" y="383.5" width="1.02" height="36.5" fill="#fab9a9"/><rect x="320.0" y="383.5" width="1.02" height="36.5" fill="#fab4a4"/><rect x="321.0" y="383.5" width="1.02" height="36.5" fill="#fab8a7"/><rect x="322.0" y="383.5" width="1.02" height="36.5" fill="#f9b1a1"/><rect x="323.0" y="383.5" width="1.02" height="36.5" fill="#fabbaa"/><rect x="324.0" y="383.5" width="1.02" height="36.5" fill="#fabaa9"/><rect x="325.0" y="383.5" width="1.02" height="36.5" fill="#fabaaa"/><rect x="326.0" y="383.5" width="1.02" height="36.5" fill="#fabcab"/><rect x="327.0" y="383.5" width="1.02" height="36.5" fill="#f9af9e"/><rect x="328.0" y="383.5" width="1.02" height="36.5" fill="#fab4a4"/><rect x="329.0" y="383.5" width="1.02" height="36.5" fill="#fab8a8"/><rect x="330.0" y="383.5" width="1.02" height="36.5" fill="#fab7a7"/><rect x="331.0" y="383.5" width="1.02" height="36.5" fill="#f9ad9c"/><rect x="332.0" y="383.5" width="1.02" height="36.5" fill="#fab5a5"/><rect x="333.0" y="383.5" width="1.02" height="36.5" fill="#fabaaa"/><rect x="334.0" y="383.5" width="1.02" height="36.5" fill="#f9b09f"/><rect x="335" y="383.5" width="1.02" height="36.5" fill="#fcd3c4"/><rect x="336.0" y="383.5" width="1.02" height="36.5" fill="#fcd0c0"/><rect x="337.0" y="383.5" width="1.02" height="36.5" fill="#fdd8cb"/><rect x="338.0" y="383.5" width="1.02" height="36.5" fill="#fcd5c7"/><rect x="339.0" y="383.5" width="1.02" height="36.5" fill="#fcd1c2"/><rect x="340.0" y="383.5" width="1.02" height="36.5" fill="#fcd1c2"/><rect x="341.0" y="383.5" width="1.02" height="36.5" fill="#fcd0c1"/><rect x="342.0" y="383.5" width="1.02" height="36.5" fill="#fdd9cc"/><rect x="343.0" y="383.5" width="1.02" height="36.5" fill="#fdd6c9"/><rect x="344.0" y="383.5" width="1.02" height="36.5" fill="#fdd8cb"/><rect x="345.0" y="383.5" width="1.02" height="36.5" fill="#fdd7ca"/><rect x="346.0" y="383.5" width="1.02" height="36.5" fill="#fcd0c0"/><rect x="347.0" y="383.5" width="1.02" height="36.5" fill="#fcd4c5"/><rect x="348.0" y="383.5" width="1.02" height="36.5" fill="#fcd0c1"/><rect x="349.0" y="383.5" width="1.02" height="36.5" fill="#fdd6c8"/><rect x="350.0" y="383.5" width="1.02" height="36.5" fill="#fcd1c2"/><rect x="351.0" y="383.5" width="1.02" height="36.5" fill="#fdd5c7"/><rect x="352.0" y="383.5" width="1.02" height="36.5" fill="#fdd7c9"/><rect x="353.0" y="383.5" width="1.02" height="36.5" fill="#fcd2c3"/><rect x="354.0" y="383.5" width="1.02" height="36.5" fill="#fcd0c1"/><rect x="355.0" y="383.5" width="1.02" height="36.5" fill="#fdd8cb"/><rect x="356.0" y="383.5" width="1.02" height="36.5" fill="#fcd3c5"/><rect x="357.0" y="383.5" width="1.02" height="36.5" fill="#fcd3c5"/><rect x="358.0" y="383.5" width="1.02" height="36.5" fill="#fdd7ca"/><rect x="359.0" y="383.5" width="1.02" height="36.5" fill="#fdd6c8"/><rect x="360.0" y="383.5" width="1.02" height="36.5" fill="#fdd8cb"/><rect x="361.0" y="383.5" width="1.02" height="36.5" fill="#fdd7ca"/><rect x="362.0" y="383.5" width="1.02" height="36.5" fill="#fdd7c9"/><rect x="363.0" y="383.5" width="1.02" height="36.5" fill="#fcd3c5"/><rect x="364.0" y="383.5" width="1.02" height="36.5" fill="#fcd3c4"/><rect x="365" y="383.5" width="1.02" height="36.5" fill="#fddace"/><rect x="366.0" y="383.5" width="1.02" height="36.5" fill="#fddcd0"/><rect x="367.0" y="383.5" width="1.02" height="36.5" fill="#fdd9cd"/><rect x="368.0" y="383.5" width="1.02" height="36.5" fill="#fdd6c8"/><rect x="369.0" y="383.5" width="1.02" height="36.5" fill="#fddbce"/><rect x="370.0" y="383.5" width="1.02" height="36.5" fill="#fdd9cd"/><rect x="371.0" y="383.5" width="1.02" height="36.5" fill="#fddace"/><rect x="372.0" y="383.5" width="1.02" height="36.5" fill="#fdd5c7"/><rect x="373.0" y="383.5" width="1.02" height="36.5" fill="#fdd7ca"/><rect x="374.0" y="383.5" width="1.02" height="36.5" fill="#fddcd0"/><rect x="375.0" y="383.5" width="1.02" height="36.5" fill="#fddbcf"/><rect x="376.0" y="383.5" width="1.02" height="36.5" fill="#fdd9cc"/><rect x="377.0" y="383.5" width="1.02" height="36.5" fill="#fdd7ca"/><rect x="378.0" y="383.5" width="1.02" height="36.5" fill="#fdd6c9"/><rect x="379.0" y="383.5" width="1.02" height="36.5" fill="#fddbcf"/><rect x="380.0" y="383.5" width="1.02" height="36.5" fill="#fddbcf"/><rect x="381.0" y="383.5" width="1.02" height="36.5" fill="#fdd6c8"/><rect x="382.0" y="383.5" width="1.02" height="36.5" fill="#fdd8cc"/><rect x="383.0" y="383.5" width="1.02" height="36.5" fill="#fddacd"/><rect x="384.0" y="383.5" width="1.02" height="36.5" fill="#fdd9cd"/><rect x="385" y="383.5" width="1.02" height="36.5" fill="#fddace"/><rect x="386.0" y="383.5" width="1.02" height="36.5" fill="#fde0d5"/><rect x="387.0" y="383.5" width="1.02" height="36.5" fill="#fdddd2"/><rect x="388.0" y="383.5" width="1.02" height="36.5" fill="#fddfd4"/><rect x="389.0" y="383.5" width="1.02" height="36.5" fill="#fddfd4"/><rect x="390.0" y="383.5" width="1.02" height="36.5" fill="#fddbcf"/><rect x="391.0" y="383.5" width="1.02" height="36.5" fill="#fddacd"/><rect x="392" y="383.5" width="15" height="1.02" fill="#ea382e"/><rect x="392" y="384.5" width="15" height="1.02" fill="#ea382e"/><rect x="392" y="385.5" width="15" height="1.02" fill="#fee4db"/><rect x="392" y="386.5" width="15" height="1.02" fill="#ea382e"/><rect x="392" y="387.5" width="15" height="1.02" fill="#ea382e"/><rect x="392" y="388.5" width="15" height="1.02" fill="#fee4db"/><rect x="392" y="389.5" width="15" height="1.02" fill="#ea382e"/><rect x="392" y="390.5" width="15" height="1.02" fill="#fee4db"/><rect x="392" y="391.5" width="15" height="1.02" fill="#ea382e"/><rect x="392" y="392.5" width="15" height="1.02" fill="#fee4db"/><rect x="392" y="393.5" width="15" height="1.02" fill="#fee4db"/><rect x="392" y="394.5" width="15" height="1.02" fill="#ea382e"/><rect x="392" y="395.5" width="15" height="1.02" fill="#ea382e"/><rect x="392" y="396.5" width="15" height="1.02" fill="#fee4db"/><rect x="392" y="397.5" width="15" height="1.02" fill="#fee4db"/><rect x="392" y="398.5" width="15" height="1.02" fill="#fee4db"/><rect x="392" y="399.5" width="15" height="1.02" fill="#ea382e"/><rect x="392" y="400.5" width="15" height="1.02" fill="#fee4db"/><rect x="392" y="401.5" width="15" height="1.02" fill="#ea382e"/><rect x="392" y="402.5" width="15" height="1.02" fill="#fee4db"/><rect x="392" y="403.5" width="15" height="1.02" fill="#ea382e"/><rect x="392" y="404.5" width="15" height="1.02" fill="#ea382e"/><rect x="392" y="405.5" width="15" height="1.02" fill="#fee4db"/><rect x="392" y="406.5" width="15" height="1.02" fill="#fee4db"/><rect x="392" y="407.5" width="15" height="1.02" fill="#ea382e"/><rect x="392" y="408.5" width="15" height="1.02" fill="#fee4db"/><rect x="392" y="409.5" width="15" height="1.02" fill="#fee4db"/><rect x="392" y="410.5" width="15" height="1.02" fill="#fee4db"/><rect x="392" y="411.5" width="15" height="1.02" fill="#ea382e"/><rect x="392" y="412.5" width="15" height="1.02" fill="#ea382e"/><rect x="392" y="413.5" width="15" height="1.02" fill="#fee4db"/><rect x="392" y="414.5" width="15" height="1.02" fill="#fee4db"/><rect x="392" y="415.5" width="15" height="1.02" fill="#fee4db"/><rect x="392" y="416.5" width="15" height="1.02" fill="#ea382e"/><rect x="392" y="417.5" width="15" height="1.02" fill="#fee4db"/><rect x="392" y="418.5" width="15" height="1.02" fill="#ea382e"/><rect x="392" y="419.5" width="15" height="0.52" fill="#fee4db"/><rect x="407" y="383.5" width="1.02" height="36.5" fill="#f26351"/><rect x="408.0" y="383.5" width="1.02" height="36.5" fill="#f15d4b"/><rect x="409.0" y="383.5" width="1.02" height="36.5" fill="#f3705e"/><rect x="410.0" y="383.5" width="1.02" height="36.5" fill="#f15e4c"/><rect x="411.0" y="383.5" width="1.02" height="36.5" fill="#f36e5c"/><rect x="412.0" y="383.5" width="1.02" height="36.5" fill="#f26957"/><rect x="413.0" y="383.5" width="1.02" height="36.5" fill="#f15c4a"/><rect x="414.0" y="383.5" width="1.02" height="36.5" fill="#f15d4b"/><rect x="415.0" y="383.5" width="1.02" height="36.5" fill="#f36f5d"/><rect x="416.0" y="383.5" width="1.02" height="36.5" fill="#f36e5c"/><rect x="417.0" y="383.5" width="1.02" height="36.5" fill="#f26957"/><rect x="418.0" y="383.5" width="1.02" height="36.5" fill="#f26554"/><rect x="419.0" y="383.5" width="1.02" height="36.5" fill="#f36958"/><rect x="420.0" y="383.5" width="1.02" height="36.5" fill="#f3715f"/><rect x="421.0" y="383.5" width="1.02" height="36.5" fill="#f36d5c"/><rect x="422.0" y="383.5" width="1.02" height="36.5" fill="#f2604e"/><rect x="423.0" y="383.5" width="1.02" height="36.5" fill="#f15b49"/><rect x="424.0" y="383.5" width="1.02" height="36.5" fill="#f47362"/><rect x="425.0" y="383.5" width="1.02" height="36.5" fill="#f26452"/><rect x="426.0" y="383.5" width="1.02" height="36.5" fill="#f15f4d"/><rect x="427.0" y="383.5" width="1.02" height="36.5" fill="#f47362"/><rect x="428.0" y="383.5" width="1.02" height="36.5" fill="#f15c4a"/><rect x="429.0" y="383.5" width="1.02" height="36.5" fill="#f3715f"/><rect x="430.0" y="383.5" width="1.02" height="36.5" fill="#f26351"/><rect x="431.0" y="383.5" width="1.02" height="36.5" fill="#f26553"/><rect x="432.0" y="383.5" width="1.02" height="36.5" fill="#f26250"/><rect x="433.0" y="383.5" width="1.02" height="36.5" fill="#f36c5a"/><rect x="434.0" y="383.5" width="1.02" height="36.5" fill="#f26857"/><rect x="435" y="383.5" width="1.02" height="36.5" fill="#ec4134"/><rect x="436.0" y="383.5" width="1.02" height="36.5" fill="#ed4638"/><rect x="437.0" y="383.5" width="1.02" height="36.5" fill="#ec3f33"/><rect x="438" y="383.5" width="1.02" height="36.5" fill="#fab6a6"/><rect x="439.0" y="383.5" width="1.02" height="36.5" fill="#fab6a6"/><rect x="440.0" y="383.5" width="1.02" height="36.5" fill="#fbbeae"/><rect x="441.0" y="383.5" width="1.02" height="36.5" fill="#fab3a3"/><rect x="442.0" y="383.5" width="1.02" height="36.5" fill="#fab6a5"/><rect x="443.0" y="383.5" width="1.02" height="36.5" fill="#fabaaa"/><rect x="444.0" y="383.5" width="1.02" height="36.5" fill="#f9b1a0"/><rect x="445.0" y="383.5" width="1.02" height="36.5" fill="#f9b0a0"/><rect x="446.0" y="383.5" width="1.02" height="36.5" fill="#fab6a6"/><rect x="447.0" y="383.5" width="1.02" height="36.5" fill="#fabbab"/><rect x="448.0" y="383.5" width="1.02" height="36.5" fill="#fab6a5"/><rect x="449.0" y="383.5" width="1.02" height="36.5" fill="#fabcac"/><rect x="450.0" y="383.5" width="1.02" height="36.5" fill="#fabcac"/><rect x="451.0" y="383.5" width="1.02" height="36.5" fill="#fab7a6"/><rect x="452.0" y="383.5" width="1.02" height="36.5" fill="#fabdac"/><rect x="453.0" y="383.5" width="1.02" height="36.5" fill="#fab6a6"/><rect x="454.0" y="383.5" width="1.02" height="36.5" fill="#fab5a5"/><rect x="455.0" y="383.5" width="1.02" height="36.5" fill="#fbbead"/><rect x="456.0" y="383.5" width="1.02" height="36.5" fill="#fab3a2"/><rect x="457.0" y="383.5" width="1.02" height="36.5" fill="#fabdac"/><rect x="458.0" y="383.5" width="1.02" height="36.5" fill="#f9b1a1"/><rect x="459.0" y="383.5" width="1.02" height="36.5" fill="#f9b0a0"/><rect x="460.0" y="383.5" width="1.02" height="36.5" fill="#fab5a5"/><rect x="461.0" y="383.5" width="1.02" height="36.5" fill="#fbbdad"/><rect x="462.0" y="383.5" width="1.02" height="36.5" fill="#fab5a5"/><rect x="463.0" y="383.5" width="1.02" height="36.5" fill="#fab8a7"/><rect x="464.0" y="383.5" width="1.02" height="36.5" fill="#f9ad9d"/><rect x="465.0" y="383.5" width="1.02" height="36.5" fill="#fabcab"/><rect x="466.0" y="383.5" width="1.02" height="36.5" fill="#f9af9e"/><rect x="467.0" y="383.5" width="1.02" height="36.5" fill="#f9ad9c"/><rect x="468.0" y="383.5" width="1.02" height="36.5" fill="#f9b1a1"/><rect x="469.0" y="383.5" width="1.02" height="36.5" fill="#f9b09f"/><rect x="470.0" y="383.5" width="1.02" height="36.5" fill="#fabbaa"/><rect x="471.0" y="383.5" width="1.02" height="36.5" fill="#f9ad9c"/><rect x="472.0" y="383.5" width="1.02" height="36.5" fill="#fab6a5"/><rect x="473.0" y="383.5" width="1.02" height="36.5" fill="#f9ad9d"/><rect x="474.0" y="383.5" width="1.02" height="36.5" fill="#f9ae9d"/><rect x="475.0" y="383.5" width="1.02" height="36.5" fill="#fabbab"/><rect x="476.0" y="383.5" width="1.02" height="36.5" fill="#f9b0a0"/><rect x="477.0" y="383.5" width="1.02" height="36.5" fill="#f9ae9d"/><rect x="478.0" y="383.5" width="1.02" height="36.5" fill="#fabdad"/><rect x="479.0" y="383.5" width="1.02" height="36.5" fill="#fab8a8"/><rect x="480.0" y="383.5" width="1.02" height="36.5" fill="#f9b1a0"/><rect x="481.0" y="383.5" width="1.02" height="36.5" fill="#fabbab"/><rect x="482.0" y="383.5" width="1.02" height="36.5" fill="#f9ae9e"/><rect x="483.0" y="383.5" width="1.02" height="36.5" fill="#fab9a9"/><rect x="484.0" y="383.5" width="1.02" height="36.5" fill="#f9b09f"/><rect x="485" y="383.5" width="1.02" height="36.5" fill="#fcd0c1"/><rect x="486.0" y="383.5" width="1.02" height="36.5" fill="#fcccbc"/><rect x="487.0" y="383.5" width="1.02" height="36.5" fill="#fbc5b5"/><rect x="488.0" y="383.5" width="1.02" height="36.5" fill="#fcd0c0"/><rect x="489.0" y="383.5" width="1.02" height="36.5" fill="#fccfbf"/><rect x="490" y="383.5" width="1.02" height="36.5" fill="#fbbeae"/><rect x="491.0" y="383.5" width="1.02" height="36.5" fill="#fbc1b1"/><rect x="492.0" y="383.5" width="1.02" height="36.5" fill="#fbc6b6"/><rect x="493.0" y="383.5" width="1.02" height="36.5" fill="#fbc4b3"/><rect x="494.0" y="383.5" width="1.02" height="36.5" fill="#fbc4b4"/><rect x="495.0" y="383.5" width="1.02" height="36.5" fill="#fab7a7"/><rect x="496.0" y="383.5" width="1.02" height="36.5" fill="#fabbab"/><rect x="497.0" y="383.5" width="1.02" height="36.5" fill="#fab8a7"/><rect x="498.0" y="383.5" width="1.02" height="36.5" fill="#fbc4b4"/><rect x="499.0" y="383.5" width="1.02" height="36.5" fill="#fabaa9"/><rect x="500.0" y="383.5" width="1.02" height="36.5" fill="#fbc5b5"/><rect x="501.0" y="383.5" width="1.02" height="36.5" fill="#fbbeae"/><rect x="502.0" y="383.5" width="1.02" height="36.5" fill="#fabcac"/><rect x="503.0" y="383.5" width="1.02" height="36.5" fill="#fbc1b0"/><rect x="504.0" y="383.5" width="1.02" height="36.5" fill="#fab8a8"/><rect x="505.0" y="383.5" width="1.02" height="36.5" fill="#fbbdad"/><rect x="506.0" y="383.5" width="1.02" height="36.5" fill="#fabdad"/><rect x="507.0" y="383.5" width="1.02" height="36.5" fill="#fab8a8"/><rect x="508.0" y="383.5" width="1.02" height="36.5" fill="#fbc5b5"/><rect x="509.0" y="383.5" width="1.02" height="36.5" fill="#fab6a6"/><rect x="510.0" y="383.5" width="1.02" height="36.5" fill="#fabcac"/><rect x="511.0" y="383.5" width="1.02" height="36.5" fill="#fbc0b0"/><rect x="512.0" y="383.5" width="1.02" height="36.5" fill="#fab9a9"/><rect x="513.0" y="383.5" width="1.02" height="36.5" fill="#fbc2b2"/><rect x="514.0" y="383.5" width="1.02" height="36.5" fill="#fab6a6"/><rect x="515.0" y="383.5" width="1.02" height="36.5" fill="#fabdad"/><rect x="516.0" y="383.5" width="1.02" height="36.5" fill="#fbc1b0"/><rect x="517.0" y="383.5" width="1.02" height="36.5" fill="#fabaaa"/><rect x="518.0" y="383.5" width="1.02" height="36.5" fill="#fbbfaf"/><rect x="519.0" y="383.5" width="1.02" height="36.5" fill="#fbc4b4"/><rect x="520.0" y="383.5" width="1.02" height="36.5" fill="#fabaaa"/><rect x="521.0" y="383.5" width="1.02" height="36.5" fill="#fbc6b6"/><rect x="522.0" y="383.5" width="1.02" height="36.5" fill="#fab9a9"/><rect x="523.0" y="383.5" width="1.02" height="36.5" fill="#fbc2b2"/><rect x="524.0" y="383.5" width="1.02" height="36.5" fill="#fabcac"/><rect x="525.0" y="383.5" width="1.02" height="36.5" fill="#fab6a6"/><rect x="526.0" y="383.5" width="1.02" height="36.5" fill="#fabdad"/><rect x="527.0" y="383.5" width="1.02" height="36.5" fill="#fabcab"/><rect x="528.0" y="383.5" width="1.02" height="36.5" fill="#fbc1b1"/><rect x="529.0" y="383.5" width="1.02" height="36.5" fill="#fbc7b6"/><rect x="530.0" y="383.5" width="1.02" height="36.5" fill="#fbc6b6"/><rect x="531.0" y="383.5" width="1.02" height="36.5" fill="#fbc4b4"/><rect x="532.0" y="383.5" width="1.02" height="36.5" fill="#fabcac"/><rect x="533.0" y="383.5" width="1.02" height="36.5" fill="#fbbfaf"/><rect x="534.0" y="383.5" width="1.02" height="36.5" fill="#fbbeae"/><rect x="535.0" y="383.5" width="1.02" height="36.5" fill="#fab8a7"/><rect x="36.3" y="420" width="1.02" height="37" fill="#fff2ed"/><rect x="37.3" y="420" width="1.02" height="37" fill="#fff1ec"/><rect x="38.3" y="420" width="1.02" height="37" fill="#feefe8"/><rect x="39.3" y="420" width="1.02" height="37" fill="#fff3ee"/><rect x="40.3" y="420" width="1.02" height="37" fill="#fff3ee"/><rect x="41.3" y="420" width="1.02" height="37" fill="#fff1eb"/><rect x="42.3" y="420" width="1.02" height="37" fill="#fff2ed"/><rect x="43.3" y="420" width="1.02" height="37" fill="#fff1eb"/><rect x="44.3" y="420" width="1.02" height="37" fill="#fff1ec"/><rect x="45.3" y="420" width="1.02" height="37" fill="#feefe9"/><rect x="46.3" y="420" width="1.02" height="37" fill="#feefe9"/><rect x="47.3" y="420" width="1.02" height="37" fill="#fff2ec"/><rect x="48.3" y="420" width="1.02" height="37" fill="#feefe9"/><rect x="49.3" y="420" width="1.02" height="37" fill="#fff0ea"/><rect x="50.3" y="420" width="1.02" height="37" fill="#fff2ed"/><rect x="51.3" y="420" width="1.02" height="37" fill="#feede6"/><rect x="52.3" y="420" width="1.02" height="37" fill="#fff1ec"/><rect x="53.3" y="420" width="1.02" height="37" fill="#fff2ed"/><rect x="54.3" y="420" width="1.02" height="37" fill="#fff2ed"/><rect x="55.3" y="420" width="1.02" height="37" fill="#feefe9"/><rect x="56.3" y="420" width="1.02" height="37" fill="#feede7"/><rect x="57.3" y="420" width="1.02" height="37" fill="#feeee7"/><rect x="58.3" y="420" width="1.02" height="37" fill="#fff0eb"/><rect x="59.3" y="420" width="1.02" height="37" fill="#fff1ec"/><rect x="60.3" y="420" width="1.02" height="37" fill="#fff3ee"/><rect x="61.3" y="420" width="1.02" height="37" fill="#feefe8"/><rect x="62.3" y="420" width="1.02" height="37" fill="#feefe9"/><rect x="63.3" y="420" width="1.02" height="37" fill="#fff1eb"/><rect x="64.3" y="420" width="1.02" height="37" fill="#feefe8"/><rect x="65.3" y="420" width="1.02" height="37" fill="#fff0ea"/><rect x="66.3" y="420" width="1.02" height="37" fill="#feede6"/><rect x="67.3" y="420" width="1.02" height="37" fill="#feeee8"/><rect x="68.3" y="420" width="1.02" height="37" fill="#fff1ec"/><rect x="69.3" y="420" width="1.02" height="37" fill="#feede6"/><rect x="70.3" y="420" width="1.02" height="37" fill="#fff3ee"/><rect x="71.3" y="420" width="1.02" height="37" fill="#ffefe9"/><rect x="72.3" y="420" width="1.02" height="37" fill="#fff0ea"/><rect x="73.3" y="420" width="1.02" height="37" fill="#fff1ec"/><rect x="74.3" y="420" width="1.02" height="37" fill="#fff2ed"/><rect x="75.3" y="420" width="1.02" height="37" fill="#feeee7"/><rect x="76.3" y="420" width="1.02" height="37" fill="#fff3ee"/><rect x="77.3" y="420" width="1.02" height="37" fill="#feefe9"/><rect x="78.3" y="420" width="1.02" height="37" fill="#feede6"/><rect x="79.3" y="420" width="1.02" height="37" fill="#fff2ed"/><rect x="80.3" y="420" width="1.02" height="37" fill="#fff2ec"/><rect x="81.3" y="420" width="1.02" height="37" fill="#feefe9"/><rect x="82.3" y="420" width="1.02" height="37" fill="#fff0ea"/><rect x="83.3" y="420" width="1.02" height="37" fill="#feefe8"/><rect x="84.3" y="420" width="1.02" height="37" fill="#feeee7"/><rect x="85.3" y="420" width="1.02" height="37" fill="#fff2ec"/><rect x="86.3" y="420" width="1.02" height="37" fill="#fff1eb"/><rect x="87.3" y="420" width="1.02" height="37" fill="#fff1eb"/><rect x="88.3" y="420" width="1.02" height="37" fill="#fff3ee"/><rect x="89.3" y="420" width="1.02" height="37" fill="#feede6"/><rect x="90.3" y="420" width="1.02" height="37" fill="#feeee7"/><rect x="91.3" y="420" width="1.02" height="37" fill="#feeee8"/><rect x="92.3" y="420" width="1.02" height="37" fill="#fff3ee"/><rect x="93.3" y="420" width="1.02" height="37" fill="#feede7"/><rect x="94.3" y="420" width="1.02" height="37" fill="#feeee8"/><rect x="95.3" y="420" width="1.02" height="37" fill="#fff0ea"/><rect x="96.3" y="420" width="1.02" height="37" fill="#feeee8"/><rect x="97.3" y="420" width="1.02" height="37" fill="#fff0ea"/><rect x="98.3" y="420" width="1.02" height="37" fill="#fff1ec"/><rect x="99.3" y="420" width="1.02" height="37" fill="#fff2ed"/><rect x="100.3" y="420" width="1.02" height="37" fill="#fff1ec"/><rect x="101.3" y="420" width="1.02" height="37" fill="#fff3ee"/><rect x="102.3" y="420" width="1.02" height="37" fill="#fff1eb"/><rect x="103.3" y="420" width="1.02" height="37" fill="#feeee8"/><rect x="104.3" y="420" width="1.02" height="37" fill="#feeee8"/><rect x="105.3" y="420" width="1.02" height="37" fill="#feede7"/><rect x="106.3" y="420" width="1.02" height="37" fill="#feeee8"/><rect x="107.3" y="420" width="1.02" height="37" fill="#fff1ec"/><rect x="108.3" y="420" width="1.02" height="37" fill="#feefe9"/><rect x="109.3" y="420" width="1.02" height="37" fill="#fff0ea"/><rect x="110.3" y="420" width="1.02" height="37" fill="#feeee7"/><rect x="111.3" y="420" width="1.02" height="37" fill="#ffefe9"/><rect x="112.3" y="420" width="1.02" height="37" fill="#fff1ec"/><rect x="113.3" y="420" width="1.02" height="37" fill="#feefe8"/><rect x="114.3" y="420" width="1.02" height="37" fill="#feede6"/><rect x="115.3" y="420" width="1.02" height="37" fill="#fff1ec"/><rect x="116.3" y="420" width="1.02" height="37" fill="#feede6"/><rect x="117.3" y="420" width="1.02" height="37" fill="#fff3ee"/><rect x="118.3" y="420" width="1.02" height="37" fill="#fff1ec"/><rect x="119.3" y="420" width="1.02" height="37" fill="#fff1ec"/><rect x="120.3" y="420" width="1.02" height="37" fill="#feeee8"/><rect x="121.3" y="420" width="1.02" height="37" fill="#feede6"/><rect x="122.3" y="420" width="1.02" height="37" fill="#feeee8"/><rect x="123.3" y="420" width="1.02" height="37" fill="#fff1eb"/><rect x="124.3" y="420" width="1.02" height="37" fill="#feede6"/><rect x="125.3" y="420" width="1.02" height="37" fill="#fff1eb"/><rect x="126.3" y="420" width="1.02" height="37" fill="#fff1ec"/><rect x="127.3" y="420" width="1.02" height="37" fill="#feede6"/><rect x="128.3" y="420" width="1.02" height="37" fill="#feefe9"/><rect x="129.3" y="420" width="0.72" height="37" fill="#feeee8"/><rect x="130" y="420" width="1.02" height="37" fill="#feede6"/><rect x="131.0" y="420" width="1.02" height="37" fill="#feebe3"/><rect x="132.0" y="420" width="1.02" height="37" fill="#feeee8"/><rect x="133.0" y="420" width="1.02" height="37" fill="#feece5"/><rect x="134.0" y="420" width="1.02" height="37" fill="#feede6"/><rect x="135.0" y="420" width="1.02" height="37" fill="#feece4"/><rect x="136.0" y="420" width="1.02" height="37" fill="#feeee8"/><rect x="137.0" y="420" width="1.02" height="37" fill="#feece6"/><rect x="138.0" y="420" width="1.02" height="37" fill="#feeee7"/><rect x="139.0" y="420" width="1.02" height="37" fill="#feefe9"/><rect x="140.0" y="420" width="1.02" height="37" fill="#fff0ea"/><rect x="141.0" y="420" width="1.02" height="37" fill="#feede7"/><rect x="142.0" y="420" width="1.02" height="37" fill="#fff1eb"/><rect x="143.0" y="420" width="1.02" height="37" fill="#feebe4"/><rect x="144.0" y="420" width="1.02" height="37" fill="#fff0eb"/><rect x="145.0" y="420" width="1.02" height="37" fill="#fff1ec"/><rect x="146.0" y="420" width="1.02" height="37" fill="#fff1eb"/><rect x="147.0" y="420" width="1.02" height="37" fill="#feebe4"/><rect x="148.0" y="420" width="1.02" height="37" fill="#feefe9"/><rect x="149.0" y="420" width="1.02" height="37" fill="#fff0eb"/><rect x="150.0" y="420" width="1.02" height="37" fill="#fff1ec"/><rect x="151.0" y="420" width="1.02" height="37" fill="#fff1ec"/><rect x="152.0" y="420" width="1.02" height="37" fill="#feede6"/><rect x="153.0" y="420" width="1.02" height="37" fill="#feede6"/><rect x="154.0" y="420" width="1.02" height="37" fill="#feede6"/><rect x="155.0" y="420" width="1.02" height="37" fill="#feece6"/><rect x="156.0" y="420" width="1.02" height="37" fill="#fff1eb"/><rect x="157.0" y="420" width="1.02" height="37" fill="#feede7"/><rect x="158.0" y="420" width="1.02" height="37" fill="#feefe9"/><rect x="159.0" y="420" width="1.02" height="37" fill="#feece5"/><rect x="160.0" y="420" width="1.02" height="37" fill="#feece5"/><rect x="161.0" y="420" width="1.02" height="37" fill="#feebe4"/><rect x="162.0" y="420" width="1.02" height="37" fill="#fff1eb"/><rect x="163.0" y="420" width="1.02" height="37" fill="#feece4"/><rect x="164.0" y="420" width="1.02" height="37" fill="#feebe4"/><rect x="165.0" y="420" width="1.02" height="37" fill="#feebe4"/><rect x="166.0" y="420" width="1.02" height="37" fill="#fff1eb"/><rect x="167.0" y="420" width="1.02" height="37" fill="#fff0ea"/><rect x="168.0" y="420" width="1.02" height="37" fill="#fff1eb"/><rect x="169.0" y="420" width="1.02" height="37" fill="#fff1ec"/><rect x="170.0" y="420" width="1.02" height="37" fill="#feece5"/><rect x="171.0" y="420" width="1.02" height="37" fill="#feece5"/><rect x="172.0" y="420" width="1.02" height="37" fill="#feede6"/><rect x="173.0" y="420" width="1.02" height="37" fill="#feece5"/><rect x="174.0" y="420" width="1.02" height="37" fill="#feede6"/><rect x="175.0" y="420" width="1.02" height="37" fill="#ffefe9"/><rect x="176.0" y="420" width="1.02" height="37" fill="#fff1eb"/><rect x="177.0" y="420" width="1.02" height="37" fill="#fff1eb"/><rect x="178.0" y="420" width="1.02" height="37" fill="#feece5"/><rect x="179.0" y="420" width="1.02" height="37" fill="#fff0ea"/><rect x="180.0" y="420" width="1.02" height="37" fill="#feefe9"/><rect x="181.0" y="420" width="1.02" height="37" fill="#feefe8"/><rect x="182.0" y="420" width="1.02" height="37" fill="#fff1ec"/><rect x="183.0" y="420" width="1.02" height="37" fill="#fff0ea"/><rect x="184.0" y="420" width="1.02" height="37" fill="#ffefe9"/><rect x="185.0" y="420" width="1.02" height="37" fill="#feede6"/><rect x="186.0" y="420" width="1.02" height="37" fill="#feefe9"/><rect x="187.0" y="420" width="1.02" height="37" fill="#feefe9"/><rect x="188.0" y="420" width="1.02" height="37" fill="#feebe4"/><rect x="189.0" y="420" width="1.02" height="37" fill="#feeee8"/><rect x="190.0" y="420" width="1.02" height="37" fill="#feece5"/><rect x="191.0" y="420" width="1.02" height="37" fill="#feede7"/><rect x="192.0" y="420" width="1.02" height="37" fill="#fff1ec"/><rect x="193.0" y="420" width="1.02" height="37" fill="#feefe8"/><rect x="194.0" y="420" width="1.02" height="37" fill="#feeee8"/><rect x="195.0" y="420" width="1.02" height="37" fill="#feece5"/><rect x="196.0" y="420" width="1.02" height="37" fill="#feefe9"/><rect x="197.0" y="420" width="1.02" height="37" fill="#feede6"/><rect x="198.0" y="420" width="1.02" height="37" fill="#feeee7"/><rect x="199.0" y="420" width="1.02" height="37" fill="#fff0ea"/><rect x="200" y="420" width="1.02" height="37" fill="#fee3da"/><rect x="201.0" y="420" width="1.02" height="37" fill="#fee9e1"/><rect x="202.0" y="420" width="1.02" height="37" fill="#fee4da"/><rect x="203.0" y="420" width="1.02" height="37" fill="#fee9e0"/><rect x="204.0" y="420" width="1.02" height="37" fill="#feeae2"/><rect x="205.0" y="420" width="1.02" height="37" fill="#fee8e0"/><rect x="206.0" y="420" width="1.02" height="37" fill="#fee4db"/><rect x="207.0" y="420" width="1.02" height="37" fill="#fee2d8"/><rect x="208.0" y="420" width="1.02" height="37" fill="#feeae2"/><rect x="209.0" y="420" width="1.02" height="37" fill="#fee6dd"/><rect x="210.0" y="420" width="1.02" height="37" fill="#fee6dd"/><rect x="211.0" y="420" width="1.02" height="37" fill="#fee4da"/><rect x="212.0" y="420" width="1.02" height="37" fill="#fee8e0"/><rect x="213.0" y="420" width="1.02" height="37" fill="#fee6dd"/><rect x="214.0" y="420" width="1.02" height="37" fill="#fee7df"/><rect x="215.0" y="420" width="1.02" height="37" fill="#fee3da"/><rect x="216.0" y="420" width="1.02" height="37" fill="#fee8e0"/><rect x="217.0" y="420" width="1.02" height="37" fill="#fee3d9"/><rect x="218.0" y="420" width="1.02" height="37" fill="#fee8df"/><rect x="219.0" y="420" width="1.02" height="37" fill="#fee8e0"/><rect x="220" y="420" width="1.02" height="37" fill="#fddbce"/><rect x="221.0" y="420" width="1.02" height="37" fill="#fddcd1"/><rect x="222.0" y="420" width="1.02" height="37" fill="#fde0d5"/><rect x="223.0" y="420" width="1.02" height="37" fill="#fddbcf"/><rect x="224.0" y="420" width="1.02" height="37" fill="#fde0d6"/><rect x="225.0" y="420" width="1.02" height="37" fill="#fddacd"/><rect x="226.0" y="420" width="1.02" height="37" fill="#fddbce"/><rect x="227.0" y="420" width="1.02" height="37" fill="#fddacd"/><rect x="228.0" y="420" width="1.02" height="37" fill="#fddbcf"/><rect x="229.0" y="420" width="1.02" height="37" fill="#fdded2"/><rect x="230.0" y="420" width="1.02" height="37" fill="#fdddd2"/><rect x="231.0" y="420" width="1.02" height="37" fill="#fdddd2"/><rect x="232.0" y="420" width="1.02" height="37" fill="#fdd9cc"/><rect x="233.0" y="420" width="1.02" height="37" fill="#fde0d5"/><rect x="234.0" y="420" width="1.02" height="37" fill="#fdd9cc"/><rect x="235" y="420" width="1.02" height="37" fill="#fee7de"/><rect x="236.0" y="420" width="1.02" height="37" fill="#fee5dc"/><rect x="237.0" y="420" width="1.02" height="37" fill="#fee5dc"/><rect x="238.0" y="420" width="1.02" height="37" fill="#fde0d5"/><rect x="239.0" y="420" width="1.02" height="37" fill="#fee3d9"/><rect x="240.0" y="420" width="1.02" height="37" fill="#fee4da"/><rect x="241.0" y="420" width="1.02" height="37" fill="#fde0d5"/><rect x="242.0" y="420" width="1.02" height="37" fill="#fee5dc"/><rect x="243.0" y="420" width="1.02" height="37" fill="#fee3d9"/><rect x="244.0" y="420" width="1.02" height="37" fill="#fee3d9"/><rect x="245.0" y="420" width="1.02" height="37" fill="#fde1d6"/><rect x="246.0" y="420" width="1.02" height="37" fill="#fde1d6"/><rect x="247.0" y="420" width="1.02" height="37" fill="#fde2d8"/><rect x="248.0" y="420" width="1.02" height="37" fill="#fee4db"/><rect x="249.0" y="420" width="1.02" height="37" fill="#fee4db"/><rect x="250" y="420" width="1.02" height="37" fill="#fddfd5"/><rect x="251.0" y="420" width="1.02" height="37" fill="#fdd9cd"/><rect x="252.0" y="420" width="1.02" height="37" fill="#fddbcf"/><rect x="253.0" y="420" width="1.02" height="37" fill="#fddace"/><rect x="254.0" y="420" width="1.02" height="37" fill="#fddfd5"/><rect x="255.0" y="420" width="1.02" height="37" fill="#fdddd1"/><rect x="256.0" y="420" width="1.02" height="37" fill="#fddace"/><rect x="257.0" y="420" width="1.02" height="37" fill="#fddcd0"/><rect x="258.0" y="420" width="1.02" height="37" fill="#fde0d5"/><rect x="259.0" y="420" width="1.02" height="37" fill="#fdddd1"/><rect x="260.0" y="420" width="1.02" height="37" fill="#fdd9cc"/><rect x="261.0" y="420" width="1.02" height="37" fill="#fddfd4"/><rect x="262.0" y="420" width="1.02" height="37" fill="#fddfd4"/><rect x="263.0" y="420" width="1.02" height="37" fill="#fdded3"/><rect x="264.0" y="420" width="1.02" height="37" fill="#fddbce"/><rect x="265" y="420" width="1.02" height="37" fill="#fde0d5"/><rect x="266.0" y="420" width="1.02" height="37" fill="#fee6dd"/><rect x="267.0" y="420" width="1.02" height="37" fill="#fee6dd"/><rect x="268.0" y="420" width="1.02" height="37" fill="#fee5dc"/><rect x="269.0" y="420" width="1.02" height="37" fill="#fee4db"/><rect x="270.0" y="420" width="1.02" height="37" fill="#fee3d9"/><rect x="271.0" y="420" width="1.02" height="37" fill="#fee6dd"/><rect x="272.0" y="420" width="1.02" height="37" fill="#fee4db"/><rect x="273.0" y="420" width="1.02" height="37" fill="#fee5dc"/><rect x="274.0" y="420" width="1.02" height="37" fill="#fddfd4"/><rect x="275.0" y="420" width="1.02" height="37" fill="#fde1d7"/><rect x="276.0" y="420" width="1.02" height="37" fill="#fee6dd"/><rect x="277.0" y="420" width="1.02" height="37" fill="#fddfd4"/><rect x="278.0" y="420" width="1.02" height="37" fill="#fee6dd"/><rect x="279.0" y="420" width="1.02" height="37" fill="#fee4da"/><rect x="280.0" y="420" width="1.02" height="37" fill="#fddfd4"/><rect x="281.0" y="420" width="1.02" height="37" fill="#fde0d6"/><rect x="282.0" y="420" width="1.02" height="37" fill="#fde1d7"/><rect x="283.0" y="420" width="1.02" height="37" fill="#fee3da"/><rect x="284.0" y="420" width="1.02" height="37" fill="#fee5dc"/><rect x="285.0" y="420" width="1.02" height="37" fill="#fde2d8"/><rect x="286.0" y="420" width="1.02" height="37" fill="#fee6dd"/><rect x="287.0" y="420" width="1.02" height="37" fill="#fee5dc"/><rect x="288.0" y="420" width="1.02" height="37" fill="#fee4da"/><rect x="289.0" y="420" width="1.02" height="37" fill="#fee7de"/><rect x="290.0" y="420" width="1.02" height="37" fill="#fee4da"/><rect x="291.0" y="420" width="1.02" height="37" fill="#fde0d6"/><rect x="292.0" y="420" width="1.02" height="37" fill="#fde1d7"/><rect x="293.0" y="420" width="1.02" height="37" fill="#fee3d9"/><rect x="294.0" y="420" width="1.02" height="37" fill="#fde2d8"/><rect x="295.0" y="420" width="1.02" height="37" fill="#fee3d9"/><rect x="296" y="420" width="1.02" height="37" fill="#fccfbf"/><rect x="297.0" y="420" width="1.02" height="37" fill="#fbc8b8"/><rect x="298.0" y="420" width="1.02" height="37" fill="#fccbbb"/><rect x="299.0" y="420" width="1.02" height="37" fill="#fbc6b6"/><rect x="300.0" y="420" width="1.02" height="37" fill="#fbc3b3"/><rect x="301.0" y="420" width="1.02" height="37" fill="#fccbbb"/><rect x="302.0" y="420" width="1.02" height="37" fill="#fbc8b8"/><rect x="303.0" y="420" width="1.02" height="37" fill="#fbc6b6"/><rect x="304.0" y="420" width="1.02" height="37" fill="#fccbbb"/><rect x="305.0" y="420" width="1.02" height="37" fill="#fccebe"/><rect x="306.0" y="420" width="1.02" height="37" fill="#fbc6b6"/><rect x="307.0" y="420" width="1.02" height="37" fill="#fbc4b4"/><rect x="308.0" y="420" width="1.02" height="37" fill="#fbc5b5"/><rect x="309.0" y="420" width="1.02" height="37" fill="#fbc6b6"/><rect x="310.0" y="420" width="1.02" height="37" fill="#fbc4b4"/><rect x="311.0" y="420" width="1.02" height="37" fill="#fbc7b7"/><rect x="312.0" y="420" width="1.02" height="37" fill="#fbc7b7"/><rect x="313.0" y="420" width="1.02" height="37" fill="#fccaba"/><rect x="314.0" y="420" width="1.02" height="37" fill="#fcccbc"/><rect x="315.0" y="420" width="1.02" height="37" fill="#fbc8b7"/><rect x="316.0" y="420" width="1.02" height="37" fill="#fccfc0"/><rect x="317.0" y="420" width="1.02" height="37" fill="#fccbbb"/><rect x="318.0" y="420" width="1.02" height="37" fill="#fbc5b5"/><rect x="319.0" y="420" width="1.02" height="37" fill="#fbc6b6"/><rect x="320.0" y="420" width="1.02" height="37" fill="#fbc8b7"/><rect x="321.0" y="420" width="1.02" height="37" fill="#fccdbd"/><rect x="322.0" y="420" width="1.02" height="37" fill="#fccbbb"/><rect x="323.0" y="420" width="1.02" height="37" fill="#fccaba"/><rect x="324.0" y="420" width="1.02" height="37" fill="#fbc8b8"/><rect x="325.0" y="420" width="1.02" height="37" fill="#fccbbb"/><rect x="326.0" y="420" width="1.02" height="37" fill="#fbc7b7"/><rect x="327.0" y="420" width="1.02" height="37" fill="#fbc3b3"/><rect x="328" y="420" width="1.02" height="37" fill="#fdd9cc"/><rect x="329.0" y="420" width="1.02" height="37" fill="#fcd5c6"/><rect x="330.0" y="420" width="1.02" height="37" fill="#fcd3c5"/><rect x="331.0" y="420" width="1.02" height="37" fill="#fdd7ca"/><rect x="332.0" y="420" width="1.02" height="37" fill="#fdd6c9"/><rect x="333.0" y="420" width="1.02" height="37" fill="#fcd1c2"/><rect x="334.0" y="420" width="1.02" height="37" fill="#fddace"/><rect x="335.0" y="420" width="1.02" height="37" fill="#fdd6c8"/><rect x="336.0" y="420" width="1.02" height="37" fill="#fdd9cd"/><rect x="337.0" y="420" width="1.02" height="37" fill="#fcd3c5"/><rect x="338.0" y="420" width="1.02" height="37" fill="#fcd2c3"/><rect x="339.0" y="420" width="1.02" height="37" fill="#fdd6c8"/><rect x="340.0" y="420" width="1.02" height="37" fill="#fddacd"/><rect x="341.0" y="420" width="1.02" height="37" fill="#fdd5c7"/><rect x="342.0" y="420" width="1.02" height="37" fill="#fdd6c8"/><rect x="343.0" y="420" width="1.02" height="37" fill="#fcd4c6"/><rect x="344.0" y="420" width="1.02" height="37" fill="#fdd6c8"/><rect x="345" y="420" width="1.02" height="37" fill="#fcd1c2"/><rect x="346.0" y="420" width="1.02" height="37" fill="#fcd0c0"/><rect x="347.0" y="420" width="1.02" height="37" fill="#fcd3c4"/><rect x="348.0" y="420" width="1.02" height="37" fill="#fcd4c5"/><rect x="349.0" y="420" width="1.02" height="37" fill="#fccebe"/><rect x="350.0" y="420" width="1.02" height="37" fill="#fdd6c8"/><rect x="351.0" y="420" width="1.02" height="37" fill="#fcd1c2"/><rect x="352.0" y="420" width="1.02" height="37" fill="#fcd4c6"/><rect x="353.0" y="420" width="1.02" height="37" fill="#fcd0c1"/><rect x="354.0" y="420" width="1.02" height="37" fill="#fdd7c9"/><rect x="355.0" y="420" width="1.02" height="37" fill="#fccebe"/><rect x="356.0" y="420" width="1.02" height="37" fill="#fcd4c6"/><rect x="357.0" y="420" width="1.02" height="37" fill="#fdd7ca"/><rect x="358.0" y="420" width="1.02" height="37" fill="#fdd5c7"/><rect x="359.0" y="420" width="1.02" height="37" fill="#fcd4c6"/><rect x="360.0" y="420" width="1.02" height="37" fill="#fdd8cb"/><rect x="361.0" y="420" width="1.02" height="37" fill="#fcd4c5"/><rect x="362.0" y="420" width="1.02" height="37" fill="#fcd4c5"/><rect x="363.0" y="420" width="1.02" height="37" fill="#fcd1c2"/><rect x="364.0" y="420" width="1.02" height="37" fill="#fcd4c6"/><rect x="365" y="420" width="1.02" height="37" fill="#fccfbf"/><rect x="366.0" y="420" width="1.02" height="37" fill="#fccfc0"/><rect x="367.0" y="420" width="1.02" height="37" fill="#fbc8b8"/><rect x="368.0" y="420" width="1.02" height="37" fill="#fbc5b5"/><rect x="369.0" y="420" width="1.02" height="37" fill="#fccbbb"/><rect x="370.0" y="420" width="1.02" height="37" fill="#fccfc0"/><rect x="371.0" y="420" width="1.02" height="37" fill="#fbc7b7"/><rect x="372.0" y="420" width="1.02" height="37" fill="#fccdbd"/><rect x="373.0" y="420" width="1.02" height="37" fill="#fccfc0"/><rect x="374.0" y="420" width="1.02" height="37" fill="#fcd0c1"/><rect x="375.0" y="420" width="1.02" height="37" fill="#fbc8b7"/><rect x="376.0" y="420" width="1.02" height="37" fill="#fbc7b7"/><rect x="377.0" y="420" width="1.02" height="37" fill="#fccaba"/><rect x="378.0" y="420" width="1.02" height="37" fill="#fcccbc"/><rect x="379.0" y="420" width="1.02" height="37" fill="#fccbbb"/><rect x="380.0" y="420" width="1.02" height="37" fill="#fccfc0"/><rect x="381.0" y="420" width="1.02" height="37" fill="#fbc5b5"/><rect x="382.0" y="420" width="1.02" height="37" fill="#fccebe"/><rect x="383.0" y="420" width="1.02" height="37" fill="#fccaba"/><rect x="384.0" y="420" width="1.02" height="37" fill="#fbc7b7"/><rect x="385.0" y="420" width="1.02" height="37" fill="#fbc7b7"/><rect x="386.0" y="420" width="1.02" height="37" fill="#fcccbc"/><rect x="387.0" y="420" width="1.02" height="37" fill="#fccfbf"/><rect x="388.0" y="420" width="1.02" height="37" fill="#fccbbb"/><rect x="389.0" y="420" width="1.02" height="37" fill="#fcd0c1"/><rect x="390" y="420" width="1.02" height="37" fill="#fee8e0"/><rect x="391.0" y="420" width="1.02" height="37" fill="#feece5"/><rect x="392.0" y="420" width="1.02" height="37" fill="#fee8e0"/><rect x="393.0" y="420" width="1.02" height="37" fill="#feece6"/><rect x="394.0" y="420" width="1.02" height="37" fill="#feece5"/><rect x="395.0" y="420" width="1.02" height="37" fill="#feede6"/><rect x="396.0" y="420" width="1.02" height="37" fill="#feebe4"/><rect x="397.0" y="420" width="1.02" height="37" fill="#feede6"/><rect x="398.0" y="420" width="1.02" height="37" fill="#feeee8"/><rect x="399.0" y="420" width="1.02" height="37" fill="#fee9e1"/><rect x="400" y="420" width="1.02" height="37" fill="#fcd0c1"/><rect x="401.0" y="420" width="1.02" height="37" fill="#fcd1c2"/><rect x="402.0" y="420" width="1.02" height="37" fill="#fcd0c1"/><rect x="403" y="420" width="1.02" height="37" fill="#fee9e2"/><rect x="404.0" y="420" width="1.02" height="37" fill="#feeae2"/><rect x="405.0" y="420" width="1.02" height="37" fill="#fee8e0"/><rect x="406.0" y="420" width="1.02" height="37" fill="#fee8e0"/><rect x="407" y="420" width="1.02" height="37" fill="#f47362"/><rect x="408.0" y="420" width="1.02" height="37" fill="#f26452"/><rect x="409.0" y="420" width="1.02" height="37" fill="#f26654"/><rect x="410.0" y="420" width="1.02" height="37" fill="#f47c6a"/><rect x="411.0" y="420" width="1.02" height="37" fill="#f26755"/><rect x="412.0" y="420" width="1.02" height="37" fill="#f26453"/><rect x="413.0" y="420" width="1.02" height="37" fill="#f26856"/><rect x="414.0" y="420" width="1.02" height="37" fill="#f47a68"/><rect x="415.0" y="420" width="1.02" height="37" fill="#f26655"/><rect x="416.0" y="420" width="1.02" height="37" fill="#f36c5a"/><rect x="417.0" y="420" width="1.02" height="37" fill="#f57d6c"/><rect x="418.0" y="420" width="1.02" height="37" fill="#f57d6c"/><rect x="419.0" y="420" width="1.02" height="37" fill="#f26351"/><rect x="420.0" y="420" width="1.02" height="37" fill="#f36b5a"/><rect x="421.0" y="420" width="1.02" height="37" fill="#f47765"/><rect x="422.0" y="420" width="1.02" height="37" fill="#f47b69"/><rect x="423.0" y="420" width="1.02" height="37" fill="#f47968"/><rect x="424.0" y="420" width="1.02" height="37" fill="#f47765"/><rect x="425.0" y="420" width="1.02" height="37" fill="#f26856"/><rect x="426.0" y="420" width="1.02" height="37" fill="#f47462"/><rect x="427.0" y="420" width="1.02" height="37" fill="#f47968"/><rect x="428.0" y="420" width="1.02" height="37" fill="#f26453"/><rect x="429.0" y="420" width="1.02" height="37" fill="#f26856"/><rect x="430.0" y="420" width="1.02" height="37" fill="#f47967"/><rect x="431.0" y="420" width="1.02" height="37" fill="#f26553"/><rect x="432.0" y="420" width="1.02" height="37" fill="#f36d5b"/><rect x="433.0" y="420" width="1.02" height="37" fill="#f26856"/><rect x="434.0" y="420" width="1.02" height="37" fill="#f36b59"/><rect x="435" y="420" width="1.02" height="37" fill="#ed483a"/><rect x="436.0" y="420" width="1.02" height="37" fill="#ee4b3c"/><rect x="437.0" y="420" width="1.02" height="37" fill="#ee493b"/><rect x="438" y="420" width="1.02" height="37" fill="#f9a999"/><rect x="439.0" y="420" width="1.02" height="37" fill="#f8a08f"/><rect x="440.0" y="420" width="1.02" height="37" fill="#f8a392"/><rect x="441.0" y="420" width="1.02" height="37" fill="#f89f8e"/><rect x="442.0" y="420" width="1.02" height="37" fill="#f8a594"/><rect x="443.0" y="420" width="1.02" height="37" fill="#f89c8b"/><rect x="444.0" y="420" width="1.02" height="37" fill="#f8a292"/><rect x="445.0" y="420" width="1.02" height="37" fill="#f9a897"/><rect x="446.0" y="420" width="1.02" height="37" fill="#f9a998"/><rect x="447.0" y="420" width="1.02" height="37" fill="#f9ab9a"/><rect x="448.0" y="420" width="1.02" height="37" fill="#f8a493"/><rect x="449.0" y="420" width="1.02" height="37" fill="#f9ac9c"/><rect x="450.0" y="420" width="1.02" height="37" fill="#f8a493"/><rect x="451.0" y="420" width="1.02" height="37" fill="#f9ab9a"/><rect x="452.0" y="420" width="1.02" height="37" fill="#f8a493"/><rect x="453.0" y="420" width="1.02" height="37" fill="#f8a393"/><rect x="454.0" y="420" width="1.02" height="37" fill="#f8a392"/><rect x="455.0" y="420" width="1.02" height="37" fill="#f89c8b"/><rect x="456.0" y="420" width="1.02" height="37" fill="#f9ad9d"/><rect x="457.0" y="420" width="1.02" height="37" fill="#f89d8c"/><rect x="458.0" y="420" width="1.02" height="37" fill="#f8a493"/><rect x="459.0" y="420" width="1.02" height="37" fill="#f8a291"/><rect x="460.0" y="420" width="1.02" height="37" fill="#f8a08f"/><rect x="461.0" y="420" width="1.02" height="37" fill="#f89d8c"/><rect x="462.0" y="420" width="1.02" height="37" fill="#f8a695"/><rect x="463.0" y="420" width="1.02" height="37" fill="#f8a594"/><rect x="464.0" y="420" width="1.02" height="37" fill="#f79a89"/><rect x="465.0" y="420" width="1.02" height="37" fill="#f9ac9b"/><rect x="466.0" y="420" width="1.02" height="37" fill="#f8a190"/><rect x="467.0" y="420" width="1.02" height="37" fill="#f8a190"/><rect x="468.0" y="420" width="1.02" height="37" fill="#f9ad9c"/><rect x="469.0" y="420" width="1.02" height="37" fill="#f8a190"/><rect x="470.0" y="420" width="1.02" height="37" fill="#f8a08f"/><rect x="471.0" y="420" width="1.02" height="37" fill="#f79b8a"/><rect x="472.0" y="420" width="1.02" height="37" fill="#f9a796"/><rect x="473.0" y="420" width="1.02" height="37" fill="#f79a89"/><rect x="474.0" y="420" width="1.02" height="37" fill="#f8a392"/><rect x="475.0" y="420" width="1.02" height="37" fill="#f8a493"/><rect x="476.0" y="420" width="1.02" height="37" fill="#f79c8b"/><rect x="477.0" y="420" width="1.02" height="37" fill="#f9ad9c"/><rect x="478.0" y="420" width="1.02" height="37" fill="#f89f8e"/><rect x="479.0" y="420" width="1.02" height="37" fill="#f8a190"/><rect x="480.0" y="420" width="1.02" height="37" fill="#f8a796"/><rect x="481.0" y="420" width="1.02" height="37" fill="#f89c8b"/><rect x="482.0" y="420" width="1.02" height="37" fill="#f8a695"/><rect x="483.0" y="420" width="1.02" height="37" fill="#f8a493"/><rect x="484.0" y="420" width="1.02" height="37" fill="#f8a392"/><rect x="485" y="420" width="1.02" height="37" fill="#f9b1a0"/><rect x="486.0" y="420" width="1.02" height="37" fill="#fabaaa"/><rect x="487.0" y="420" width="1.02" height="37" fill="#fab7a6"/><rect x="488.0" y="420" width="1.02" height="37" fill="#fab7a6"/><rect x="489.0" y="420" width="1.02" height="37" fill="#fab4a4"/><rect x="490.0" y="420" width="1.02" height="37" fill="#f9b09f"/><rect x="491.0" y="420" width="1.02" height="37" fill="#fab9a9"/><rect x="492.0" y="420" width="1.02" height="37" fill="#f9b09f"/><rect x="493.0" y="420" width="1.02" height="37" fill="#fab7a7"/><rect x="494.0" y="420" width="1.02" height="37" fill="#fab5a5"/><rect x="495.0" y="420" width="1.02" height="37" fill="#fab9a9"/><rect x="496.0" y="420" width="1.02" height="37" fill="#fab5a5"/><rect x="497.0" y="420" width="1.02" height="37" fill="#f9ad9c"/><rect x="498.0" y="420" width="1.02" height="37" fill="#fab3a2"/><rect x="499.0" y="420" width="1.02" height="37" fill="#f9b0a0"/><rect x="500.0" y="420" width="1.02" height="37" fill="#fab8a8"/><rect x="501.0" y="420" width="1.02" height="37" fill="#fab9a8"/><rect x="502.0" y="420" width="1.02" height="37" fill="#fab9a9"/><rect x="503.0" y="420" width="1.02" height="37" fill="#fab4a3"/><rect x="504.0" y="420" width="1.02" height="37" fill="#fab3a2"/><rect x="505.0" y="420" width="1.02" height="37" fill="#f9b0a0"/><rect x="506.0" y="420" width="1.02" height="37" fill="#fbbead"/><rect x="507.0" y="420" width="1.02" height="37" fill="#f9b1a1"/><rect x="508.0" y="420" width="1.02" height="37" fill="#f9af9e"/><rect x="509.0" y="420" width="1.02" height="37" fill="#fab5a4"/><rect x="510.0" y="420" width="1.02" height="37" fill="#fbbdad"/><rect x="511.0" y="420" width="1.02" height="37" fill="#fab9a9"/><rect x="512.0" y="420" width="1.02" height="37" fill="#fbbeae"/><rect x="513.0" y="420" width="1.02" height="37" fill="#fabbab"/><rect x="514.0" y="420" width="1.02" height="37" fill="#f9ae9d"/><rect x="515.0" y="420" width="1.02" height="37" fill="#fab3a3"/><rect x="516.0" y="420" width="1.02" height="37" fill="#fab3a2"/><rect x="517.0" y="420" width="1.02" height="37" fill="#f9b0a0"/><rect x="518.0" y="420" width="1.02" height="37" fill="#f9ae9e"/><rect x="519.0" y="420" width="1.02" height="37" fill="#fab3a3"/><rect x="520.0" y="420" width="1.02" height="37" fill="#fab3a3"/><rect x="521.0" y="420" width="1.02" height="37" fill="#fab3a3"/><rect x="522.0" y="420" width="1.02" height="37" fill="#f9b2a1"/><rect x="523.0" y="420" width="1.02" height="37" fill="#fab4a3"/><rect x="524.0" y="420" width="1.02" height="37" fill="#fab2a2"/><rect x="525.0" y="420" width="1.02" height="37" fill="#fabaaa"/><rect x="526.0" y="420" width="1.02" height="37" fill="#fab2a2"/><rect x="527.0" y="420" width="1.02" height="37" fill="#fab6a6"/><rect x="528.0" y="420" width="1.02" height="37" fill="#f9b1a0"/><rect x="529.0" y="420" width="1.02" height="37" fill="#fabcac"/><rect x="530.0" y="420" width="1.02" height="37" fill="#fabbab"/><rect x="531.0" y="420" width="1.02" height="37" fill="#fbbead"/><rect x="532.0" y="420" width="1.02" height="37" fill="#f9b0a0"/><rect x="533.0" y="420" width="1.02" height="37" fill="#f9ae9d"/><rect x="534.0" y="420" width="1.02" height="37" fill="#fab3a2"/><rect x="535.0" y="420" width="1.02" height="37" fill="#fab8a7"/><rect x="36.3" y="457" width="1.02" height="37" fill="#fab9a9"/><rect x="37.3" y="457" width="1.02" height="37" fill="#fabaa9"/><rect x="38.3" y="457" width="0.72" height="37" fill="#fbbdad"/><rect x="39" y="457" width="1.02" height="37" fill="#fccdbd"/><rect x="40.0" y="457" width="1.02" height="37" fill="#fccdbd"/><rect x="41.0" y="457" width="1.02" height="37" fill="#fccbbb"/><rect x="42" y="457" width="1.02" height="37" fill="#fdd6c9"/><rect x="43.0" y="457" width="1.02" height="37" fill="#fdd5c7"/><rect x="44.0" y="457" width="1.02" height="37" fill="#fcd3c5"/><rect x="45" y="457" width="1.02" height="37" fill="#fddace"/><rect x="46.0" y="457" width="1.02" height="37" fill="#fde2d8"/><rect x="47.0" y="457" width="1.02" height="37" fill="#fdddd2"/><rect x="48" y="457" width="1.02" height="37" fill="#fff3ee"/><rect x="49.0" y="457" width="1.02" height="37" fill="#fff2ed"/><rect x="50.0" y="457" width="1.02" height="37" fill="#feeee7"/><rect x="51.0" y="457" width="1.02" height="37" fill="#feefe9"/><rect x="52.0" y="457" width="1.02" height="37" fill="#feede6"/><rect x="53.0" y="457" width="1.02" height="37" fill="#fff0ea"/><rect x="54.0" y="457" width="1.02" height="37" fill="#fff3ee"/><rect x="55.0" y="457" width="1.02" height="37" fill="#fff0eb"/><rect x="56.0" y="457" width="1.02" height="37" fill="#feefe9"/><rect x="57.0" y="457" width="1.02" height="37" fill="#feede6"/><rect x="58.0" y="457" width="1.02" height="37" fill="#feece6"/><rect x="59.0" y="457" width="1.02" height="37" fill="#fff0ea"/><rect x="60.0" y="457" width="1.02" height="37" fill="#fff0ea"/><rect x="61.0" y="457" width="1.02" height="37" fill="#fff2ed"/><rect x="62.0" y="457" width="1.02" height="37" fill="#feefe8"/><rect x="63.0" y="457" width="1.02" height="37" fill="#fff1ec"/><rect x="64.0" y="457" width="1.02" height="37" fill="#fff2ed"/><rect x="65.0" y="457" width="1.02" height="37" fill="#fff3ee"/><rect x="66.0" y="457" width="1.02" height="37" fill="#fff3ee"/><rect x="67.0" y="457" width="1.02" height="37" fill="#feeee8"/><rect x="68.0" y="457" width="1.02" height="37" fill="#fff2ed"/><rect x="69.0" y="457" width="1.02" height="37" fill="#feede6"/><rect x="70.0" y="457" width="1.02" height="37" fill="#fff2ed"/><rect x="71.0" y="457" width="1.02" height="37" fill="#feede7"/><rect x="72.0" y="457" width="1.02" height="37" fill="#fff2ed"/><rect x="73.0" y="457" width="1.02" height="37" fill="#fff3ee"/><rect x="74.0" y="457" width="1.02" height="37" fill="#feeee8"/><rect x="75.0" y="457" width="1.02" height="37" fill="#fff1ec"/><rect x="76.0" y="457" width="1.02" height="37" fill="#feeee8"/><rect x="77.0" y="457" width="1.02" height="37" fill="#fff2ec"/><rect x="78.0" y="457" width="1.02" height="37" fill="#fff3ed"/><rect x="79.0" y="457" width="1.02" height="37" fill="#feeee7"/><rect x="80.0" y="457" width="1.02" height="37" fill="#feeee8"/><rect x="81.0" y="457" width="1.02" height="37" fill="#feede7"/><rect x="82.0" y="457" width="1.02" height="37" fill="#feeee8"/><rect x="83.0" y="457" width="1.02" height="37" fill="#fff2ed"/><rect x="84.0" y="457" width="1.02" height="37" fill="#feefe9"/><rect x="85.0" y="457" width="1.02" height="37" fill="#feeee8"/><rect x="86.0" y="457" width="1.02" height="37" fill="#fff0ea"/><rect x="87.0" y="457" width="1.02" height="37" fill="#feede6"/><rect x="88.0" y="457" width="1.02" height="37" fill="#fff1ec"/><rect x="89.0" y="457" width="1.02" height="37" fill="#feede6"/><rect x="90.0" y="457" width="1.02" height="37" fill="#feeee8"/><rect x="91.0" y="457" width="1.02" height="37" fill="#fff3ee"/><rect x="92.0" y="457" width="1.02" height="37" fill="#fff3ee"/><rect x="93.0" y="457" width="1.02" height="37" fill="#feefe8"/><rect x="94.0" y="457" width="1.02" height="37" fill="#feeee7"/><rect x="95.0" y="457" width="1.02" height="37" fill="#fff2ed"/><rect x="96.0" y="457" width="1.02" height="37" fill="#fff1eb"/><rect x="97.0" y="457" width="1.02" height="37" fill="#feeee8"/><rect x="98.0" y="457" width="1.02" height="37" fill="#fff2ed"/><rect x="99.0" y="457" width="1.02" height="37" fill="#feede7"/><rect x="100.0" y="457" width="1.02" height="37" fill="#fff0ea"/><rect x="101.0" y="457" width="1.02" height="37" fill="#fff2ed"/><rect x="102.0" y="457" width="1.02" height="37" fill="#fff0eb"/><rect x="103.0" y="457" width="1.02" height="37" fill="#feefe9"/><rect x="104.0" y="457" width="1.02" height="37" fill="#fff0ea"/><rect x="105.0" y="457" width="1.02" height="37" fill="#feeee8"/><rect x="106.0" y="457" width="1.02" height="37" fill="#fff2ed"/><rect x="107.0" y="457" width="1.02" height="37" fill="#feeee7"/><rect x="108.0" y="457" width="1.02" height="37" fill="#fff0eb"/><rect x="109.0" y="457" width="1.02" height="37" fill="#feefe8"/><rect x="110.0" y="457" width="1.02" height="37" fill="#feefe9"/><rect x="111.0" y="457" width="1.02" height="37" fill="#fff0ea"/><rect x="112.0" y="457" width="1.02" height="37" fill="#fff0eb"/><rect x="113.0" y="457" width="1.02" height="37" fill="#feeee7"/><rect x="114.0" y="457" width="1.02" height="37" fill="#feede6"/><rect x="115.0" y="457" width="1.02" height="37" fill="#feeee7"/><rect x="116.0" y="457" width="1.02" height="37" fill="#feefe9"/><rect x="117.0" y="457" width="1.02" height="37" fill="#fff1eb"/><rect x="118.0" y="457" width="1.02" height="37" fill="#fff2ed"/><rect x="119.0" y="457" width="1.02" height="37" fill="#feede6"/><rect x="120.0" y="457" width="1.02" height="37" fill="#feeee8"/><rect x="121.0" y="457" width="1.02" height="37" fill="#feede7"/><rect x="122.0" y="457" width="1.02" height="37" fill="#fff1eb"/><rect x="123.0" y="457" width="1.02" height="37" fill="#feefe9"/><rect x="124.0" y="457" width="1.02" height="37" fill="#feece6"/><rect x="125.0" y="457" width="1.02" height="37" fill="#feede7"/><rect x="126.0" y="457" width="1.02" height="37" fill="#feefe9"/><rect x="127.0" y="457" width="1.02" height="37" fill="#fff1eb"/><rect x="128.0" y="457" width="1.02" height="37" fill="#fff0ea"/><rect x="129.0" y="457" width="1.02" height="37" fill="#feede6"/><rect x="130.0" y="457" width="1.02" height="37" fill="#fff0eb"/><rect x="131.0" y="457" width="1.02" height="37" fill="#feeee8"/><rect x="132.0" y="457" width="1.02" height="37" fill="#feefe9"/><rect x="133.0" y="457" width="1.02" height="37" fill="#feede6"/><rect x="134.0" y="457" width="1.02" height="37" fill="#feeee7"/><rect x="135.0" y="457" width="1.02" height="37" fill="#fff1ec"/><rect x="136.0" y="457" width="1.02" height="37" fill="#fff3ee"/><rect x="137.0" y="457" width="1.02" height="37" fill="#fff1ec"/><rect x="138.0" y="457" width="1.02" height="37" fill="#fff0ea"/><rect x="139.0" y="457" width="1.02" height="37" fill="#feefe9"/><rect x="140.0" y="457" width="1.02" height="37" fill="#feeee7"/><rect x="141.0" y="457" width="1.02" height="37" fill="#feede6"/><rect x="142.0" y="457" width="1.02" height="37" fill="#fff3ee"/><rect x="143.0" y="457" width="1.02" height="37" fill="#feede7"/><rect x="144.0" y="457" width="1.02" height="37" fill="#feeee7"/><rect x="145.0" y="457" width="1.02" height="37" fill="#feede7"/><rect x="146.0" y="457" width="1.02" height="37" fill="#feefe9"/><rect x="147.0" y="457" width="1.02" height="37" fill="#fff1ec"/><rect x="148.0" y="457" width="1.02" height="37" fill="#feede7"/><rect x="149.0" y="457" width="1.02" height="37" fill="#feeee7"/><rect x="150.0" y="457" width="1.02" height="37" fill="#feeee8"/><rect x="151.0" y="457" width="1.02" height="37" fill="#feede6"/><rect x="152.0" y="457" width="1.02" height="37" fill="#fff1eb"/><rect x="153.0" y="457" width="1.02" height="37" fill="#fff2ed"/><rect x="154.0" y="457" width="1.02" height="37" fill="#feefe9"/><rect x="155.0" y="457" width="1.02" height="37" fill="#feeee7"/><rect x="156.0" y="457" width="1.02" height="37" fill="#fff2ec"/><rect x="157.0" y="457" width="1.02" height="37" fill="#feeee8"/><rect x="158.0" y="457" width="1.02" height="37" fill="#feede6"/><rect x="159.0" y="457" width="1.02" height="37" fill="#fff1ec"/><rect x="160.0" y="457" width="1.02" height="37" fill="#feefe9"/><rect x="161.0" y="457" width="1.02" height="37" fill="#feeee8"/><rect x="162.0" y="457" width="1.02" height="37" fill="#fff0ea"/><rect x="163.0" y="457" width="1.02" height="37" fill="#fff2ec"/><rect x="164.0" y="457" width="1.02" height="37" fill="#fff1ec"/><rect x="165.0" y="457" width="1.02" height="37" fill="#feeee8"/><rect x="166.0" y="457" width="1.02" height="37" fill="#feeee7"/><rect x="167.0" y="457" width="1.02" height="37" fill="#fff0ea"/><rect x="168.0" y="457" width="1.02" height="37" fill="#fff2ed"/><rect x="169.0" y="457" width="1.02" height="37" fill="#feeee7"/><rect x="170.0" y="457" width="1.02" height="37" fill="#feeee7"/><rect x="171.0" y="457" width="1.02" height="37" fill="#fff1ec"/><rect x="172.0" y="457" width="1.02" height="37" fill="#feefe9"/><rect x="173.0" y="457" width="1.02" height="37" fill="#feede6"/><rect x="174.0" y="457" width="1.02" height="37" fill="#feede6"/><rect x="175.0" y="457" width="1.02" height="37" fill="#ffefe9"/><rect x="176.0" y="457" width="1.02" height="37" fill="#fff0ea"/><rect x="177.0" y="457" width="1.02" height="37" fill="#feefe9"/><rect x="178.0" y="457" width="1.02" height="37" fill="#fff2ec"/><rect x="179.0" y="457" width="1.02" height="37" fill="#fff2ec"/><rect x="180.0" y="457" width="1.02" height="37" fill="#fff2ec"/><rect x="181.0" y="457" width="1.02" height="37" fill="#feeee8"/><rect x="182.0" y="457" width="1.02" height="37" fill="#fff0eb"/><rect x="183.0" y="457" width="1.02" height="37" fill="#feefe9"/><rect x="184.0" y="457" width="1.02" height="37" fill="#fff0eb"/><rect x="185.0" y="457" width="1.02" height="37" fill="#ffefea"/><rect x="186.0" y="457" width="1.02" height="37" fill="#fff2ed"/><rect x="187.0" y="457" width="1.02" height="37" fill="#fff3ee"/><rect x="188.0" y="457" width="1.02" height="37" fill="#feece5"/><rect x="189.0" y="457" width="1.02" height="37" fill="#fff0eb"/><rect x="190.0" y="457" width="1.02" height="37" fill="#fff2ed"/><rect x="191.0" y="457" width="1.02" height="37" fill="#feefe9"/><rect x="192.0" y="457" width="1.02" height="37" fill="#feeee7"/><rect x="193.0" y="457" width="1.02" height="37" fill="#fff2ed"/><rect x="194.0" y="457" width="1.02" height="37" fill="#feefe9"/><rect x="195.0" y="457" width="1.02" height="37" fill="#fff1eb"/><rect x="196.0" y="457" width="1.02" height="37" fill="#ffefea"/><rect x="197.0" y="457" width="1.02" height="37" fill="#fff3ee"/><rect x="198.0" y="457" width="1.02" height="37" fill="#fff3ee"/><rect x="199.0" y="457" width="1.02" height="37" fill="#feece6"/><rect x="200.0" y="457" width="1.02" height="37" fill="#feede7"/><rect x="201" y="457" width="1.02" height="37" fill="#fbbfae"/><rect x="202.0" y="457" width="1.02" height="37" fill="#fbbdad"/><rect x="203" y="457" width="1.02" height="37" fill="#fff0ea"/><rect x="204.0" y="457" width="1.02" height="37" fill="#feece5"/><rect x="205.0" y="457" width="1.02" height="37" fill="#feeee8"/><rect x="206.0" y="457" width="1.02" height="37" fill="#feebe4"/><rect x="207.0" y="457" width="1.02" height="37" fill="#feece5"/><rect x="208.0" y="457" width="1.02" height="37" fill="#feece5"/><rect x="209.0" y="457" width="1.02" height="37" fill="#feebe4"/><rect x="210.0" y="457" width="1.02" height="37" fill="#fff0ea"/><rect x="211.0" y="457" width="1.02" height="37" fill="#fff1ec"/><rect x="212.0" y="457" width="1.02" height="37" fill="#fff0ea"/><rect x="213.0" y="457" width="1.02" height="37" fill="#fff0ea"/><rect x="214.0" y="457" width="1.02" height="37" fill="#fff1eb"/><rect x="215.0" y="457" width="1.02" height="37" fill="#fff1ec"/><rect x="216.0" y="457" width="1.02" height="37" fill="#feeee7"/><rect x="217.0" y="457" width="1.02" height="37" fill="#feece4"/><rect x="218.0" y="457" width="1.02" height="37" fill="#feeee8"/><rect x="219.0" y="457" width="1.02" height="37" fill="#feebe4"/><rect x="220.0" y="457" width="1.02" height="37" fill="#feebe4"/><rect x="221.0" y="457" width="1.02" height="37" fill="#fff1eb"/><rect x="222.0" y="457" width="1.02" height="37" fill="#feede7"/><rect x="223.0" y="457" width="1.02" height="37" fill="#feefe8"/><rect x="224.0" y="457" width="1.02" height="37" fill="#fff1eb"/><rect x="225.0" y="457" width="1.02" height="37" fill="#feebe4"/><rect x="226.0" y="457" width="1.02" height="37" fill="#fff0ea"/><rect x="227.0" y="457" width="1.02" height="37" fill="#feeee7"/><rect x="228.0" y="457" width="1.02" height="37" fill="#feede6"/><rect x="229.0" y="457" width="1.02" height="37" fill="#feebe4"/><rect x="230.0" y="457" width="1.02" height="37" fill="#feede6"/><rect x="231.0" y="457" width="1.02" height="37" fill="#feefe9"/><rect x="232.0" y="457" width="1.02" height="37" fill="#feeee8"/><rect x="233.0" y="457" width="1.02" height="37" fill="#fff0eb"/><rect x="234.0" y="457" width="1.02" height="37" fill="#feebe4"/><rect x="235.0" y="457" width="1.02" height="37" fill="#feebe3"/><rect x="236.0" y="457" width="1.02" height="37" fill="#fff0ea"/><rect x="237.0" y="457" width="1.02" height="37" fill="#fff1ec"/><rect x="238.0" y="457" width="1.02" height="37" fill="#fff0ea"/><rect x="239.0" y="457" width="1.02" height="37" fill="#feefe9"/><rect x="240.0" y="457" width="1.02" height="37" fill="#feebe4"/><rect x="241.0" y="457" width="1.02" height="37" fill="#feebe4"/><rect x="242.0" y="457" width="1.02" height="37" fill="#feece5"/><rect x="243.0" y="457" width="1.02" height="37" fill="#fff1ec"/><rect x="244.0" y="457" width="1.02" height="37" fill="#feece5"/><rect x="245.0" y="457" width="1.02" height="37" fill="#feede6"/><rect x="246.0" y="457" width="1.02" height="37" fill="#feede6"/><rect x="247.0" y="457" width="1.02" height="37" fill="#feebe3"/><rect x="248.0" y="457" width="1.02" height="37" fill="#fff1eb"/><rect x="249.0" y="457" width="1.02" height="37" fill="#fff0eb"/><rect x="250.0" y="457" width="1.02" height="37" fill="#feece5"/><rect x="251.0" y="457" width="1.02" height="37" fill="#feebe4"/><rect x="252.0" y="457" width="1.02" height="37" fill="#feede6"/><rect x="253.0" y="457" width="1.02" height="37" fill="#ffefe9"/><rect x="254.0" y="457" width="1.02" height="37" fill="#feede7"/><rect x="255.0" y="457" width="1.02" height="37" fill="#feece5"/><rect x="256.0" y="457" width="1.02" height="37" fill="#fff1eb"/><rect x="257.0" y="457" width="1.02" height="37" fill="#feefe9"/><rect x="258.0" y="457" width="1.02" height="37" fill="#fff0ea"/><rect x="259.0" y="457" width="1.02" height="37" fill="#fff1eb"/><rect x="260.0" y="457" width="1.02" height="37" fill="#feeee8"/><rect x="261.0" y="457" width="1.02" height="37" fill="#fff0ea"/><rect x="262.0" y="457" width="1.02" height="37" fill="#fff0ea"/><rect x="263.0" y="457" width="1.02" height="37" fill="#fff0eb"/><rect x="264.0" y="457" width="1.02" height="37" fill="#feede6"/><rect x="265.0" y="457" width="1.02" height="37" fill="#fff1ec"/><rect x="266.0" y="457" width="1.02" height="37" fill="#feede6"/><rect x="267.0" y="457" width="1.02" height="37" fill="#fff0ea"/><rect x="268.0" y="457" width="1.02" height="37" fill="#fff1ec"/><rect x="269.0" y="457" width="1.02" height="37" fill="#feebe4"/><rect x="270.0" y="457" width="1.02" height="37" fill="#fff0ea"/><rect x="271.0" y="457" width="1.02" height="37" fill="#feebe4"/><rect x="272.0" y="457" width="1.02" height="37" fill="#feece4"/><rect x="273.0" y="457" width="1.02" height="37" fill="#feebe4"/><rect x="274.0" y="457" width="1.02" height="37" fill="#fff0eb"/><rect x="275.0" y="457" width="1.02" height="37" fill="#feeee8"/><rect x="276.0" y="457" width="1.02" height="37" fill="#fff1eb"/><rect x="277.0" y="457" width="1.02" height="37" fill="#feebe4"/><rect x="278.0" y="457" width="1.02" height="37" fill="#feece5"/><rect x="279.0" y="457" width="1.02" height="37" fill="#feede6"/><rect x="280.0" y="457" width="1.02" height="37" fill="#feeee8"/><rect x="281.0" y="457" width="1.02" height="37" fill="#feefe9"/><rect x="282.0" y="457" width="1.02" height="37" fill="#feece5"/><rect x="283.0" y="457" width="1.02" height="37" fill="#feeee8"/><rect x="284.0" y="457" width="1.02" height="37" fill="#feede6"/><rect x="285.0" y="457" width="1.02" height="37" fill="#fff0eb"/><rect x="286.0" y="457" width="1.02" height="37" fill="#fff0ea"/><rect x="287.0" y="457" width="1.02" height="37" fill="#fff1eb"/><rect x="288.0" y="457" width="1.02" height="37" fill="#feede6"/><rect x="289.0" y="457" width="1.02" height="37" fill="#feeee7"/><rect x="290.0" y="457" width="1.02" height="37" fill="#fff0eb"/><rect x="291.0" y="457" width="1.02" height="37" fill="#feece4"/><rect x="292.0" y="457" width="1.02" height="37" fill="#fff0ea"/><rect x="293.0" y="457" width="1.02" height="37" fill="#feefe8"/><rect x="294.0" y="457" width="1.02" height="37" fill="#fff0eb"/><rect x="295.0" y="457" width="1.02" height="37" fill="#fff0ea"/><rect x="296" y="457" width="1.02" height="37" fill="#fee5dc"/><rect x="297.0" y="457" width="1.02" height="37" fill="#fee9e1"/><rect x="298.0" y="457" width="1.02" height="37" fill="#fee8df"/><rect x="299.0" y="457" width="1.02" height="37" fill="#fbc5b5"/><rect x="300.0" y="457" width="1.02" height="37" fill="#fbc5b4"/><rect x="301.0" y="457" width="1.02" height="37" fill="#fee5db"/><rect x="302.0" y="457" width="1.02" height="37" fill="#feeae2"/><rect x="303.0" y="457" width="1.02" height="37" fill="#fee9e1"/><rect x="304.0" y="457" width="1.02" height="37" fill="#feeae2"/><rect x="305.0" y="457" width="1.02" height="37" fill="#fee4db"/><rect x="306.0" y="457" width="1.02" height="37" fill="#fbc5b5"/><rect x="307.0" y="457" width="1.02" height="37" fill="#fee9e1"/><rect x="308.0" y="457" width="1.02" height="37" fill="#feebe4"/><rect x="309.0" y="457" width="1.02" height="37" fill="#fee9e1"/><rect x="310.0" y="457" width="1.02" height="37" fill="#feebe4"/><rect x="311.0" y="457" width="1.02" height="37" fill="#fccbbb"/><rect x="312.0" y="457" width="1.02" height="37" fill="#feebe4"/><rect x="313.0" y="457" width="1.02" height="37" fill="#fee7df"/><rect x="314.0" y="457" width="1.02" height="37" fill="#fee8e0"/><rect x="315.0" y="457" width="1.02" height="37" fill="#feeae2"/><rect x="316.0" y="457" width="1.02" height="37" fill="#feeae3"/><rect x="317.0" y="457" width="1.02" height="37" fill="#fee6dd"/><rect x="318.0" y="457" width="1.02" height="37" fill="#fccdbd"/><rect x="319.0" y="457" width="1.02" height="37" fill="#feebe3"/><rect x="320.0" y="457" width="1.02" height="37" fill="#fee8df"/><rect x="321.0" y="457" width="1.02" height="37" fill="#feeae2"/><rect x="322.0" y="457" width="1.02" height="37" fill="#fee6dd"/><rect x="323.0" y="457" width="1.02" height="37" fill="#fee7de"/><rect x="324.0" y="457" width="1.02" height="37" fill="#feebe4"/><rect x="325.0" y="457" width="1.02" height="37" fill="#fee8e0"/><rect x="326.0" y="457" width="1.02" height="37" fill="#feebe4"/><rect x="327.0" y="457" width="1.02" height="37" fill="#fee9e1"/><rect x="328.0" y="457" width="1.02" height="37" fill="#fee5dc"/><rect x="329.0" y="457" width="1.02" height="37" fill="#feebe4"/><rect x="330.0" y="457" width="1.02" height="37" fill="#fee8e0"/><rect x="331.0" y="457" width="1.02" height="37" fill="#fee9e2"/><rect x="332.0" y="457" width="1.02" height="37" fill="#fee5dc"/><rect x="333.0" y="457" width="1.02" height="37" fill="#feeae3"/><rect x="334.0" y="457" width="1.02" height="37" fill="#fcc9b8"/><rect x="335.0" y="457" width="1.02" height="37" fill="#fee7df"/><rect x="336.0" y="457" width="1.02" height="37" fill="#fcc9b9"/><rect x="337.0" y="457" width="1.02" height="37" fill="#fee6dd"/><rect x="338.0" y="457" width="1.02" height="37" fill="#fee5dc"/><rect x="339.0" y="457" width="1.02" height="37" fill="#fee6dd"/><rect x="340.0" y="457" width="1.02" height="37" fill="#fbc7b7"/><rect x="341.0" y="457" width="1.02" height="37" fill="#fee5dc"/><rect x="342.0" y="457" width="1.02" height="37" fill="#fee8df"/><rect x="343.0" y="457" width="1.02" height="37" fill="#fee7df"/><rect x="344.0" y="457" width="1.02" height="37" fill="#feebe4"/><rect x="345.0" y="457" width="1.02" height="37" fill="#feeae2"/><rect x="346.0" y="457" width="1.02" height="37" fill="#feebe3"/><rect x="347.0" y="457" width="1.02" height="37" fill="#fbc6b6"/><rect x="348.0" y="457" width="1.02" height="37" fill="#feebe3"/><rect x="349.0" y="457" width="1.02" height="37" fill="#fccdbd"/><rect x="350.0" y="457" width="1.02" height="37" fill="#fee7de"/><rect x="351.0" y="457" width="1.02" height="37" fill="#fee7df"/><rect x="352.0" y="457" width="1.02" height="37" fill="#feebe3"/><rect x="353.0" y="457" width="1.02" height="37" fill="#fbc7b7"/><rect x="354.0" y="457" width="1.02" height="37" fill="#feeae3"/><rect x="355.0" y="457" width="1.02" height="37" fill="#fee8df"/><rect x="356.0" y="457" width="1.02" height="37" fill="#feeae3"/><rect x="357.0" y="457" width="1.02" height="37" fill="#feeae3"/><rect x="358.0" y="457" width="1.02" height="37" fill="#fbc6b6"/><rect x="359.0" y="457" width="1.02" height="37" fill="#fee7df"/><rect x="360.0" y="457" width="1.02" height="37" fill="#feeae3"/><rect x="361.0" y="457" width="1.02" height="37" fill="#fee4db"/><rect x="362.0" y="457" width="1.02" height="37" fill="#fee8e0"/><rect x="363.0" y="457" width="1.02" height="37" fill="#fee7df"/><rect x="364.0" y="457" width="1.02" height="37" fill="#fee4db"/><rect x="365.0" y="457" width="1.02" height="37" fill="#fee9e1"/><rect x="366.0" y="457" width="1.02" height="37" fill="#fee9e1"/><rect x="367.0" y="457" width="1.02" height="37" fill="#fee4db"/><rect x="368.0" y="457" width="1.02" height="37" fill="#fee5db"/><rect x="369.0" y="457" width="1.02" height="37" fill="#fbc6b6"/><rect x="370.0" y="457" width="1.02" height="37" fill="#fee7df"/><rect x="371.0" y="457" width="1.02" height="37" fill="#fee4db"/><rect x="372.0" y="457" width="1.02" height="37" fill="#fee8e0"/><rect x="373.0" y="457" width="1.02" height="37" fill="#fee9e1"/><rect x="374.0" y="457" width="1.02" height="37" fill="#feebe3"/><rect x="375.0" y="457" width="1.02" height="37" fill="#fcc9b9"/><rect x="376.0" y="457" width="1.02" height="37" fill="#feeae3"/><rect x="377.0" y="457" width="1.02" height="37" fill="#fee6dd"/><rect x="378.0" y="457" width="1.02" height="37" fill="#fee7de"/><rect x="379.0" y="457" width="1.02" height="37" fill="#fee5dc"/><rect x="380.0" y="457" width="1.02" height="37" fill="#feebe4"/><rect x="381.0" y="457" width="1.02" height="37" fill="#fee9e2"/><rect x="382.0" y="457" width="1.02" height="37" fill="#fee9e1"/><rect x="383.0" y="457" width="1.02" height="37" fill="#fee4db"/><rect x="384.0" y="457" width="1.02" height="37" fill="#fee9e2"/><rect x="385.0" y="457" width="1.02" height="37" fill="#fee8e0"/><rect x="386.0" y="457" width="1.02" height="37" fill="#fee9e1"/><rect x="387.0" y="457" width="1.02" height="37" fill="#fbc8b8"/><rect x="388.0" y="457" width="1.02" height="37" fill="#fee7de"/><rect x="389.0" y="457" width="1.02" height="37" fill="#fee7df"/><rect x="390.0" y="457" width="1.02" height="37" fill="#fee8e0"/><rect x="391.0" y="457" width="1.02" height="37" fill="#fccdbd"/><rect x="392" y="457" width="1.02" height="37" fill="#f9a998"/><rect x="393.0" y="457" width="1.02" height="37" fill="#f8a392"/><rect x="394.0" y="457" width="1.02" height="37" fill="#f47c6b"/><rect x="395.0" y="457" width="1.02" height="37" fill="#f8a08f"/><rect x="396.0" y="457" width="1.02" height="37" fill="#f89f8e"/><rect x="397.0" y="457" width="1.02" height="37" fill="#f89e8d"/><rect x="398.0" y="457" width="1.02" height="37" fill="#f89d8c"/><rect x="399.0" y="457" width="1.02" height="37" fill="#f8a08f"/><rect x="400.0" y="457" width="1.02" height="37" fill="#f8a291"/><rect x="401.0" y="457" width="1.02" height="37" fill="#f8a696"/><rect x="402" y="457" width="1.02" height="37" fill="#ed4336"/><rect x="403.0" y="457" width="1.02" height="37" fill="#e6221c"/><rect x="404.0" y="457" width="1.02" height="37" fill="#ed483a"/><rect x="405.0" y="457" width="1.02" height="37" fill="#ee4c3d"/><rect x="406" y="457" width="1.02" height="37" fill="#fdd6c9"/><rect x="407.0" y="457" width="1.02" height="37" fill="#fcd1c2"/><rect x="408" y="457" width="1.02" height="37" fill="#fbbeae"/><rect x="409.0" y="457" width="1.02" height="37" fill="#fccaba"/><rect x="410.0" y="457" width="1.02" height="37" fill="#f79b8b"/><rect x="411.0" y="457" width="1.02" height="37" fill="#fbc5b4"/><rect x="412.0" y="457" width="1.02" height="37" fill="#f79786"/><rect x="413.0" y="457" width="1.02" height="37" fill="#fbc7b7"/><rect x="414.0" y="457" width="1.02" height="37" fill="#fbbfaf"/><rect x="415.0" y="457" width="1.02" height="37" fill="#fbc5b5"/><rect x="416.0" y="457" width="1.02" height="37" fill="#fbc0b0"/><rect x="417.0" y="457" width="1.02" height="37" fill="#fabdad"/><rect x="418.0" y="457" width="1.02" height="37" fill="#fbc3b2"/><rect x="419.0" y="457" width="1.02" height="37" fill="#fbbfaf"/><rect x="420.0" y="457" width="1.02" height="37" fill="#fbc3b3"/><rect x="421.0" y="457" width="1.02" height="37" fill="#fbbfaf"/><rect x="422.0" y="457" width="1.02" height="37" fill="#fcc9b9"/><rect x="423.0" y="457" width="1.02" height="37" fill="#fccbbb"/><rect x="424.0" y="457" width="1.02" height="37" fill="#fbc1b1"/><rect x="425.0" y="457" width="1.02" height="37" fill="#fabbab"/><rect x="426.0" y="457" width="1.02" height="37" fill="#fbc4b4"/><rect x="427.0" y="457" width="1.02" height="37" fill="#fabdac"/><rect x="428.0" y="457" width="1.02" height="37" fill="#fbc5b5"/><rect x="429.0" y="457" width="1.02" height="37" fill="#fbc3b3"/><rect x="430.0" y="457" width="1.02" height="37" fill="#fbc6b6"/><rect x="431.0" y="457" width="1.02" height="37" fill="#fbc2b2"/><rect x="432.0" y="457" width="1.02" height="37" fill="#fbc6b6"/><rect x="433.0" y="457" width="1.02" height="37" fill="#fabdad"/><rect x="434.0" y="457" width="1.02" height="37" fill="#fbc4b4"/><rect x="435.0" y="457" width="1.02" height="37" fill="#f89e8d"/><rect x="436.0" y="457" width="1.02" height="37" fill="#fbc2b1"/><rect x="437" y="457" width="1.02" height="37" fill="#fdd7ca"/><rect x="438.0" y="457" width="1.02" height="37" fill="#fcd5c7"/><rect x="439.0" y="457" width="1.02" height="37" fill="#fccfc0"/><rect x="440.0" y="457" width="1.02" height="37" fill="#fdd6c8"/><rect x="441.0" y="457" width="1.02" height="37" fill="#f8a796"/><rect x="442.0" y="457" width="1.02" height="37" fill="#fdd7ca"/><rect x="443.0" y="457" width="1.02" height="37" fill="#fcd3c4"/><rect x="444.0" y="457" width="1.02" height="37" fill="#fcd0c1"/><rect x="445.0" y="457" width="1.02" height="37" fill="#fccebe"/><rect x="446.0" y="457" width="1.02" height="37" fill="#fcd3c4"/><rect x="447.0" y="457" width="1.02" height="37" fill="#fcd4c6"/><rect x="448.0" y="457" width="1.02" height="37" fill="#fcd2c3"/><rect x="449.0" y="457" width="1.02" height="37" fill="#fccebe"/><rect x="450.0" y="457" width="1.02" height="37" fill="#f9ac9b"/><rect x="451.0" y="457" width="1.02" height="37" fill="#fcd4c6"/><rect x="452.0" y="457" width="1.02" height="37" fill="#fcd2c3"/><rect x="453.0" y="457" width="1.02" height="37" fill="#fccfbf"/><rect x="454.0" y="457" width="1.02" height="37" fill="#fcd3c4"/><rect x="455.0" y="457" width="1.02" height="37" fill="#fcd2c3"/><rect x="456.0" y="457" width="1.02" height="37" fill="#fcd4c6"/><rect x="457.0" y="457" width="1.02" height="37" fill="#fcd0c0"/><rect x="458.0" y="457" width="1.02" height="37" fill="#fcd5c7"/><rect x="459.0" y="457" width="1.02" height="37" fill="#fcd0c0"/><rect x="460.0" y="457" width="1.02" height="37" fill="#fdd7c9"/><rect x="461.0" y="457" width="1.02" height="37" fill="#fcd1c2"/><rect x="462.0" y="457" width="1.02" height="37" fill="#fccebe"/><rect x="463.0" y="457" width="1.02" height="37" fill="#fcd4c5"/><rect x="464.0" y="457" width="1.02" height="37" fill="#fdd5c7"/><rect x="465" y="457" width="1.02" height="37" fill="#fde0d5"/><rect x="466.0" y="457" width="1.02" height="37" fill="#fee2d8"/><rect x="467.0" y="457" width="1.02" height="37" fill="#fddfd4"/><rect x="468.0" y="457" width="1.02" height="37" fill="#fddbcf"/><rect x="469.0" y="457" width="1.02" height="37" fill="#fee3da"/><rect x="470.0" y="457" width="1.02" height="37" fill="#fdddd2"/><rect x="471.0" y="457" width="1.02" height="37" fill="#fabcac"/><rect x="472.0" y="457" width="1.02" height="37" fill="#fde1d7"/><rect x="473.0" y="457" width="1.02" height="37" fill="#fddfd4"/><rect x="474.0" y="457" width="1.02" height="37" fill="#fee2d8"/><rect x="475.0" y="457" width="1.02" height="37" fill="#fddfd4"/><rect x="476.0" y="457" width="1.02" height="37" fill="#fdded3"/><rect x="477.0" y="457" width="1.02" height="37" fill="#fddbcf"/><rect x="478.0" y="457" width="1.02" height="37" fill="#fbbfaf"/><rect x="479.0" y="457" width="1.02" height="37" fill="#fee2d9"/><rect x="480.0" y="457" width="1.02" height="37" fill="#fbc3b3"/><rect x="481.0" y="457" width="1.02" height="37" fill="#fee2d8"/><rect x="482.0" y="457" width="1.02" height="37" fill="#fdddd1"/><rect x="483.0" y="457" width="1.02" height="37" fill="#fabbaa"/><rect x="484.0" y="457" width="1.02" height="37" fill="#fee4da"/><rect x="485.0" y="457" width="1.02" height="37" fill="#fde1d7"/><rect x="486.0" y="457" width="1.02" height="37" fill="#fde1d6"/><rect x="487.0" y="457" width="1.02" height="37" fill="#fbc1b1"/><rect x="488.0" y="457" width="1.02" height="37" fill="#fddcd0"/><rect x="489.0" y="457" width="1.02" height="37" fill="#fde1d7"/><rect x="490.0" y="457" width="1.02" height="37" fill="#fbc0af"/><rect x="491.0" y="457" width="1.02" height="37" fill="#fddcd1"/><rect x="492.0" y="457" width="1.02" height="37" fill="#fddcd0"/><rect x="493.0" y="457" width="1.02" height="37" fill="#fddfd4"/><rect x="494.0" y="457" width="1.02" height="37" fill="#fee3da"/><rect x="495.0" y="457" width="1.02" height="37" fill="#fdddd1"/><rect x="496.0" y="457" width="1.02" height="37" fill="#fddcd0"/><rect x="497.0" y="457" width="1.02" height="37" fill="#fde1d7"/><rect x="498.0" y="457" width="1.02" height="37" fill="#fddcd0"/><rect x="499.0" y="457" width="1.02" height="37" fill="#fddcd0"/><rect x="500.0" y="457" width="1.02" height="37" fill="#fde1d6"/><rect x="501.0" y="457" width="1.02" height="37" fill="#fde2d8"/><rect x="502.0" y="457" width="1.02" height="37" fill="#fddcd1"/><rect x="503.0" y="457" width="1.02" height="37" fill="#fdddd2"/><rect x="504.0" y="457" width="1.02" height="37" fill="#fee2d8"/><rect x="505.0" y="457" width="1.02" height="37" fill="#fee2d8"/><rect x="506.0" y="457" width="1.02" height="37" fill="#fde1d7"/><rect x="507.0" y="457" width="1.02" height="37" fill="#fee3d9"/><rect x="508.0" y="457" width="1.02" height="37" fill="#fde1d6"/><rect x="509.0" y="457" width="1.02" height="37" fill="#fbc3b3"/><rect x="510.0" y="457" width="1.02" height="37" fill="#fdddd1"/><rect x="511.0" y="457" width="1.02" height="37" fill="#fde2d8"/><rect x="512.0" y="457" width="1.02" height="37" fill="#fde1d7"/><rect x="513.0" y="457" width="1.02" height="37" fill="#fee4da"/><rect x="514.0" y="457" width="1.02" height="37" fill="#fde1d7"/><rect x="515.0" y="457" width="1.02" height="37" fill="#fabcac"/><rect x="516.0" y="457" width="1.02" height="37" fill="#fde2d7"/><rect x="517.0" y="457" width="1.02" height="37" fill="#fee3d9"/><rect x="518.0" y="457" width="1.02" height="37" fill="#fdddd1"/><rect x="519.0" y="457" width="1.02" height="37" fill="#fee2d9"/><rect x="520.0" y="457" width="1.02" height="37" fill="#fdded2"/><rect x="521.0" y="457" width="1.02" height="37" fill="#fddcd0"/><rect x="522.0" y="457" width="1.02" height="37" fill="#fddcd0"/><rect x="523.0" y="457" width="1.02" height="37" fill="#fde2d8"/><rect x="524.0" y="457" width="1.02" height="37" fill="#fee3d9"/><rect x="525.0" y="457" width="1.02" height="37" fill="#fde2d8"/><rect x="526.0" y="457" width="1.02" height="37" fill="#fddfd4"/><rect x="527.0" y="457" width="1.02" height="37" fill="#fde2d8"/><rect x="528.0" y="457" width="1.02" height="37" fill="#fee2d8"/><rect x="529.0" y="457" width="1.02" height="37" fill="#fee3d9"/><rect x="530.0" y="457" width="1.02" height="37" fill="#fddfd4"/><rect x="531.0" y="457" width="1.02" height="37" fill="#fdddd2"/><rect x="532.0" y="457" width="1.02" height="37" fill="#fdded3"/><rect x="533.0" y="457" width="1.02" height="37" fill="#fde1d7"/><rect x="534.0" y="457" width="1.02" height="37" fill="#fee3d9"/><rect x="535.0" y="457" width="1.02" height="37" fill="#fdddd1"/></g><defs><pattern id="spk" width="30" height="30" patternUnits="userSpaceOnUse"><rect x="12" y="0" width="2" height="1" fill="#fff"/><rect x="20" y="0" width="2" height="1" fill="#fff"/><rect x="22" y="0" width="2" height="1" fill="#ea5a45"/><rect x="24" y="0" width="2" height="1" fill="#fff"/><rect x="0" y="1" width="2" height="1" fill="#fff"/><rect x="10" y="1" width="2" height="1" fill="#fff"/><rect x="12" y="1" width="2" height="1" fill="#fff"/><rect x="16" y="1" width="2" height="1" fill="#fff"/><rect x="18" y="1" width="2" height="1" fill="#fff"/><rect x="20" y="1" width="2" height="1" fill="#fff"/><rect x="22" y="1" width="2" height="1" fill="#fff"/><rect x="26" y="1" width="2" height="1" fill="#ea5a45"/><rect x="10" y="2" width="2" height="1" fill="#ea5a45"/><rect x="20" y="2" width="2" height="1" fill="#ea5a45"/><rect x="22" y="2" width="2" height="1" fill="#fff"/><rect x="24" y="2" width="2" height="1" fill="#ea5a45"/><rect x="26" y="2" width="2" height="1" fill="#fff"/><rect x="0" y="3" width="2" height="1" fill="#ea5a45"/><rect x="4" y="3" width="2" height="1" fill="#ea5a45"/><rect x="10" y="3" width="2" height="1" fill="#fff"/><rect x="12" y="3" width="2" height="1" fill="#fff"/><rect x="20" y="3" width="2" height="1" fill="#ea5a45"/><rect x="22" y="3" width="2" height="1" fill="#fff"/><rect x="28" y="3" width="2" height="1" fill="#ea5a45"/><rect x="0" y="4" width="2" height="1" fill="#fff"/><rect x="2" y="4" width="2" height="1" fill="#ea5a45"/><rect x="8" y="4" width="2" height="1" fill="#fff"/><rect x="10" y="4" width="2" height="1" fill="#fff"/><rect x="12" y="4" width="2" height="1" fill="#fff"/><rect x="14" y="4" width="2" height="1" fill="#fff"/><rect x="18" y="4" width="2" height="1" fill="#fff"/><rect x="22" y="4" width="2" height="1" fill="#ea5a45"/><rect x="24" y="4" width="2" height="1" fill="#fff"/><rect x="28" y="4" width="2" height="1" fill="#fff"/><rect x="2" y="5" width="2" height="1" fill="#fff"/><rect x="4" y="5" width="2" height="1" fill="#ea5a45"/><rect x="6" y="5" width="2" height="1" fill="#fff"/><rect x="8" y="5" width="2" height="1" fill="#ea5a45"/><rect x="14" y="5" width="2" height="1" fill="#ea5a45"/><rect x="18" y="5" width="2" height="1" fill="#fff"/><rect x="20" y="5" width="2" height="1" fill="#ea5a45"/><rect x="26" y="5" width="2" height="1" fill="#fff"/><rect x="0" y="6" width="2" height="1" fill="#fff"/><rect x="2" y="6" width="2" height="1" fill="#ea5a45"/><rect x="6" y="6" width="2" height="1" fill="#ea5a45"/><rect x="8" y="6" width="2" height="1" fill="#ea5a45"/><rect x="10" y="6" width="2" height="1" fill="#fff"/><rect x="12" y="6" width="2" height="1" fill="#fff"/><rect x="16" y="6" width="2" height="1" fill="#fff"/><rect x="20" y="6" width="2" height="1" fill="#ea5a45"/><rect x="2" y="7" width="2" height="1" fill="#fff"/><rect x="4" y="7" width="2" height="1" fill="#fff"/><rect x="10" y="7" width="2" height="1" fill="#fff"/><rect x="12" y="7" width="2" height="1" fill="#fff"/><rect x="18" y="7" width="2" height="1" fill="#fff"/><rect x="26" y="7" width="2" height="1" fill="#ea5a45"/><rect x="28" y="7" width="2" height="1" fill="#fff"/><rect x="0" y="8" width="2" height="1" fill="#fff"/><rect x="4" y="8" width="2" height="1" fill="#fff"/><rect x="8" y="8" width="2" height="1" fill="#ea5a45"/><rect x="14" y="8" width="2" height="1" fill="#ea5a45"/><rect x="16" y="8" width="2" height="1" fill="#fff"/><rect x="20" y="8" width="2" height="1" fill="#fff"/><rect x="22" y="8" width="2" height="1" fill="#fff"/><rect x="0" y="9" width="2" height="1" fill="#ea5a45"/><rect x="4" y="9" width="2" height="1" fill="#fff"/><rect x="6" y="9" width="2" height="1" fill="#fff"/><rect x="8" y="9" width="2" height="1" fill="#ea5a45"/><rect x="10" y="9" width="2" height="1" fill="#ea5a45"/><rect x="12" y="9" width="2" height="1" fill="#fff"/><rect x="14" y="9" width="2" height="1" fill="#fff"/><rect x="16" y="9" width="2" height="1" fill="#ea5a45"/><rect x="20" y="9" width="2" height="1" fill="#fff"/><rect x="22" y="9" width="2" height="1" fill="#ea5a45"/><rect x="4" y="10" width="2" height="1" fill="#fff"/><rect x="6" y="10" width="2" height="1" fill="#fff"/><rect x="8" y="10" width="2" height="1" fill="#fff"/><rect x="16" y="10" width="2" height="1" fill="#fff"/><rect x="24" y="10" width="2" height="1" fill="#ea5a45"/><rect x="28" y="10" width="2" height="1" fill="#fff"/><rect x="14" y="11" width="2" height="1" fill="#ea5a45"/><rect x="22" y="11" width="2" height="1" fill="#ea5a45"/><rect x="2" y="12" width="2" height="1" fill="#ea5a45"/><rect x="8" y="12" width="2" height="1" fill="#fff"/><rect x="18" y="12" width="2" height="1" fill="#ea5a45"/><rect x="24" y="12" width="2" height="1" fill="#ea5a45"/><rect x="28" y="12" width="2" height="1" fill="#fff"/><rect x="2" y="13" width="2" height="1" fill="#fff"/><rect x="8" y="13" width="2" height="1" fill="#fff"/><rect x="18" y="13" width="2" height="1" fill="#ea5a45"/><rect x="20" y="13" width="2" height="1" fill="#fff"/><rect x="22" y="13" width="2" height="1" fill="#ea5a45"/><rect x="26" y="13" width="2" height="1" fill="#fff"/><rect x="28" y="13" width="2" height="1" fill="#fff"/><rect x="4" y="14" width="2" height="1" fill="#ea5a45"/><rect x="8" y="14" width="2" height="1" fill="#ea5a45"/><rect x="12" y="14" width="2" height="1" fill="#fff"/><rect x="14" y="14" width="2" height="1" fill="#ea5a45"/><rect x="22" y="14" width="2" height="1" fill="#ea5a45"/><rect x="26" y="14" width="2" height="1" fill="#ea5a45"/><rect x="28" y="14" width="2" height="1" fill="#fff"/><rect x="10" y="15" width="2" height="1" fill="#ea5a45"/><rect x="12" y="15" width="2" height="1" fill="#fff"/><rect x="16" y="15" width="2" height="1" fill="#ea5a45"/><rect x="18" y="15" width="2" height="1" fill="#fff"/><rect x="20" y="15" width="2" height="1" fill="#ea5a45"/><rect x="26" y="15" width="2" height="1" fill="#ea5a45"/><rect x="4" y="16" width="2" height="1" fill="#fff"/><rect x="6" y="16" width="2" height="1" fill="#fff"/><rect x="10" y="16" width="2" height="1" fill="#fff"/><rect x="16" y="16" width="2" height="1" fill="#ea5a45"/><rect x="20" y="16" width="2" height="1" fill="#fff"/><rect x="22" y="16" width="2" height="1" fill="#fff"/><rect x="26" y="16" width="2" height="1" fill="#fff"/><rect x="0" y="17" width="2" height="1" fill="#fff"/><rect x="2" y="17" width="2" height="1" fill="#fff"/><rect x="4" y="17" width="2" height="1" fill="#fff"/><rect x="8" y="17" width="2" height="1" fill="#ea5a45"/><rect x="20" y="17" width="2" height="1" fill="#fff"/><rect x="24" y="17" width="2" height="1" fill="#fff"/><rect x="26" y="17" width="2" height="1" fill="#fff"/><rect x="2" y="18" width="2" height="1" fill="#fff"/><rect x="4" y="18" width="2" height="1" fill="#ea5a45"/><rect x="6" y="18" width="2" height="1" fill="#ea5a45"/><rect x="16" y="18" width="2" height="1" fill="#ea5a45"/><rect x="22" y="18" width="2" height="1" fill="#fff"/><rect x="28" y="18" width="2" height="1" fill="#fff"/><rect x="6" y="19" width="2" height="1" fill="#ea5a45"/><rect x="20" y="19" width="2" height="1" fill="#fff"/><rect x="0" y="20" width="2" height="1" fill="#fff"/><rect x="12" y="20" width="2" height="1" fill="#ea5a45"/><rect x="18" y="20" width="2" height="1" fill="#ea5a45"/><rect x="20" y="20" width="2" height="1" fill="#fff"/><rect x="22" y="20" width="2" height="1" fill="#ea5a45"/><rect x="0" y="21" width="2" height="1" fill="#fff"/><rect x="4" y="21" width="2" height="1" fill="#fff"/><rect x="8" y="21" width="2" height="1" fill="#fff"/><rect x="10" y="21" width="2" height="1" fill="#ea5a45"/><rect x="14" y="21" width="2" height="1" fill="#fff"/><rect x="16" y="21" width="2" height="1" fill="#fff"/><rect x="2" y="22" width="2" height="1" fill="#fff"/><rect x="4" y="22" width="2" height="1" fill="#fff"/><rect x="8" y="22" width="2" height="1" fill="#ea5a45"/><rect x="20" y="22" width="2" height="1" fill="#ea5a45"/><rect x="22" y="22" width="2" height="1" fill="#ea5a45"/><rect x="28" y="22" width="2" height="1" fill="#fff"/><rect x="8" y="23" width="2" height="1" fill="#fff"/><rect x="16" y="23" width="2" height="1" fill="#fff"/><rect x="22" y="23" width="2" height="1" fill="#ea5a45"/><rect x="2" y="24" width="2" height="1" fill="#fff"/><rect x="6" y="24" width="2" height="1" fill="#ea5a45"/><rect x="12" y="24" width="2" height="1" fill="#ea5a45"/><rect x="16" y="24" width="2" height="1" fill="#fff"/><rect x="18" y="24" width="2" height="1" fill="#ea5a45"/><rect x="26" y="24" width="2" height="1" fill="#ea5a45"/><rect x="28" y="24" width="2" height="1" fill="#fff"/><rect x="4" y="25" width="2" height="1" fill="#fff"/><rect x="8" y="25" width="2" height="1" fill="#fff"/><rect x="10" y="25" width="2" height="1" fill="#fff"/><rect x="12" y="25" width="2" height="1" fill="#fff"/><rect x="16" y="25" width="2" height="1" fill="#ea5a45"/><rect x="18" y="25" width="2" height="1" fill="#ea5a45"/><rect x="22" y="25" width="2" height="1" fill="#fff"/><rect x="26" y="25" width="2" height="1" fill="#fff"/><rect x="0" y="26" width="2" height="1" fill="#ea5a45"/><rect x="2" y="26" width="2" height="1" fill="#fff"/><rect x="6" y="26" width="2" height="1" fill="#ea5a45"/><rect x="8" y="26" width="2" height="1" fill="#ea5a45"/><rect x="10" y="26" width="2" height="1" fill="#ea5a45"/><rect x="14" y="26" width="2" height="1" fill="#fff"/><rect x="16" y="26" width="2" height="1" fill="#fff"/><rect x="0" y="27" width="2" height="1" fill="#fff"/><rect x="8" y="27" width="2" height="1" fill="#ea5a45"/><rect x="10" y="27" width="2" height="1" fill="#ea5a45"/><rect x="14" y="27" width="2" height="1" fill="#fff"/><rect x="20" y="27" width="2" height="1" fill="#fff"/><rect x="22" y="27" width="2" height="1" fill="#fff"/><rect x="26" y="27" width="2" height="1" fill="#ea5a45"/><rect x="28" y="27" width="2" height="1" fill="#fff"/><rect x="2" y="28" width="2" height="1" fill="#ea5a45"/><rect x="6" y="28" width="2" height="1" fill="#fff"/><rect x="8" y="28" width="2" height="1" fill="#ea5a45"/><rect x="12" y="28" width="2" height="1" fill="#fff"/><rect x="14" y="28" width="2" height="1" fill="#fff"/><rect x="22" y="28" width="2" height="1" fill="#fff"/><rect x="2" y="29" width="2" height="1" fill="#fff"/><rect x="4" y="29" width="2" height="1" fill="#fff"/><rect x="6" y="29" width="2" height="1" fill="#fff"/><rect x="8" y="29" width="2" height="1" fill="#fff"/><rect x="16" y="29" width="2" height="1" fill="#fff"/><rect x="18" y="29" width="2" height="1" fill="#fff"/><rect x="20" y="29" width="2" height="1" fill="#fff"/><rect x="28" y="29" width="2" height="1" fill="#fff"/></pattern><pattern id="spk2" width="30" height="24" patternUnits="userSpaceOnUse"><rect x="0" y="0" width="3" height="2" fill="#fff"/><rect x="12" y="0" width="3" height="2" fill="#ee7560"/><rect x="27" y="0" width="3" height="2" fill="#fff"/><rect x="6" y="2" width="3" height="2" fill="#fff"/><rect x="18" y="2" width="3" height="2" fill="#fff"/><rect x="21" y="2" width="3" height="2" fill="#fff"/><rect x="27" y="2" width="3" height="2" fill="#fff"/><rect x="0" y="6" width="3" height="2" fill="#ee7560"/><rect x="9" y="8" width="3" height="2" fill="#fff"/><rect x="18" y="8" width="3" height="2" fill="#fff"/><rect x="0" y="10" width="3" height="2" fill="#ee7560"/><rect x="9" y="10" width="3" height="2" fill="#ee7560"/><rect x="9" y="12" width="3" height="2" fill="#fff"/><rect x="18" y="12" width="3" height="2" fill="#ee7560"/><rect x="24" y="12" width="3" height="2" fill="#fff"/><rect x="27" y="12" width="3" height="2" fill="#fff"/><rect x="3" y="14" width="3" height="2" fill="#fff"/><rect x="6" y="14" width="3" height="2" fill="#ee7560"/><rect x="3" y="16" width="3" height="2" fill="#fff"/><rect x="12" y="16" width="3" height="2" fill="#fff"/><rect x="18" y="16" width="3" height="2" fill="#fff"/><rect x="24" y="16" width="3" height="2" fill="#fff"/><rect x="3" y="18" width="3" height="2" fill="#fff"/><rect x="21" y="18" width="3" height="2" fill="#ee7560"/><rect x="0" y="20" width="3" height="2" fill="#ee7560"/><rect x="6" y="20" width="3" height="2" fill="#ee7560"/><rect x="9" y="20" width="3" height="2" fill="#fff"/><rect x="12" y="20" width="3" height="2" fill="#ee7560"/><rect x="15" y="20" width="3" height="2" fill="#fff"/><rect x="18" y="20" width="3" height="2" fill="#fff"/><rect x="3" y="22" width="3" height="2" fill="#fff"/><rect x="12" y="22" width="3" height="2" fill="#fff"/><rect x="27" y="22" width="3" height="2" fill="#ee7560"/></pattern></defs><g shape-rendering="crispEdges"><rect x="296" y="384" width="240" height="36" fill="url(#spk)" opacity="0.32"/><rect x="200" y="384" width="96" height="36" fill="url(#spk)" opacity="0.18"/><rect x="296" y="345" width="240" height="38" fill="url(#spk2)" opacity="0.25"/><rect x="296" y="420" width="240" height="37" fill="url(#spk2)" opacity="0.2"/></g><rect x="31.8" y="345" width="3.2" height="112" fill="#e5161b"/><rect x="31.8" y="457" width="3.2" height="36.8" fill="#f0604e"/><rect x="536.6" y="345" width="6" height="38.5" fill="#19b3ee"/><rect x="536.6" y="383.5" width="6" height="36.5" fill="#fb5318"/><rect x="536.6" y="420" width="6" height="37" fill="#ffe800"/><rect x="536.6" y="457" width="6" height="37" fill="#12a94a"/><rect x="72" y="511.3" width="110.4" height="17.7" fill="#19b3ee"/><text x="80" y="524.5" textLength="95.6" lengthAdjust="spacingAndGlyphs" font-family='"Liberation Sans", sans-serif' font-size="12.2" fill="#1a1a1a" stroke="#1a1a1a" stroke-width="0.25">Generated sample</text><rect x="182.4" y="511.3" width="104.79999999999998" height="17.7" fill="#fb5318"/><text x="189" y="524.5" textLength="91.8" lengthAdjust="spacingAndGlyphs" font-family='"Liberation Sans", sans-serif' font-size="12.2" fill="#1a1a1a" stroke="#1a1a1a" stroke-width="0.25">True BRCA in liver</text><rect x="287.2" y="511.3" width="108.10000000000002" height="17.7" fill="#ffe800"/><text x="307.7" y="524.5" textLength="72" lengthAdjust="spacingAndGlyphs" font-family='"Liberation Sans", sans-serif' font-size="12.2" fill="#1a1a1a" stroke="#1a1a1a" stroke-width="0.25">Primary BRCA</text><rect x="395.3" y="511.3" width="106.69999999999999" height="17.7" fill="#12a94a"/><text x="401.1" y="524.5" textLength="96.5" lengthAdjust="spacingAndGlyphs" font-family='"Liberation Sans", sans-serif' font-size="12.2" fill="#1a1a1a" stroke="#1a1a1a" stroke-width="0.25">Normal liver tissue</text></svg>
</div></body></html>
